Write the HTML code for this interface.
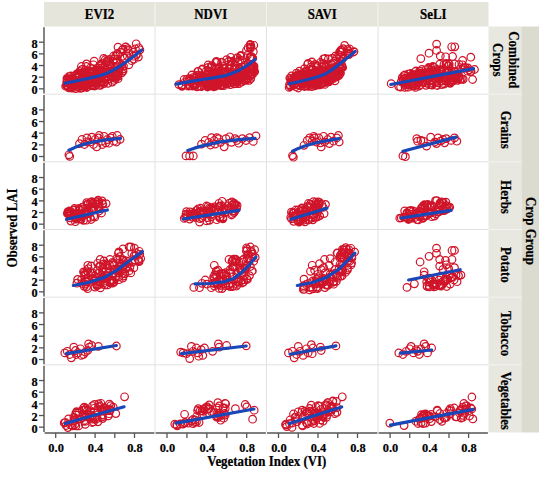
<!DOCTYPE html><html><head><meta charset="utf-8"><style>
html,body{margin:0;padding:0;background:#fff;width:550px;height:479px;overflow:hidden}
svg{display:block}
text{font-family:"Liberation Serif",serif;font-weight:bold;fill:#000;stroke:#000;stroke-width:0.2px}
</style></head><body>
<svg width="550" height="479" viewBox="0 0 550 479">

<rect x="44" y="2" width="444.5" height="24.5" fill="#e6e5dc"/>
<rect x="488.5" y="26.5" width="33" height="406" fill="#e8e7e0"/>
<rect x="521.5" y="26.5" width="17.5" height="406" fill="#dcdbcf"/>
<line x1="155" y1="2" x2="155" y2="26.5" stroke="#f4f4ef" stroke-width="1"/>
<line x1="266.5" y1="2" x2="266.5" y2="26.5" stroke="#f4f4ef" stroke-width="1"/>
<line x1="378" y1="2" x2="378" y2="26.5" stroke="#f4f4ef" stroke-width="1"/>
<line x1="488.5" y1="94.17" x2="521.5" y2="94.17" stroke="#f4f4ef" stroke-width="1"/>
<line x1="488.5" y1="161.83" x2="521.5" y2="161.83" stroke="#f4f4ef" stroke-width="1"/>
<line x1="488.5" y1="229.50" x2="521.5" y2="229.50" stroke="#f4f4ef" stroke-width="1"/>
<line x1="488.5" y1="297.17" x2="521.5" y2="297.17" stroke="#f4f4ef" stroke-width="1"/>
<line x1="488.5" y1="364.83" x2="521.5" y2="364.83" stroke="#f4f4ef" stroke-width="1"/>
<line x1="155" y1="26.5" x2="155" y2="432.5" stroke="#e2e2e2" stroke-width="1"/>
<line x1="266.5" y1="26.5" x2="266.5" y2="432.5" stroke="#e2e2e2" stroke-width="1"/>
<line x1="378" y1="26.5" x2="378" y2="432.5" stroke="#e2e2e2" stroke-width="1"/>
<line x1="44" y1="94.17" x2="488.5" y2="94.17" stroke="#e2e2e2" stroke-width="1"/>
<line x1="44" y1="161.83" x2="488.5" y2="161.83" stroke="#e2e2e2" stroke-width="1"/>
<line x1="44" y1="229.50" x2="488.5" y2="229.50" stroke="#e2e2e2" stroke-width="1"/>
<line x1="44" y1="297.17" x2="488.5" y2="297.17" stroke="#e2e2e2" stroke-width="1"/>
<line x1="44" y1="364.83" x2="488.5" y2="364.83" stroke="#e2e2e2" stroke-width="1"/>
<text transform="translate(99.50,18.90) scale(1,1.06)" font-size="12.9" text-anchor="middle">EVI2</text>
<text transform="translate(210.75,18.90) scale(1,1.06)" font-size="12.9" text-anchor="middle">NDVI</text>
<text transform="translate(322.25,18.90) scale(1,1.06)" font-size="12.9" text-anchor="middle">SAVI</text>
<text transform="translate(433.25,18.90) scale(1,1.06)" font-size="12.9" text-anchor="middle">SeLI</text>
<text transform="translate(508.80,59.83) rotate(90) scale(1,1.06)" font-size="12.9" text-anchor="middle">Combined</text>
<text transform="translate(493.30,59.83) rotate(90) scale(1,1.06)" font-size="12.9" text-anchor="middle">Crops</text>
<text transform="translate(500.80,129.75) rotate(90) scale(1,1.06)" font-size="12.9" text-anchor="middle">Grains</text>
<text transform="translate(500.80,197.07) rotate(90) scale(1,1.06)" font-size="12.9" text-anchor="middle">Herbs</text>
<text transform="translate(500.80,264.78) rotate(90) scale(1,1.06)" font-size="12.9" text-anchor="middle">Potato</text>
<text transform="translate(500.80,333.60) rotate(90) scale(1,1.06)" font-size="12.9" text-anchor="middle">Tobacco</text>
<text transform="translate(500.80,400.77) rotate(90) scale(1,1.06)" font-size="12.9" text-anchor="middle">Vegetables</text>
<text transform="translate(525.50,231.00) rotate(90) scale(1,1.06)" font-size="12.9" text-anchor="middle">Crop Group</text>
<text transform="translate(16.80,228.00) rotate(-90) scale(1,1.06)" font-size="12.9" text-anchor="middle">Observed LAI</text>
<text transform="translate(266.80,465.90) scale(1,1.06)" font-size="12.9" text-anchor="middle">Vegetation Index (VI)</text>
<line x1="44" y1="27.30" x2="44" y2="93.57" stroke="#666" stroke-width="1.6"/>
<line x1="39" y1="88.85" x2="44" y2="88.85" stroke="#555" stroke-width="1.3"/>
<text transform="translate(37.60,94.35) scale(1,1.08)" font-size="12.3" text-anchor="end">0</text>
<line x1="39" y1="77.19" x2="44" y2="77.19" stroke="#555" stroke-width="1.3"/>
<text transform="translate(37.60,82.69) scale(1,1.08)" font-size="12.3" text-anchor="end">2</text>
<line x1="39" y1="65.53" x2="44" y2="65.53" stroke="#555" stroke-width="1.3"/>
<text transform="translate(37.60,71.03) scale(1,1.08)" font-size="12.3" text-anchor="end">4</text>
<line x1="39" y1="53.87" x2="44" y2="53.87" stroke="#555" stroke-width="1.3"/>
<text transform="translate(37.60,59.37) scale(1,1.08)" font-size="12.3" text-anchor="end">6</text>
<line x1="39" y1="42.21" x2="44" y2="42.21" stroke="#555" stroke-width="1.3"/>
<text transform="translate(37.60,47.71) scale(1,1.08)" font-size="12.3" text-anchor="end">8</text>
<line x1="44" y1="94.97" x2="44" y2="161.23" stroke="#666" stroke-width="1.6"/>
<line x1="39" y1="156.52" x2="44" y2="156.52" stroke="#555" stroke-width="1.3"/>
<text transform="translate(37.60,162.02) scale(1,1.08)" font-size="12.3" text-anchor="end">0</text>
<line x1="39" y1="144.86" x2="44" y2="144.86" stroke="#555" stroke-width="1.3"/>
<text transform="translate(37.60,150.36) scale(1,1.08)" font-size="12.3" text-anchor="end">2</text>
<line x1="39" y1="133.20" x2="44" y2="133.20" stroke="#555" stroke-width="1.3"/>
<text transform="translate(37.60,138.70) scale(1,1.08)" font-size="12.3" text-anchor="end">4</text>
<line x1="39" y1="121.54" x2="44" y2="121.54" stroke="#555" stroke-width="1.3"/>
<text transform="translate(37.60,127.04) scale(1,1.08)" font-size="12.3" text-anchor="end">6</text>
<line x1="39" y1="109.88" x2="44" y2="109.88" stroke="#555" stroke-width="1.3"/>
<text transform="translate(37.60,115.38) scale(1,1.08)" font-size="12.3" text-anchor="end">8</text>
<line x1="44" y1="162.63" x2="44" y2="228.90" stroke="#666" stroke-width="1.6"/>
<line x1="39" y1="224.18" x2="44" y2="224.18" stroke="#555" stroke-width="1.3"/>
<text transform="translate(37.60,229.68) scale(1,1.08)" font-size="12.3" text-anchor="end">0</text>
<line x1="39" y1="212.52" x2="44" y2="212.52" stroke="#555" stroke-width="1.3"/>
<text transform="translate(37.60,218.02) scale(1,1.08)" font-size="12.3" text-anchor="end">2</text>
<line x1="39" y1="200.86" x2="44" y2="200.86" stroke="#555" stroke-width="1.3"/>
<text transform="translate(37.60,206.36) scale(1,1.08)" font-size="12.3" text-anchor="end">4</text>
<line x1="39" y1="189.20" x2="44" y2="189.20" stroke="#555" stroke-width="1.3"/>
<text transform="translate(37.60,194.70) scale(1,1.08)" font-size="12.3" text-anchor="end">6</text>
<line x1="39" y1="177.54" x2="44" y2="177.54" stroke="#555" stroke-width="1.3"/>
<text transform="translate(37.60,183.04) scale(1,1.08)" font-size="12.3" text-anchor="end">8</text>
<line x1="44" y1="230.30" x2="44" y2="296.57" stroke="#666" stroke-width="1.6"/>
<line x1="39" y1="291.85" x2="44" y2="291.85" stroke="#555" stroke-width="1.3"/>
<text transform="translate(37.60,297.35) scale(1,1.08)" font-size="12.3" text-anchor="end">0</text>
<line x1="39" y1="280.19" x2="44" y2="280.19" stroke="#555" stroke-width="1.3"/>
<text transform="translate(37.60,285.69) scale(1,1.08)" font-size="12.3" text-anchor="end">2</text>
<line x1="39" y1="268.53" x2="44" y2="268.53" stroke="#555" stroke-width="1.3"/>
<text transform="translate(37.60,274.03) scale(1,1.08)" font-size="12.3" text-anchor="end">4</text>
<line x1="39" y1="256.87" x2="44" y2="256.87" stroke="#555" stroke-width="1.3"/>
<text transform="translate(37.60,262.37) scale(1,1.08)" font-size="12.3" text-anchor="end">6</text>
<line x1="39" y1="245.21" x2="44" y2="245.21" stroke="#555" stroke-width="1.3"/>
<text transform="translate(37.60,250.71) scale(1,1.08)" font-size="12.3" text-anchor="end">8</text>
<line x1="44" y1="297.97" x2="44" y2="364.23" stroke="#666" stroke-width="1.6"/>
<line x1="39" y1="359.52" x2="44" y2="359.52" stroke="#555" stroke-width="1.3"/>
<text transform="translate(37.60,365.02) scale(1,1.08)" font-size="12.3" text-anchor="end">0</text>
<line x1="39" y1="347.86" x2="44" y2="347.86" stroke="#555" stroke-width="1.3"/>
<text transform="translate(37.60,353.36) scale(1,1.08)" font-size="12.3" text-anchor="end">2</text>
<line x1="39" y1="336.20" x2="44" y2="336.20" stroke="#555" stroke-width="1.3"/>
<text transform="translate(37.60,341.70) scale(1,1.08)" font-size="12.3" text-anchor="end">4</text>
<line x1="39" y1="324.54" x2="44" y2="324.54" stroke="#555" stroke-width="1.3"/>
<text transform="translate(37.60,330.04) scale(1,1.08)" font-size="12.3" text-anchor="end">6</text>
<line x1="39" y1="312.88" x2="44" y2="312.88" stroke="#555" stroke-width="1.3"/>
<text transform="translate(37.60,318.38) scale(1,1.08)" font-size="12.3" text-anchor="end">8</text>
<line x1="44" y1="365.63" x2="44" y2="431.90" stroke="#666" stroke-width="1.6"/>
<line x1="39" y1="427.18" x2="44" y2="427.18" stroke="#555" stroke-width="1.3"/>
<text transform="translate(37.60,432.68) scale(1,1.08)" font-size="12.3" text-anchor="end">0</text>
<line x1="39" y1="415.52" x2="44" y2="415.52" stroke="#555" stroke-width="1.3"/>
<text transform="translate(37.60,421.02) scale(1,1.08)" font-size="12.3" text-anchor="end">2</text>
<line x1="39" y1="403.86" x2="44" y2="403.86" stroke="#555" stroke-width="1.3"/>
<text transform="translate(37.60,409.36) scale(1,1.08)" font-size="12.3" text-anchor="end">4</text>
<line x1="39" y1="392.20" x2="44" y2="392.20" stroke="#555" stroke-width="1.3"/>
<text transform="translate(37.60,397.70) scale(1,1.08)" font-size="12.3" text-anchor="end">6</text>
<line x1="39" y1="380.54" x2="44" y2="380.54" stroke="#555" stroke-width="1.3"/>
<text transform="translate(37.60,386.04) scale(1,1.08)" font-size="12.3" text-anchor="end">8</text>
<line x1="44.60" y1="433" x2="154.40" y2="433" stroke="#555" stroke-width="1.6"/>
<line x1="55.70" y1="433" x2="55.70" y2="438" stroke="#555" stroke-width="1.3"/>
<text transform="translate(56.10,451.70) scale(1,1.06)" font-size="12.4" text-anchor="middle">0.0</text>
<line x1="75.40" y1="433" x2="75.40" y2="438" stroke="#555" stroke-width="1.3"/>
<line x1="95.10" y1="433" x2="95.10" y2="438" stroke="#555" stroke-width="1.3"/>
<text transform="translate(95.50,451.70) scale(1,1.06)" font-size="12.4" text-anchor="middle">0.4</text>
<line x1="114.80" y1="433" x2="114.80" y2="438" stroke="#555" stroke-width="1.3"/>
<line x1="134.50" y1="433" x2="134.50" y2="438" stroke="#555" stroke-width="1.3"/>
<text transform="translate(134.90,451.70) scale(1,1.06)" font-size="12.4" text-anchor="middle">0.8</text>
<line x1="155.60" y1="433" x2="265.90" y2="433" stroke="#555" stroke-width="1.6"/>
<line x1="167.00" y1="433" x2="167.00" y2="438" stroke="#555" stroke-width="1.3"/>
<text transform="translate(167.40,451.70) scale(1,1.06)" font-size="12.4" text-anchor="middle">0.0</text>
<line x1="186.93" y1="433" x2="186.93" y2="438" stroke="#555" stroke-width="1.3"/>
<line x1="206.85" y1="433" x2="206.85" y2="438" stroke="#555" stroke-width="1.3"/>
<text transform="translate(207.25,451.70) scale(1,1.06)" font-size="12.4" text-anchor="middle">0.4</text>
<line x1="226.78" y1="433" x2="226.78" y2="438" stroke="#555" stroke-width="1.3"/>
<line x1="246.70" y1="433" x2="246.70" y2="438" stroke="#555" stroke-width="1.3"/>
<text transform="translate(247.10,451.70) scale(1,1.06)" font-size="12.4" text-anchor="middle">0.8</text>
<line x1="267.10" y1="433" x2="377.40" y2="433" stroke="#555" stroke-width="1.6"/>
<line x1="278.50" y1="433" x2="278.50" y2="438" stroke="#555" stroke-width="1.3"/>
<text transform="translate(278.90,451.70) scale(1,1.06)" font-size="12.4" text-anchor="middle">0.0</text>
<line x1="298.25" y1="433" x2="298.25" y2="438" stroke="#555" stroke-width="1.3"/>
<line x1="318.00" y1="433" x2="318.00" y2="438" stroke="#555" stroke-width="1.3"/>
<text transform="translate(318.40,451.70) scale(1,1.06)" font-size="12.4" text-anchor="middle">0.4</text>
<line x1="337.75" y1="433" x2="337.75" y2="438" stroke="#555" stroke-width="1.3"/>
<line x1="357.50" y1="433" x2="357.50" y2="438" stroke="#555" stroke-width="1.3"/>
<text transform="translate(357.90,451.70) scale(1,1.06)" font-size="12.4" text-anchor="middle">0.8</text>
<line x1="378.60" y1="433" x2="487.90" y2="433" stroke="#555" stroke-width="1.6"/>
<line x1="390.10" y1="433" x2="390.10" y2="438" stroke="#555" stroke-width="1.3"/>
<text transform="translate(390.50,451.70) scale(1,1.06)" font-size="12.4" text-anchor="middle">0.0</text>
<line x1="409.73" y1="433" x2="409.73" y2="438" stroke="#555" stroke-width="1.3"/>
<line x1="429.35" y1="433" x2="429.35" y2="438" stroke="#555" stroke-width="1.3"/>
<text transform="translate(429.75,451.70) scale(1,1.06)" font-size="12.4" text-anchor="middle">0.4</text>
<line x1="448.98" y1="433" x2="448.98" y2="438" stroke="#555" stroke-width="1.3"/>
<line x1="468.60" y1="433" x2="468.60" y2="438" stroke="#555" stroke-width="1.3"/>
<text transform="translate(469.00,451.70) scale(1,1.06)" font-size="12.4" text-anchor="middle">0.8</text>
<path d="M101.5 59.6a3.8 3.8 0 1 0 7.6 0a3.8 3.8 0 1 0 -7.6 0M123.9 48.6a3.8 3.8 0 1 0 7.6 0a3.8 3.8 0 1 0 -7.6 0M104.6 61.0a3.8 3.8 0 1 0 7.6 0a3.8 3.8 0 1 0 -7.6 0M63.7 82.0a3.8 3.8 0 1 0 7.6 0a3.8 3.8 0 1 0 -7.6 0M83.9 80.1a3.8 3.8 0 1 0 7.6 0a3.8 3.8 0 1 0 -7.6 0M105.0 72.1a3.8 3.8 0 1 0 7.6 0a3.8 3.8 0 1 0 -7.6 0M112.6 62.5a3.8 3.8 0 1 0 7.6 0a3.8 3.8 0 1 0 -7.6 0M105.3 63.6a3.8 3.8 0 1 0 7.6 0a3.8 3.8 0 1 0 -7.6 0M78.9 69.1a3.8 3.8 0 1 0 7.6 0a3.8 3.8 0 1 0 -7.6 0M118.5 49.9a3.8 3.8 0 1 0 7.6 0a3.8 3.8 0 1 0 -7.6 0M119.1 69.1a3.8 3.8 0 1 0 7.6 0a3.8 3.8 0 1 0 -7.6 0M84.3 74.6a3.8 3.8 0 1 0 7.6 0a3.8 3.8 0 1 0 -7.6 0M104.9 63.8a3.8 3.8 0 1 0 7.6 0a3.8 3.8 0 1 0 -7.6 0M114.2 72.4a3.8 3.8 0 1 0 7.6 0a3.8 3.8 0 1 0 -7.6 0M123.5 56.0a3.8 3.8 0 1 0 7.6 0a3.8 3.8 0 1 0 -7.6 0M119.4 48.9a3.8 3.8 0 1 0 7.6 0a3.8 3.8 0 1 0 -7.6 0M90.3 82.6a3.8 3.8 0 1 0 7.6 0a3.8 3.8 0 1 0 -7.6 0M94.8 68.0a3.8 3.8 0 1 0 7.6 0a3.8 3.8 0 1 0 -7.6 0M87.8 83.2a3.8 3.8 0 1 0 7.6 0a3.8 3.8 0 1 0 -7.6 0M97.5 69.8a3.8 3.8 0 1 0 7.6 0a3.8 3.8 0 1 0 -7.6 0M88.6 68.8a3.8 3.8 0 1 0 7.6 0a3.8 3.8 0 1 0 -7.6 0M113.4 66.4a3.8 3.8 0 1 0 7.6 0a3.8 3.8 0 1 0 -7.6 0M90.4 61.2a3.8 3.8 0 1 0 7.6 0a3.8 3.8 0 1 0 -7.6 0M69.6 81.6a3.8 3.8 0 1 0 7.6 0a3.8 3.8 0 1 0 -7.6 0M96.1 65.0a3.8 3.8 0 1 0 7.6 0a3.8 3.8 0 1 0 -7.6 0M80.5 80.7a3.8 3.8 0 1 0 7.6 0a3.8 3.8 0 1 0 -7.6 0M61.9 86.2a3.8 3.8 0 1 0 7.6 0a3.8 3.8 0 1 0 -7.6 0M113.8 54.9a3.8 3.8 0 1 0 7.6 0a3.8 3.8 0 1 0 -7.6 0M73.0 78.1a3.8 3.8 0 1 0 7.6 0a3.8 3.8 0 1 0 -7.6 0M120.2 58.0a3.8 3.8 0 1 0 7.6 0a3.8 3.8 0 1 0 -7.6 0M77.6 66.5a3.8 3.8 0 1 0 7.6 0a3.8 3.8 0 1 0 -7.6 0M75.9 71.4a3.8 3.8 0 1 0 7.6 0a3.8 3.8 0 1 0 -7.6 0M125.0 64.8a3.8 3.8 0 1 0 7.6 0a3.8 3.8 0 1 0 -7.6 0M121.8 46.9a3.8 3.8 0 1 0 7.6 0a3.8 3.8 0 1 0 -7.6 0M118.0 64.7a3.8 3.8 0 1 0 7.6 0a3.8 3.8 0 1 0 -7.6 0M121.0 58.1a3.8 3.8 0 1 0 7.6 0a3.8 3.8 0 1 0 -7.6 0M91.1 86.0a3.8 3.8 0 1 0 7.6 0a3.8 3.8 0 1 0 -7.6 0M71.7 84.1a3.8 3.8 0 1 0 7.6 0a3.8 3.8 0 1 0 -7.6 0M71.4 80.6a3.8 3.8 0 1 0 7.6 0a3.8 3.8 0 1 0 -7.6 0M110.8 58.9a3.8 3.8 0 1 0 7.6 0a3.8 3.8 0 1 0 -7.6 0M93.6 82.6a3.8 3.8 0 1 0 7.6 0a3.8 3.8 0 1 0 -7.6 0M130.4 59.1a3.8 3.8 0 1 0 7.6 0a3.8 3.8 0 1 0 -7.6 0M92.6 84.7a3.8 3.8 0 1 0 7.6 0a3.8 3.8 0 1 0 -7.6 0M101.1 66.8a3.8 3.8 0 1 0 7.6 0a3.8 3.8 0 1 0 -7.6 0M116.1 68.3a3.8 3.8 0 1 0 7.6 0a3.8 3.8 0 1 0 -7.6 0M100.1 68.3a3.8 3.8 0 1 0 7.6 0a3.8 3.8 0 1 0 -7.6 0M119.7 66.1a3.8 3.8 0 1 0 7.6 0a3.8 3.8 0 1 0 -7.6 0M94.3 70.9a3.8 3.8 0 1 0 7.6 0a3.8 3.8 0 1 0 -7.6 0M99.6 74.5a3.8 3.8 0 1 0 7.6 0a3.8 3.8 0 1 0 -7.6 0M101.3 64.7a3.8 3.8 0 1 0 7.6 0a3.8 3.8 0 1 0 -7.6 0M132.8 54.8a3.8 3.8 0 1 0 7.6 0a3.8 3.8 0 1 0 -7.6 0M111.8 78.6a3.8 3.8 0 1 0 7.6 0a3.8 3.8 0 1 0 -7.6 0M72.0 75.6a3.8 3.8 0 1 0 7.6 0a3.8 3.8 0 1 0 -7.6 0M71.1 83.1a3.8 3.8 0 1 0 7.6 0a3.8 3.8 0 1 0 -7.6 0M77.0 86.3a3.8 3.8 0 1 0 7.6 0a3.8 3.8 0 1 0 -7.6 0M124.4 50.4a3.8 3.8 0 1 0 7.6 0a3.8 3.8 0 1 0 -7.6 0M99.9 58.4a3.8 3.8 0 1 0 7.6 0a3.8 3.8 0 1 0 -7.6 0M84.7 75.8a3.8 3.8 0 1 0 7.6 0a3.8 3.8 0 1 0 -7.6 0M102.9 63.0a3.8 3.8 0 1 0 7.6 0a3.8 3.8 0 1 0 -7.6 0M85.7 71.4a3.8 3.8 0 1 0 7.6 0a3.8 3.8 0 1 0 -7.6 0M65.0 87.8a3.8 3.8 0 1 0 7.6 0a3.8 3.8 0 1 0 -7.6 0M135.1 47.8a3.8 3.8 0 1 0 7.6 0a3.8 3.8 0 1 0 -7.6 0M63.1 78.4a3.8 3.8 0 1 0 7.6 0a3.8 3.8 0 1 0 -7.6 0M114.2 47.1a3.8 3.8 0 1 0 7.6 0a3.8 3.8 0 1 0 -7.6 0M113.2 62.4a3.8 3.8 0 1 0 7.6 0a3.8 3.8 0 1 0 -7.6 0M122.0 46.8a3.8 3.8 0 1 0 7.6 0a3.8 3.8 0 1 0 -7.6 0M65.2 82.2a3.8 3.8 0 1 0 7.6 0a3.8 3.8 0 1 0 -7.6 0M86.3 68.2a3.8 3.8 0 1 0 7.6 0a3.8 3.8 0 1 0 -7.6 0M118.7 56.2a3.8 3.8 0 1 0 7.6 0a3.8 3.8 0 1 0 -7.6 0M68.3 80.2a3.8 3.8 0 1 0 7.6 0a3.8 3.8 0 1 0 -7.6 0M98.3 80.9a3.8 3.8 0 1 0 7.6 0a3.8 3.8 0 1 0 -7.6 0M99.2 74.3a3.8 3.8 0 1 0 7.6 0a3.8 3.8 0 1 0 -7.6 0M86.5 80.8a3.8 3.8 0 1 0 7.6 0a3.8 3.8 0 1 0 -7.6 0M109.2 61.4a3.8 3.8 0 1 0 7.6 0a3.8 3.8 0 1 0 -7.6 0M65.5 76.7a3.8 3.8 0 1 0 7.6 0a3.8 3.8 0 1 0 -7.6 0M111.9 55.8a3.8 3.8 0 1 0 7.6 0a3.8 3.8 0 1 0 -7.6 0M82.7 63.9a3.8 3.8 0 1 0 7.6 0a3.8 3.8 0 1 0 -7.6 0M134.6 57.1a3.8 3.8 0 1 0 7.6 0a3.8 3.8 0 1 0 -7.6 0M96.7 65.9a3.8 3.8 0 1 0 7.6 0a3.8 3.8 0 1 0 -7.6 0M78.0 69.6a3.8 3.8 0 1 0 7.6 0a3.8 3.8 0 1 0 -7.6 0M118.0 72.9a3.8 3.8 0 1 0 7.6 0a3.8 3.8 0 1 0 -7.6 0M128.0 60.7a3.8 3.8 0 1 0 7.6 0a3.8 3.8 0 1 0 -7.6 0M136.1 49.8a3.8 3.8 0 1 0 7.6 0a3.8 3.8 0 1 0 -7.6 0M108.5 76.4a3.8 3.8 0 1 0 7.6 0a3.8 3.8 0 1 0 -7.6 0M99.0 81.0a3.8 3.8 0 1 0 7.6 0a3.8 3.8 0 1 0 -7.6 0M113.6 53.5a3.8 3.8 0 1 0 7.6 0a3.8 3.8 0 1 0 -7.6 0M68.2 81.0a3.8 3.8 0 1 0 7.6 0a3.8 3.8 0 1 0 -7.6 0M108.6 71.5a3.8 3.8 0 1 0 7.6 0a3.8 3.8 0 1 0 -7.6 0M98.9 67.3a3.8 3.8 0 1 0 7.6 0a3.8 3.8 0 1 0 -7.6 0M65.2 76.5a3.8 3.8 0 1 0 7.6 0a3.8 3.8 0 1 0 -7.6 0M116.4 52.3a3.8 3.8 0 1 0 7.6 0a3.8 3.8 0 1 0 -7.6 0M89.6 64.8a3.8 3.8 0 1 0 7.6 0a3.8 3.8 0 1 0 -7.6 0M119.3 71.1a3.8 3.8 0 1 0 7.6 0a3.8 3.8 0 1 0 -7.6 0M79.7 76.8a3.8 3.8 0 1 0 7.6 0a3.8 3.8 0 1 0 -7.6 0M112.0 74.5a3.8 3.8 0 1 0 7.6 0a3.8 3.8 0 1 0 -7.6 0M82.5 66.5a3.8 3.8 0 1 0 7.6 0a3.8 3.8 0 1 0 -7.6 0M129.1 52.1a3.8 3.8 0 1 0 7.6 0a3.8 3.8 0 1 0 -7.6 0M132.4 43.8a3.8 3.8 0 1 0 7.6 0a3.8 3.8 0 1 0 -7.6 0M76.3 86.0a3.8 3.8 0 1 0 7.6 0a3.8 3.8 0 1 0 -7.6 0M70.3 80.3a3.8 3.8 0 1 0 7.6 0a3.8 3.8 0 1 0 -7.6 0M77.9 83.8a3.8 3.8 0 1 0 7.6 0a3.8 3.8 0 1 0 -7.6 0M98.0 63.5a3.8 3.8 0 1 0 7.6 0a3.8 3.8 0 1 0 -7.6 0M84.5 81.2a3.8 3.8 0 1 0 7.6 0a3.8 3.8 0 1 0 -7.6 0M69.3 85.1a3.8 3.8 0 1 0 7.6 0a3.8 3.8 0 1 0 -7.6 0M129.7 56.2a3.8 3.8 0 1 0 7.6 0a3.8 3.8 0 1 0 -7.6 0M105.6 59.4a3.8 3.8 0 1 0 7.6 0a3.8 3.8 0 1 0 -7.6 0M67.9 81.0a3.8 3.8 0 1 0 7.6 0a3.8 3.8 0 1 0 -7.6 0M132.3 54.4a3.8 3.8 0 1 0 7.6 0a3.8 3.8 0 1 0 -7.6 0M116.6 63.5a3.8 3.8 0 1 0 7.6 0a3.8 3.8 0 1 0 -7.6 0M109.8 56.0a3.8 3.8 0 1 0 7.6 0a3.8 3.8 0 1 0 -7.6 0M131.6 48.8a3.8 3.8 0 1 0 7.6 0a3.8 3.8 0 1 0 -7.6 0M80.2 72.8a3.8 3.8 0 1 0 7.6 0a3.8 3.8 0 1 0 -7.6 0M103.1 60.9a3.8 3.8 0 1 0 7.6 0a3.8 3.8 0 1 0 -7.6 0M77.1 84.2a3.8 3.8 0 1 0 7.6 0a3.8 3.8 0 1 0 -7.6 0M104.1 83.3a3.8 3.8 0 1 0 7.6 0a3.8 3.8 0 1 0 -7.6 0M84.2 77.0a3.8 3.8 0 1 0 7.6 0a3.8 3.8 0 1 0 -7.6 0M82.2 75.5a3.8 3.8 0 1 0 7.6 0a3.8 3.8 0 1 0 -7.6 0M76.6 88.3a3.8 3.8 0 1 0 7.6 0a3.8 3.8 0 1 0 -7.6 0M89.3 81.4a3.8 3.8 0 1 0 7.6 0a3.8 3.8 0 1 0 -7.6 0M73.2 74.1a3.8 3.8 0 1 0 7.6 0a3.8 3.8 0 1 0 -7.6 0M83.5 77.7a3.8 3.8 0 1 0 7.6 0a3.8 3.8 0 1 0 -7.6 0M87.6 80.6a3.8 3.8 0 1 0 7.6 0a3.8 3.8 0 1 0 -7.6 0M83.0 87.5a3.8 3.8 0 1 0 7.6 0a3.8 3.8 0 1 0 -7.6 0M69.8 79.2a3.8 3.8 0 1 0 7.6 0a3.8 3.8 0 1 0 -7.6 0M97.3 84.2a3.8 3.8 0 1 0 7.6 0a3.8 3.8 0 1 0 -7.6 0M104.8 73.4a3.8 3.8 0 1 0 7.6 0a3.8 3.8 0 1 0 -7.6 0M97.2 74.8a3.8 3.8 0 1 0 7.6 0a3.8 3.8 0 1 0 -7.6 0M75.2 81.6a3.8 3.8 0 1 0 7.6 0a3.8 3.8 0 1 0 -7.6 0M90.4 80.5a3.8 3.8 0 1 0 7.6 0a3.8 3.8 0 1 0 -7.6 0M73.6 80.8a3.8 3.8 0 1 0 7.6 0a3.8 3.8 0 1 0 -7.6 0M78.0 78.0a3.8 3.8 0 1 0 7.6 0a3.8 3.8 0 1 0 -7.6 0M87.7 73.4a3.8 3.8 0 1 0 7.6 0a3.8 3.8 0 1 0 -7.6 0M89.0 82.3a3.8 3.8 0 1 0 7.6 0a3.8 3.8 0 1 0 -7.6 0M75.5 82.2a3.8 3.8 0 1 0 7.6 0a3.8 3.8 0 1 0 -7.6 0M80.0 77.2a3.8 3.8 0 1 0 7.6 0a3.8 3.8 0 1 0 -7.6 0M72.2 84.8a3.8 3.8 0 1 0 7.6 0a3.8 3.8 0 1 0 -7.6 0M89.3 72.8a3.8 3.8 0 1 0 7.6 0a3.8 3.8 0 1 0 -7.6 0M78.6 85.3a3.8 3.8 0 1 0 7.6 0a3.8 3.8 0 1 0 -7.6 0M73.5 84.1a3.8 3.8 0 1 0 7.6 0a3.8 3.8 0 1 0 -7.6 0M114.3 78.7a3.8 3.8 0 1 0 7.6 0a3.8 3.8 0 1 0 -7.6 0M73.6 77.1a3.8 3.8 0 1 0 7.6 0a3.8 3.8 0 1 0 -7.6 0M114.1 71.6a3.8 3.8 0 1 0 7.6 0a3.8 3.8 0 1 0 -7.6 0M73.0 88.4a3.8 3.8 0 1 0 7.6 0a3.8 3.8 0 1 0 -7.6 0M83.1 86.9a3.8 3.8 0 1 0 7.6 0a3.8 3.8 0 1 0 -7.6 0M113.2 75.3a3.8 3.8 0 1 0 7.6 0a3.8 3.8 0 1 0 -7.6 0M62.9 82.1a3.8 3.8 0 1 0 7.6 0a3.8 3.8 0 1 0 -7.6 0M82.0 75.4a3.8 3.8 0 1 0 7.6 0a3.8 3.8 0 1 0 -7.6 0M68.0 88.2a3.8 3.8 0 1 0 7.6 0a3.8 3.8 0 1 0 -7.6 0M81.1 85.3a3.8 3.8 0 1 0 7.6 0a3.8 3.8 0 1 0 -7.6 0M87.6 76.2a3.8 3.8 0 1 0 7.6 0a3.8 3.8 0 1 0 -7.6 0M71.9 76.0a3.8 3.8 0 1 0 7.6 0a3.8 3.8 0 1 0 -7.6 0M64.6 87.3a3.8 3.8 0 1 0 7.6 0a3.8 3.8 0 1 0 -7.6 0M80.1 74.2a3.8 3.8 0 1 0 7.6 0a3.8 3.8 0 1 0 -7.6 0M95.6 74.0a3.8 3.8 0 1 0 7.6 0a3.8 3.8 0 1 0 -7.6 0M78.8 74.2a3.8 3.8 0 1 0 7.6 0a3.8 3.8 0 1 0 -7.6 0M114.4 76.5a3.8 3.8 0 1 0 7.6 0a3.8 3.8 0 1 0 -7.6 0M85.2 78.7a3.8 3.8 0 1 0 7.6 0a3.8 3.8 0 1 0 -7.6 0M71.4 84.9a3.8 3.8 0 1 0 7.6 0a3.8 3.8 0 1 0 -7.6 0M95.1 75.3a3.8 3.8 0 1 0 7.6 0a3.8 3.8 0 1 0 -7.6 0M81.4 84.5a3.8 3.8 0 1 0 7.6 0a3.8 3.8 0 1 0 -7.6 0M72.2 83.9a3.8 3.8 0 1 0 7.6 0a3.8 3.8 0 1 0 -7.6 0M92.0 75.2a3.8 3.8 0 1 0 7.6 0a3.8 3.8 0 1 0 -7.6 0M66.5 78.8a3.8 3.8 0 1 0 7.6 0a3.8 3.8 0 1 0 -7.6 0M86.1 73.4a3.8 3.8 0 1 0 7.6 0a3.8 3.8 0 1 0 -7.6 0M95.8 82.3a3.8 3.8 0 1 0 7.6 0a3.8 3.8 0 1 0 -7.6 0M108.5 82.1a3.8 3.8 0 1 0 7.6 0a3.8 3.8 0 1 0 -7.6 0M108.1 74.6a3.8 3.8 0 1 0 7.6 0a3.8 3.8 0 1 0 -7.6 0M82.0 83.6a3.8 3.8 0 1 0 7.6 0a3.8 3.8 0 1 0 -7.6 0M75.0 73.6a3.8 3.8 0 1 0 7.6 0a3.8 3.8 0 1 0 -7.6 0M110.5 80.4a3.8 3.8 0 1 0 7.6 0a3.8 3.8 0 1 0 -7.6 0M89.5 73.3a3.8 3.8 0 1 0 7.6 0a3.8 3.8 0 1 0 -7.6 0M66.9 78.3a3.8 3.8 0 1 0 7.6 0a3.8 3.8 0 1 0 -7.6 0M113.1 76.2a3.8 3.8 0 1 0 7.6 0a3.8 3.8 0 1 0 -7.6 0M86.2 73.9a3.8 3.8 0 1 0 7.6 0a3.8 3.8 0 1 0 -7.6 0M94.4 81.2a3.8 3.8 0 1 0 7.6 0a3.8 3.8 0 1 0 -7.6 0M81.7 71.5a3.8 3.8 0 1 0 7.6 0a3.8 3.8 0 1 0 -7.6 0M75.4 80.8a3.8 3.8 0 1 0 7.6 0a3.8 3.8 0 1 0 -7.6 0M79.4 82.4a3.8 3.8 0 1 0 7.6 0a3.8 3.8 0 1 0 -7.6 0M78.6 72.8a3.8 3.8 0 1 0 7.6 0a3.8 3.8 0 1 0 -7.6 0M91.8 69.9a3.8 3.8 0 1 0 7.6 0a3.8 3.8 0 1 0 -7.6 0M83.2 79.8a3.8 3.8 0 1 0 7.6 0a3.8 3.8 0 1 0 -7.6 0M100.0 77.0a3.8 3.8 0 1 0 7.6 0a3.8 3.8 0 1 0 -7.6 0M78.3 88.0a3.8 3.8 0 1 0 7.6 0a3.8 3.8 0 1 0 -7.6 0M92.8 75.9a3.8 3.8 0 1 0 7.6 0a3.8 3.8 0 1 0 -7.6 0M81.5 72.6a3.8 3.8 0 1 0 7.6 0a3.8 3.8 0 1 0 -7.6 0M111.5 77.2a3.8 3.8 0 1 0 7.6 0a3.8 3.8 0 1 0 -7.6 0M83.8 86.6a3.8 3.8 0 1 0 7.6 0a3.8 3.8 0 1 0 -7.6 0M92.0 81.6a3.8 3.8 0 1 0 7.6 0a3.8 3.8 0 1 0 -7.6 0M66.1 81.3a3.8 3.8 0 1 0 7.6 0a3.8 3.8 0 1 0 -7.6 0M89.3 71.6a3.8 3.8 0 1 0 7.6 0a3.8 3.8 0 1 0 -7.6 0M67.2 78.6a3.8 3.8 0 1 0 7.6 0a3.8 3.8 0 1 0 -7.6 0M115.2 72.6a3.8 3.8 0 1 0 7.6 0a3.8 3.8 0 1 0 -7.6 0M112.9 76.5a3.8 3.8 0 1 0 7.6 0a3.8 3.8 0 1 0 -7.6 0M95.8 85.4a3.8 3.8 0 1 0 7.6 0a3.8 3.8 0 1 0 -7.6 0M105.0 73.1a3.8 3.8 0 1 0 7.6 0a3.8 3.8 0 1 0 -7.6 0M83.5 79.2a3.8 3.8 0 1 0 7.6 0a3.8 3.8 0 1 0 -7.6 0M63.4 80.1a3.8 3.8 0 1 0 7.6 0a3.8 3.8 0 1 0 -7.6 0M63.3 85.7a3.8 3.8 0 1 0 7.6 0a3.8 3.8 0 1 0 -7.6 0M94.6 79.8a3.8 3.8 0 1 0 7.6 0a3.8 3.8 0 1 0 -7.6 0M78.2 77.2a3.8 3.8 0 1 0 7.6 0a3.8 3.8 0 1 0 -7.6 0M84.9 82.0a3.8 3.8 0 1 0 7.6 0a3.8 3.8 0 1 0 -7.6 0M95.7 78.6a3.8 3.8 0 1 0 7.6 0a3.8 3.8 0 1 0 -7.6 0M86.7 72.3a3.8 3.8 0 1 0 7.6 0a3.8 3.8 0 1 0 -7.6 0M85.2 70.5a3.8 3.8 0 1 0 7.6 0a3.8 3.8 0 1 0 -7.6 0M96.7 70.3a3.8 3.8 0 1 0 7.6 0a3.8 3.8 0 1 0 -7.6 0M104.6 79.0a3.8 3.8 0 1 0 7.6 0a3.8 3.8 0 1 0 -7.6 0M89.3 76.3a3.8 3.8 0 1 0 7.6 0a3.8 3.8 0 1 0 -7.6 0M68.7 86.0a3.8 3.8 0 1 0 7.6 0a3.8 3.8 0 1 0 -7.6 0M72.0 88.6a3.8 3.8 0 1 0 7.6 0a3.8 3.8 0 1 0 -7.6 0M70.4 84.7a3.8 3.8 0 1 0 7.6 0a3.8 3.8 0 1 0 -7.6 0M103.4 71.9a3.8 3.8 0 1 0 7.6 0a3.8 3.8 0 1 0 -7.6 0M76.5 85.2a3.8 3.8 0 1 0 7.6 0a3.8 3.8 0 1 0 -7.6 0M72.8 74.0a3.8 3.8 0 1 0 7.6 0a3.8 3.8 0 1 0 -7.6 0M111.2 72.1a3.8 3.8 0 1 0 7.6 0a3.8 3.8 0 1 0 -7.6 0M67.6 79.4a3.8 3.8 0 1 0 7.6 0a3.8 3.8 0 1 0 -7.6 0M81.2 86.4a3.8 3.8 0 1 0 7.6 0a3.8 3.8 0 1 0 -7.6 0M96.3 76.6a3.8 3.8 0 1 0 7.6 0a3.8 3.8 0 1 0 -7.6 0M93.4 75.9a3.8 3.8 0 1 0 7.6 0a3.8 3.8 0 1 0 -7.6 0M85.8 72.2a3.8 3.8 0 1 0 7.6 0a3.8 3.8 0 1 0 -7.6 0M63.8 85.3a3.8 3.8 0 1 0 7.6 0a3.8 3.8 0 1 0 -7.6 0M93.9 82.1a3.8 3.8 0 1 0 7.6 0a3.8 3.8 0 1 0 -7.6 0M69.5 81.1a3.8 3.8 0 1 0 7.6 0a3.8 3.8 0 1 0 -7.6 0M67.1 75.9a3.8 3.8 0 1 0 7.6 0a3.8 3.8 0 1 0 -7.6 0M93.7 80.6a3.8 3.8 0 1 0 7.6 0a3.8 3.8 0 1 0 -7.6 0M96.0 78.3a3.8 3.8 0 1 0 7.6 0a3.8 3.8 0 1 0 -7.6 0M113.5 73.6a3.8 3.8 0 1 0 7.6 0a3.8 3.8 0 1 0 -7.6 0M66.5 81.6a3.8 3.8 0 1 0 7.6 0a3.8 3.8 0 1 0 -7.6 0M104.8 76.8a3.8 3.8 0 1 0 7.6 0a3.8 3.8 0 1 0 -7.6 0M92.6 75.7a3.8 3.8 0 1 0 7.6 0a3.8 3.8 0 1 0 -7.6 0M102.1 73.7a3.8 3.8 0 1 0 7.6 0a3.8 3.8 0 1 0 -7.6 0M63.6 79.4a3.8 3.8 0 1 0 7.6 0a3.8 3.8 0 1 0 -7.6 0M104.7 68.9a3.8 3.8 0 1 0 7.6 0a3.8 3.8 0 1 0 -7.6 0M113.7 71.5a3.8 3.8 0 1 0 7.6 0a3.8 3.8 0 1 0 -7.6 0M95.1 78.9a3.8 3.8 0 1 0 7.6 0a3.8 3.8 0 1 0 -7.6 0M106.6 72.2a3.8 3.8 0 1 0 7.6 0a3.8 3.8 0 1 0 -7.6 0M87.1 83.7a3.8 3.8 0 1 0 7.6 0a3.8 3.8 0 1 0 -7.6 0M79.9 83.9a3.8 3.8 0 1 0 7.6 0a3.8 3.8 0 1 0 -7.6 0M76.0 79.9a3.8 3.8 0 1 0 7.6 0a3.8 3.8 0 1 0 -7.6 0M105.2 79.3a3.8 3.8 0 1 0 7.6 0a3.8 3.8 0 1 0 -7.6 0M73.3 86.5a3.8 3.8 0 1 0 7.6 0a3.8 3.8 0 1 0 -7.6 0M75.7 73.4a3.8 3.8 0 1 0 7.6 0a3.8 3.8 0 1 0 -7.6 0M79.4 86.5a3.8 3.8 0 1 0 7.6 0a3.8 3.8 0 1 0 -7.6 0M74.5 87.1a3.8 3.8 0 1 0 7.6 0a3.8 3.8 0 1 0 -7.6 0M99.8 82.1a3.8 3.8 0 1 0 7.6 0a3.8 3.8 0 1 0 -7.6 0M87.4 85.7a3.8 3.8 0 1 0 7.6 0a3.8 3.8 0 1 0 -7.6 0M109.1 77.5a3.8 3.8 0 1 0 7.6 0a3.8 3.8 0 1 0 -7.6 0M93.0 74.9a3.8 3.8 0 1 0 7.6 0a3.8 3.8 0 1 0 -7.6 0M95.9 70.2a3.8 3.8 0 1 0 7.6 0a3.8 3.8 0 1 0 -7.6 0M67.1 87.5a3.8 3.8 0 1 0 7.6 0a3.8 3.8 0 1 0 -7.6 0M63.5 82.7a3.8 3.8 0 1 0 7.6 0a3.8 3.8 0 1 0 -7.6 0M100.1 83.6a3.8 3.8 0 1 0 7.6 0a3.8 3.8 0 1 0 -7.6 0M94.1 76.0a3.8 3.8 0 1 0 7.6 0a3.8 3.8 0 1 0 -7.6 0M64.8 86.3a3.8 3.8 0 1 0 7.6 0a3.8 3.8 0 1 0 -7.6 0M63.1 85.9a3.8 3.8 0 1 0 7.6 0a3.8 3.8 0 1 0 -7.6 0M96.6 85.4a3.8 3.8 0 1 0 7.6 0a3.8 3.8 0 1 0 -7.6 0M66.6 84.0a3.8 3.8 0 1 0 7.6 0a3.8 3.8 0 1 0 -7.6 0M79.0 77.2a3.8 3.8 0 1 0 7.6 0a3.8 3.8 0 1 0 -7.6 0M75.5 74.4a3.8 3.8 0 1 0 7.6 0a3.8 3.8 0 1 0 -7.6 0M81.7 75.1a3.8 3.8 0 1 0 7.6 0a3.8 3.8 0 1 0 -7.6 0M89.3 85.9a3.8 3.8 0 1 0 7.6 0a3.8 3.8 0 1 0 -7.6 0M85.5 84.3a3.8 3.8 0 1 0 7.6 0a3.8 3.8 0 1 0 -7.6 0M100.5 79.6a3.8 3.8 0 1 0 7.6 0a3.8 3.8 0 1 0 -7.6 0M109.3 70.5a3.8 3.8 0 1 0 7.6 0a3.8 3.8 0 1 0 -7.6 0M72.4 84.1a3.8 3.8 0 1 0 7.6 0a3.8 3.8 0 1 0 -7.6 0M88.6 84.8a3.8 3.8 0 1 0 7.6 0a3.8 3.8 0 1 0 -7.6 0M65.1 154.8a3.8 3.8 0 1 0 7.6 0a3.8 3.8 0 1 0 -7.6 0M65.9 156.4a3.8 3.8 0 1 0 7.6 0a3.8 3.8 0 1 0 -7.6 0M75.7 143.6a3.8 3.8 0 1 0 7.6 0a3.8 3.8 0 1 0 -7.6 0M78.2 139.5a3.8 3.8 0 1 0 7.6 0a3.8 3.8 0 1 0 -7.6 0M83.1 137.9a3.8 3.8 0 1 0 7.6 0a3.8 3.8 0 1 0 -7.6 0M88.0 137.1a3.8 3.8 0 1 0 7.6 0a3.8 3.8 0 1 0 -7.6 0M86.4 142.0a3.8 3.8 0 1 0 7.6 0a3.8 3.8 0 1 0 -7.6 0M92.9 146.9a3.8 3.8 0 1 0 7.6 0a3.8 3.8 0 1 0 -7.6 0M94.6 137.9a3.8 3.8 0 1 0 7.6 0a3.8 3.8 0 1 0 -7.6 0M97.8 141.2a3.8 3.8 0 1 0 7.6 0a3.8 3.8 0 1 0 -7.6 0M100.3 136.3a3.8 3.8 0 1 0 7.6 0a3.8 3.8 0 1 0 -7.6 0M103.6 139.5a3.8 3.8 0 1 0 7.6 0a3.8 3.8 0 1 0 -7.6 0M106.8 137.9a3.8 3.8 0 1 0 7.6 0a3.8 3.8 0 1 0 -7.6 0M110.1 141.2a3.8 3.8 0 1 0 7.6 0a3.8 3.8 0 1 0 -7.6 0M113.4 135.5a3.8 3.8 0 1 0 7.6 0a3.8 3.8 0 1 0 -7.6 0M116.3 139.5a3.8 3.8 0 1 0 7.6 0a3.8 3.8 0 1 0 -7.6 0M91.3 139.5a3.8 3.8 0 1 0 7.6 0a3.8 3.8 0 1 0 -7.6 0M98.7 144.5a3.8 3.8 0 1 0 7.6 0a3.8 3.8 0 1 0 -7.6 0M105.2 143.2a3.8 3.8 0 1 0 7.6 0a3.8 3.8 0 1 0 -7.6 0M83.1 142.0a3.8 3.8 0 1 0 7.6 0a3.8 3.8 0 1 0 -7.6 0M89.7 144.5a3.8 3.8 0 1 0 7.6 0a3.8 3.8 0 1 0 -7.6 0M95.4 135.5a3.8 3.8 0 1 0 7.6 0a3.8 3.8 0 1 0 -7.6 0M108.5 136.3a3.8 3.8 0 1 0 7.6 0a3.8 3.8 0 1 0 -7.6 0M101.9 142.8a3.8 3.8 0 1 0 7.6 0a3.8 3.8 0 1 0 -7.6 0M112.6 142.0a3.8 3.8 0 1 0 7.6 0a3.8 3.8 0 1 0 -7.6 0M80.7 144.5a3.8 3.8 0 1 0 7.6 0a3.8 3.8 0 1 0 -7.6 0M81.1 208.2a3.8 3.8 0 1 0 7.6 0a3.8 3.8 0 1 0 -7.6 0M82.8 220.2a3.8 3.8 0 1 0 7.6 0a3.8 3.8 0 1 0 -7.6 0M84.9 213.7a3.8 3.8 0 1 0 7.6 0a3.8 3.8 0 1 0 -7.6 0M77.7 215.7a3.8 3.8 0 1 0 7.6 0a3.8 3.8 0 1 0 -7.6 0M92.0 203.3a3.8 3.8 0 1 0 7.6 0a3.8 3.8 0 1 0 -7.6 0M66.6 211.2a3.8 3.8 0 1 0 7.6 0a3.8 3.8 0 1 0 -7.6 0M86.4 217.3a3.8 3.8 0 1 0 7.6 0a3.8 3.8 0 1 0 -7.6 0M92.8 202.0a3.8 3.8 0 1 0 7.6 0a3.8 3.8 0 1 0 -7.6 0M89.9 216.2a3.8 3.8 0 1 0 7.6 0a3.8 3.8 0 1 0 -7.6 0M95.4 204.2a3.8 3.8 0 1 0 7.6 0a3.8 3.8 0 1 0 -7.6 0M98.3 200.9a3.8 3.8 0 1 0 7.6 0a3.8 3.8 0 1 0 -7.6 0M79.6 220.4a3.8 3.8 0 1 0 7.6 0a3.8 3.8 0 1 0 -7.6 0M86.7 202.4a3.8 3.8 0 1 0 7.6 0a3.8 3.8 0 1 0 -7.6 0M99.0 204.3a3.8 3.8 0 1 0 7.6 0a3.8 3.8 0 1 0 -7.6 0M65.5 212.0a3.8 3.8 0 1 0 7.6 0a3.8 3.8 0 1 0 -7.6 0M65.6 211.0a3.8 3.8 0 1 0 7.6 0a3.8 3.8 0 1 0 -7.6 0M79.4 208.8a3.8 3.8 0 1 0 7.6 0a3.8 3.8 0 1 0 -7.6 0M65.9 212.9a3.8 3.8 0 1 0 7.6 0a3.8 3.8 0 1 0 -7.6 0M64.3 212.3a3.8 3.8 0 1 0 7.6 0a3.8 3.8 0 1 0 -7.6 0M67.1 215.8a3.8 3.8 0 1 0 7.6 0a3.8 3.8 0 1 0 -7.6 0M71.8 213.6a3.8 3.8 0 1 0 7.6 0a3.8 3.8 0 1 0 -7.6 0M77.1 215.1a3.8 3.8 0 1 0 7.6 0a3.8 3.8 0 1 0 -7.6 0M94.0 201.6a3.8 3.8 0 1 0 7.6 0a3.8 3.8 0 1 0 -7.6 0M97.7 213.0a3.8 3.8 0 1 0 7.6 0a3.8 3.8 0 1 0 -7.6 0M95.0 207.2a3.8 3.8 0 1 0 7.6 0a3.8 3.8 0 1 0 -7.6 0M70.9 209.8a3.8 3.8 0 1 0 7.6 0a3.8 3.8 0 1 0 -7.6 0M65.7 214.0a3.8 3.8 0 1 0 7.6 0a3.8 3.8 0 1 0 -7.6 0M94.4 200.2a3.8 3.8 0 1 0 7.6 0a3.8 3.8 0 1 0 -7.6 0M95.4 211.0a3.8 3.8 0 1 0 7.6 0a3.8 3.8 0 1 0 -7.6 0M72.3 216.5a3.8 3.8 0 1 0 7.6 0a3.8 3.8 0 1 0 -7.6 0M71.6 221.7a3.8 3.8 0 1 0 7.6 0a3.8 3.8 0 1 0 -7.6 0M77.4 219.3a3.8 3.8 0 1 0 7.6 0a3.8 3.8 0 1 0 -7.6 0M89.6 203.6a3.8 3.8 0 1 0 7.6 0a3.8 3.8 0 1 0 -7.6 0M102.3 203.6a3.8 3.8 0 1 0 7.6 0a3.8 3.8 0 1 0 -7.6 0M70.7 208.5a3.8 3.8 0 1 0 7.6 0a3.8 3.8 0 1 0 -7.6 0M67.9 212.5a3.8 3.8 0 1 0 7.6 0a3.8 3.8 0 1 0 -7.6 0M65.6 212.4a3.8 3.8 0 1 0 7.6 0a3.8 3.8 0 1 0 -7.6 0M91.1 217.1a3.8 3.8 0 1 0 7.6 0a3.8 3.8 0 1 0 -7.6 0M98.6 203.5a3.8 3.8 0 1 0 7.6 0a3.8 3.8 0 1 0 -7.6 0M64.1 211.7a3.8 3.8 0 1 0 7.6 0a3.8 3.8 0 1 0 -7.6 0M88.0 201.6a3.8 3.8 0 1 0 7.6 0a3.8 3.8 0 1 0 -7.6 0M69.3 210.1a3.8 3.8 0 1 0 7.6 0a3.8 3.8 0 1 0 -7.6 0M83.6 211.9a3.8 3.8 0 1 0 7.6 0a3.8 3.8 0 1 0 -7.6 0M64.8 214.3a3.8 3.8 0 1 0 7.6 0a3.8 3.8 0 1 0 -7.6 0M74.4 216.2a3.8 3.8 0 1 0 7.6 0a3.8 3.8 0 1 0 -7.6 0M66.3 215.6a3.8 3.8 0 1 0 7.6 0a3.8 3.8 0 1 0 -7.6 0M82.3 214.2a3.8 3.8 0 1 0 7.6 0a3.8 3.8 0 1 0 -7.6 0M86.9 208.2a3.8 3.8 0 1 0 7.6 0a3.8 3.8 0 1 0 -7.6 0M71.6 218.5a3.8 3.8 0 1 0 7.6 0a3.8 3.8 0 1 0 -7.6 0M63.5 213.3a3.8 3.8 0 1 0 7.6 0a3.8 3.8 0 1 0 -7.6 0M90.0 208.9a3.8 3.8 0 1 0 7.6 0a3.8 3.8 0 1 0 -7.6 0M69.9 213.5a3.8 3.8 0 1 0 7.6 0a3.8 3.8 0 1 0 -7.6 0M81.4 211.9a3.8 3.8 0 1 0 7.6 0a3.8 3.8 0 1 0 -7.6 0M94.0 207.3a3.8 3.8 0 1 0 7.6 0a3.8 3.8 0 1 0 -7.6 0M71.6 217.5a3.8 3.8 0 1 0 7.6 0a3.8 3.8 0 1 0 -7.6 0M67.0 221.1a3.8 3.8 0 1 0 7.6 0a3.8 3.8 0 1 0 -7.6 0M77.4 216.6a3.8 3.8 0 1 0 7.6 0a3.8 3.8 0 1 0 -7.6 0M83.6 208.1a3.8 3.8 0 1 0 7.6 0a3.8 3.8 0 1 0 -7.6 0M83.4 204.2a3.8 3.8 0 1 0 7.6 0a3.8 3.8 0 1 0 -7.6 0M66.3 217.9a3.8 3.8 0 1 0 7.6 0a3.8 3.8 0 1 0 -7.6 0M72.4 219.1a3.8 3.8 0 1 0 7.6 0a3.8 3.8 0 1 0 -7.6 0M72.3 213.5a3.8 3.8 0 1 0 7.6 0a3.8 3.8 0 1 0 -7.6 0M76.4 218.8a3.8 3.8 0 1 0 7.6 0a3.8 3.8 0 1 0 -7.6 0M81.1 213.6a3.8 3.8 0 1 0 7.6 0a3.8 3.8 0 1 0 -7.6 0M78.6 207.1a3.8 3.8 0 1 0 7.6 0a3.8 3.8 0 1 0 -7.6 0M84.5 204.0a3.8 3.8 0 1 0 7.6 0a3.8 3.8 0 1 0 -7.6 0M89.2 202.8a3.8 3.8 0 1 0 7.6 0a3.8 3.8 0 1 0 -7.6 0M76.0 209.9a3.8 3.8 0 1 0 7.6 0a3.8 3.8 0 1 0 -7.6 0M92.3 204.5a3.8 3.8 0 1 0 7.6 0a3.8 3.8 0 1 0 -7.6 0M84.8 210.4a3.8 3.8 0 1 0 7.6 0a3.8 3.8 0 1 0 -7.6 0M75.4 218.7a3.8 3.8 0 1 0 7.6 0a3.8 3.8 0 1 0 -7.6 0M66.1 216.0a3.8 3.8 0 1 0 7.6 0a3.8 3.8 0 1 0 -7.6 0M88.8 208.7a3.8 3.8 0 1 0 7.6 0a3.8 3.8 0 1 0 -7.6 0M82.9 202.7a3.8 3.8 0 1 0 7.6 0a3.8 3.8 0 1 0 -7.6 0M75.3 208.5a3.8 3.8 0 1 0 7.6 0a3.8 3.8 0 1 0 -7.6 0M87.3 219.5a3.8 3.8 0 1 0 7.6 0a3.8 3.8 0 1 0 -7.6 0M80.7 215.2a3.8 3.8 0 1 0 7.6 0a3.8 3.8 0 1 0 -7.6 0M75.7 216.7a3.8 3.8 0 1 0 7.6 0a3.8 3.8 0 1 0 -7.6 0M109.0 264.7a3.8 3.8 0 1 0 7.6 0a3.8 3.8 0 1 0 -7.6 0M84.1 281.2a3.8 3.8 0 1 0 7.6 0a3.8 3.8 0 1 0 -7.6 0M114.6 253.1a3.8 3.8 0 1 0 7.6 0a3.8 3.8 0 1 0 -7.6 0M73.1 283.2a3.8 3.8 0 1 0 7.6 0a3.8 3.8 0 1 0 -7.6 0M116.0 265.9a3.8 3.8 0 1 0 7.6 0a3.8 3.8 0 1 0 -7.6 0M115.1 251.9a3.8 3.8 0 1 0 7.6 0a3.8 3.8 0 1 0 -7.6 0M134.2 259.2a3.8 3.8 0 1 0 7.6 0a3.8 3.8 0 1 0 -7.6 0M131.2 259.7a3.8 3.8 0 1 0 7.6 0a3.8 3.8 0 1 0 -7.6 0M109.9 282.6a3.8 3.8 0 1 0 7.6 0a3.8 3.8 0 1 0 -7.6 0M106.4 283.0a3.8 3.8 0 1 0 7.6 0a3.8 3.8 0 1 0 -7.6 0M108.7 262.3a3.8 3.8 0 1 0 7.6 0a3.8 3.8 0 1 0 -7.6 0M77.7 279.6a3.8 3.8 0 1 0 7.6 0a3.8 3.8 0 1 0 -7.6 0M81.4 281.0a3.8 3.8 0 1 0 7.6 0a3.8 3.8 0 1 0 -7.6 0M99.6 264.0a3.8 3.8 0 1 0 7.6 0a3.8 3.8 0 1 0 -7.6 0M88.8 272.8a3.8 3.8 0 1 0 7.6 0a3.8 3.8 0 1 0 -7.6 0M81.3 274.1a3.8 3.8 0 1 0 7.6 0a3.8 3.8 0 1 0 -7.6 0M123.0 266.9a3.8 3.8 0 1 0 7.6 0a3.8 3.8 0 1 0 -7.6 0M118.6 260.5a3.8 3.8 0 1 0 7.6 0a3.8 3.8 0 1 0 -7.6 0M109.8 263.0a3.8 3.8 0 1 0 7.6 0a3.8 3.8 0 1 0 -7.6 0M115.9 256.6a3.8 3.8 0 1 0 7.6 0a3.8 3.8 0 1 0 -7.6 0M103.4 266.1a3.8 3.8 0 1 0 7.6 0a3.8 3.8 0 1 0 -7.6 0M98.7 271.4a3.8 3.8 0 1 0 7.6 0a3.8 3.8 0 1 0 -7.6 0M101.3 265.0a3.8 3.8 0 1 0 7.6 0a3.8 3.8 0 1 0 -7.6 0M100.5 277.5a3.8 3.8 0 1 0 7.6 0a3.8 3.8 0 1 0 -7.6 0M117.6 264.4a3.8 3.8 0 1 0 7.6 0a3.8 3.8 0 1 0 -7.6 0M132.0 252.8a3.8 3.8 0 1 0 7.6 0a3.8 3.8 0 1 0 -7.6 0M112.2 275.8a3.8 3.8 0 1 0 7.6 0a3.8 3.8 0 1 0 -7.6 0M110.1 281.9a3.8 3.8 0 1 0 7.6 0a3.8 3.8 0 1 0 -7.6 0M99.7 283.2a3.8 3.8 0 1 0 7.6 0a3.8 3.8 0 1 0 -7.6 0M130.6 248.2a3.8 3.8 0 1 0 7.6 0a3.8 3.8 0 1 0 -7.6 0M136.9 258.5a3.8 3.8 0 1 0 7.6 0a3.8 3.8 0 1 0 -7.6 0M79.7 271.8a3.8 3.8 0 1 0 7.6 0a3.8 3.8 0 1 0 -7.6 0M101.6 278.2a3.8 3.8 0 1 0 7.6 0a3.8 3.8 0 1 0 -7.6 0M105.6 264.4a3.8 3.8 0 1 0 7.6 0a3.8 3.8 0 1 0 -7.6 0M94.9 273.2a3.8 3.8 0 1 0 7.6 0a3.8 3.8 0 1 0 -7.6 0M84.3 272.5a3.8 3.8 0 1 0 7.6 0a3.8 3.8 0 1 0 -7.6 0M87.4 265.9a3.8 3.8 0 1 0 7.6 0a3.8 3.8 0 1 0 -7.6 0M112.9 258.4a3.8 3.8 0 1 0 7.6 0a3.8 3.8 0 1 0 -7.6 0M104.6 268.1a3.8 3.8 0 1 0 7.6 0a3.8 3.8 0 1 0 -7.6 0M100.1 260.9a3.8 3.8 0 1 0 7.6 0a3.8 3.8 0 1 0 -7.6 0M102.9 265.4a3.8 3.8 0 1 0 7.6 0a3.8 3.8 0 1 0 -7.6 0M102.7 275.9a3.8 3.8 0 1 0 7.6 0a3.8 3.8 0 1 0 -7.6 0M124.6 263.6a3.8 3.8 0 1 0 7.6 0a3.8 3.8 0 1 0 -7.6 0M119.1 249.0a3.8 3.8 0 1 0 7.6 0a3.8 3.8 0 1 0 -7.6 0M127.0 246.9a3.8 3.8 0 1 0 7.6 0a3.8 3.8 0 1 0 -7.6 0M92.0 278.1a3.8 3.8 0 1 0 7.6 0a3.8 3.8 0 1 0 -7.6 0M85.0 278.3a3.8 3.8 0 1 0 7.6 0a3.8 3.8 0 1 0 -7.6 0M83.1 270.8a3.8 3.8 0 1 0 7.6 0a3.8 3.8 0 1 0 -7.6 0M105.7 281.1a3.8 3.8 0 1 0 7.6 0a3.8 3.8 0 1 0 -7.6 0M135.1 260.3a3.8 3.8 0 1 0 7.6 0a3.8 3.8 0 1 0 -7.6 0M108.5 283.2a3.8 3.8 0 1 0 7.6 0a3.8 3.8 0 1 0 -7.6 0M80.8 272.3a3.8 3.8 0 1 0 7.6 0a3.8 3.8 0 1 0 -7.6 0M93.8 263.3a3.8 3.8 0 1 0 7.6 0a3.8 3.8 0 1 0 -7.6 0M111.6 277.3a3.8 3.8 0 1 0 7.6 0a3.8 3.8 0 1 0 -7.6 0M82.0 281.7a3.8 3.8 0 1 0 7.6 0a3.8 3.8 0 1 0 -7.6 0M93.4 270.3a3.8 3.8 0 1 0 7.6 0a3.8 3.8 0 1 0 -7.6 0M80.4 286.3a3.8 3.8 0 1 0 7.6 0a3.8 3.8 0 1 0 -7.6 0M113.2 270.7a3.8 3.8 0 1 0 7.6 0a3.8 3.8 0 1 0 -7.6 0M124.1 261.7a3.8 3.8 0 1 0 7.6 0a3.8 3.8 0 1 0 -7.6 0M91.2 287.1a3.8 3.8 0 1 0 7.6 0a3.8 3.8 0 1 0 -7.6 0M82.1 273.6a3.8 3.8 0 1 0 7.6 0a3.8 3.8 0 1 0 -7.6 0M82.7 287.0a3.8 3.8 0 1 0 7.6 0a3.8 3.8 0 1 0 -7.6 0M110.8 264.7a3.8 3.8 0 1 0 7.6 0a3.8 3.8 0 1 0 -7.6 0M97.7 278.6a3.8 3.8 0 1 0 7.6 0a3.8 3.8 0 1 0 -7.6 0M81.8 284.1a3.8 3.8 0 1 0 7.6 0a3.8 3.8 0 1 0 -7.6 0M98.7 268.3a3.8 3.8 0 1 0 7.6 0a3.8 3.8 0 1 0 -7.6 0M135.4 251.3a3.8 3.8 0 1 0 7.6 0a3.8 3.8 0 1 0 -7.6 0M119.2 259.6a3.8 3.8 0 1 0 7.6 0a3.8 3.8 0 1 0 -7.6 0M93.6 285.3a3.8 3.8 0 1 0 7.6 0a3.8 3.8 0 1 0 -7.6 0M111.5 269.1a3.8 3.8 0 1 0 7.6 0a3.8 3.8 0 1 0 -7.6 0M80.8 275.4a3.8 3.8 0 1 0 7.6 0a3.8 3.8 0 1 0 -7.6 0M102.4 271.0a3.8 3.8 0 1 0 7.6 0a3.8 3.8 0 1 0 -7.6 0M136.0 254.3a3.8 3.8 0 1 0 7.6 0a3.8 3.8 0 1 0 -7.6 0M125.3 246.9a3.8 3.8 0 1 0 7.6 0a3.8 3.8 0 1 0 -7.6 0M93.1 285.8a3.8 3.8 0 1 0 7.6 0a3.8 3.8 0 1 0 -7.6 0M94.5 273.1a3.8 3.8 0 1 0 7.6 0a3.8 3.8 0 1 0 -7.6 0M89.7 281.5a3.8 3.8 0 1 0 7.6 0a3.8 3.8 0 1 0 -7.6 0M86.8 272.7a3.8 3.8 0 1 0 7.6 0a3.8 3.8 0 1 0 -7.6 0M98.6 269.9a3.8 3.8 0 1 0 7.6 0a3.8 3.8 0 1 0 -7.6 0M73.8 279.4a3.8 3.8 0 1 0 7.6 0a3.8 3.8 0 1 0 -7.6 0M115.1 273.1a3.8 3.8 0 1 0 7.6 0a3.8 3.8 0 1 0 -7.6 0M95.7 266.0a3.8 3.8 0 1 0 7.6 0a3.8 3.8 0 1 0 -7.6 0M103.3 276.7a3.8 3.8 0 1 0 7.6 0a3.8 3.8 0 1 0 -7.6 0M125.2 271.0a3.8 3.8 0 1 0 7.6 0a3.8 3.8 0 1 0 -7.6 0M121.4 264.6a3.8 3.8 0 1 0 7.6 0a3.8 3.8 0 1 0 -7.6 0M118.6 273.5a3.8 3.8 0 1 0 7.6 0a3.8 3.8 0 1 0 -7.6 0M114.1 269.3a3.8 3.8 0 1 0 7.6 0a3.8 3.8 0 1 0 -7.6 0M90.9 276.0a3.8 3.8 0 1 0 7.6 0a3.8 3.8 0 1 0 -7.6 0M128.5 262.3a3.8 3.8 0 1 0 7.6 0a3.8 3.8 0 1 0 -7.6 0M128.0 253.7a3.8 3.8 0 1 0 7.6 0a3.8 3.8 0 1 0 -7.6 0M100.8 284.9a3.8 3.8 0 1 0 7.6 0a3.8 3.8 0 1 0 -7.6 0M122.7 260.8a3.8 3.8 0 1 0 7.6 0a3.8 3.8 0 1 0 -7.6 0M96.6 266.4a3.8 3.8 0 1 0 7.6 0a3.8 3.8 0 1 0 -7.6 0M84.5 268.6a3.8 3.8 0 1 0 7.6 0a3.8 3.8 0 1 0 -7.6 0M113.8 259.8a3.8 3.8 0 1 0 7.6 0a3.8 3.8 0 1 0 -7.6 0M91.5 280.1a3.8 3.8 0 1 0 7.6 0a3.8 3.8 0 1 0 -7.6 0M97.6 278.3a3.8 3.8 0 1 0 7.6 0a3.8 3.8 0 1 0 -7.6 0M135.4 261.6a3.8 3.8 0 1 0 7.6 0a3.8 3.8 0 1 0 -7.6 0M96.4 284.3a3.8 3.8 0 1 0 7.6 0a3.8 3.8 0 1 0 -7.6 0M96.6 287.8a3.8 3.8 0 1 0 7.6 0a3.8 3.8 0 1 0 -7.6 0M106.9 280.1a3.8 3.8 0 1 0 7.6 0a3.8 3.8 0 1 0 -7.6 0M115.2 269.4a3.8 3.8 0 1 0 7.6 0a3.8 3.8 0 1 0 -7.6 0M116.4 271.1a3.8 3.8 0 1 0 7.6 0a3.8 3.8 0 1 0 -7.6 0M119.1 269.6a3.8 3.8 0 1 0 7.6 0a3.8 3.8 0 1 0 -7.6 0M78.1 283.4a3.8 3.8 0 1 0 7.6 0a3.8 3.8 0 1 0 -7.6 0M130.3 255.5a3.8 3.8 0 1 0 7.6 0a3.8 3.8 0 1 0 -7.6 0M126.9 272.9a3.8 3.8 0 1 0 7.6 0a3.8 3.8 0 1 0 -7.6 0M131.8 255.9a3.8 3.8 0 1 0 7.6 0a3.8 3.8 0 1 0 -7.6 0M126.1 267.2a3.8 3.8 0 1 0 7.6 0a3.8 3.8 0 1 0 -7.6 0M119.0 278.2a3.8 3.8 0 1 0 7.6 0a3.8 3.8 0 1 0 -7.6 0M115.2 269.2a3.8 3.8 0 1 0 7.6 0a3.8 3.8 0 1 0 -7.6 0M90.9 280.1a3.8 3.8 0 1 0 7.6 0a3.8 3.8 0 1 0 -7.6 0M107.5 275.8a3.8 3.8 0 1 0 7.6 0a3.8 3.8 0 1 0 -7.6 0M108.9 283.2a3.8 3.8 0 1 0 7.6 0a3.8 3.8 0 1 0 -7.6 0M91.3 280.8a3.8 3.8 0 1 0 7.6 0a3.8 3.8 0 1 0 -7.6 0M116.8 269.4a3.8 3.8 0 1 0 7.6 0a3.8 3.8 0 1 0 -7.6 0M99.0 277.6a3.8 3.8 0 1 0 7.6 0a3.8 3.8 0 1 0 -7.6 0M115.0 277.0a3.8 3.8 0 1 0 7.6 0a3.8 3.8 0 1 0 -7.6 0M102.6 280.7a3.8 3.8 0 1 0 7.6 0a3.8 3.8 0 1 0 -7.6 0M108.0 281.2a3.8 3.8 0 1 0 7.6 0a3.8 3.8 0 1 0 -7.6 0M119.7 265.9a3.8 3.8 0 1 0 7.6 0a3.8 3.8 0 1 0 -7.6 0M110.0 272.8a3.8 3.8 0 1 0 7.6 0a3.8 3.8 0 1 0 -7.6 0M83.8 288.7a3.8 3.8 0 1 0 7.6 0a3.8 3.8 0 1 0 -7.6 0M96.9 281.6a3.8 3.8 0 1 0 7.6 0a3.8 3.8 0 1 0 -7.6 0M103.9 284.8a3.8 3.8 0 1 0 7.6 0a3.8 3.8 0 1 0 -7.6 0M97.9 278.5a3.8 3.8 0 1 0 7.6 0a3.8 3.8 0 1 0 -7.6 0M103.2 278.8a3.8 3.8 0 1 0 7.6 0a3.8 3.8 0 1 0 -7.6 0M115.3 279.7a3.8 3.8 0 1 0 7.6 0a3.8 3.8 0 1 0 -7.6 0M106.0 281.8a3.8 3.8 0 1 0 7.6 0a3.8 3.8 0 1 0 -7.6 0M119.5 276.1a3.8 3.8 0 1 0 7.6 0a3.8 3.8 0 1 0 -7.6 0M92.6 284.2a3.8 3.8 0 1 0 7.6 0a3.8 3.8 0 1 0 -7.6 0M82.2 282.1a3.8 3.8 0 1 0 7.6 0a3.8 3.8 0 1 0 -7.6 0M89.2 278.3a3.8 3.8 0 1 0 7.6 0a3.8 3.8 0 1 0 -7.6 0M106.9 282.6a3.8 3.8 0 1 0 7.6 0a3.8 3.8 0 1 0 -7.6 0M121.9 269.2a3.8 3.8 0 1 0 7.6 0a3.8 3.8 0 1 0 -7.6 0M97.8 275.2a3.8 3.8 0 1 0 7.6 0a3.8 3.8 0 1 0 -7.6 0M130.1 267.8a3.8 3.8 0 1 0 7.6 0a3.8 3.8 0 1 0 -7.6 0M121.1 273.8a3.8 3.8 0 1 0 7.6 0a3.8 3.8 0 1 0 -7.6 0M110.8 269.7a3.8 3.8 0 1 0 7.6 0a3.8 3.8 0 1 0 -7.6 0M94.9 285.0a3.8 3.8 0 1 0 7.6 0a3.8 3.8 0 1 0 -7.6 0M84.0 265.3a3.8 3.8 0 1 0 7.6 0a3.8 3.8 0 1 0 -7.6 0M96.3 259.5a3.8 3.8 0 1 0 7.6 0a3.8 3.8 0 1 0 -7.6 0M106.1 259.5a3.8 3.8 0 1 0 7.6 0a3.8 3.8 0 1 0 -7.6 0M61.0 352.9a3.8 3.8 0 1 0 7.6 0a3.8 3.8 0 1 0 -7.6 0M63.5 351.3a3.8 3.8 0 1 0 7.6 0a3.8 3.8 0 1 0 -7.6 0M67.6 357.8a3.8 3.8 0 1 0 7.6 0a3.8 3.8 0 1 0 -7.6 0M70.0 347.2a3.8 3.8 0 1 0 7.6 0a3.8 3.8 0 1 0 -7.6 0M71.7 350.5a3.8 3.8 0 1 0 7.6 0a3.8 3.8 0 1 0 -7.6 0M74.1 352.9a3.8 3.8 0 1 0 7.6 0a3.8 3.8 0 1 0 -7.6 0M76.6 348.8a3.8 3.8 0 1 0 7.6 0a3.8 3.8 0 1 0 -7.6 0M77.4 355.4a3.8 3.8 0 1 0 7.6 0a3.8 3.8 0 1 0 -7.6 0M81.5 352.1a3.8 3.8 0 1 0 7.6 0a3.8 3.8 0 1 0 -7.6 0M84.8 343.9a3.8 3.8 0 1 0 7.6 0a3.8 3.8 0 1 0 -7.6 0M85.6 347.2a3.8 3.8 0 1 0 7.6 0a3.8 3.8 0 1 0 -7.6 0M88.0 345.5a3.8 3.8 0 1 0 7.6 0a3.8 3.8 0 1 0 -7.6 0M94.6 346.4a3.8 3.8 0 1 0 7.6 0a3.8 3.8 0 1 0 -7.6 0M112.6 346.0a3.8 3.8 0 1 0 7.6 0a3.8 3.8 0 1 0 -7.6 0M65.9 354.5a3.8 3.8 0 1 0 7.6 0a3.8 3.8 0 1 0 -7.6 0M72.5 354.5a3.8 3.8 0 1 0 7.6 0a3.8 3.8 0 1 0 -7.6 0M79.8 354.5a3.8 3.8 0 1 0 7.6 0a3.8 3.8 0 1 0 -7.6 0M83.9 350.5a3.8 3.8 0 1 0 7.6 0a3.8 3.8 0 1 0 -7.6 0M86.3 418.1a3.8 3.8 0 1 0 7.6 0a3.8 3.8 0 1 0 -7.6 0M80.5 407.1a3.8 3.8 0 1 0 7.6 0a3.8 3.8 0 1 0 -7.6 0M98.8 416.5a3.8 3.8 0 1 0 7.6 0a3.8 3.8 0 1 0 -7.6 0M97.1 403.3a3.8 3.8 0 1 0 7.6 0a3.8 3.8 0 1 0 -7.6 0M68.2 425.3a3.8 3.8 0 1 0 7.6 0a3.8 3.8 0 1 0 -7.6 0M98.6 408.9a3.8 3.8 0 1 0 7.6 0a3.8 3.8 0 1 0 -7.6 0M62.3 425.5a3.8 3.8 0 1 0 7.6 0a3.8 3.8 0 1 0 -7.6 0M64.1 427.6a3.8 3.8 0 1 0 7.6 0a3.8 3.8 0 1 0 -7.6 0M94.8 403.9a3.8 3.8 0 1 0 7.6 0a3.8 3.8 0 1 0 -7.6 0M106.1 410.7a3.8 3.8 0 1 0 7.6 0a3.8 3.8 0 1 0 -7.6 0M93.3 412.9a3.8 3.8 0 1 0 7.6 0a3.8 3.8 0 1 0 -7.6 0M97.3 409.4a3.8 3.8 0 1 0 7.6 0a3.8 3.8 0 1 0 -7.6 0M98.8 418.6a3.8 3.8 0 1 0 7.6 0a3.8 3.8 0 1 0 -7.6 0M88.4 422.5a3.8 3.8 0 1 0 7.6 0a3.8 3.8 0 1 0 -7.6 0M60.4 422.9a3.8 3.8 0 1 0 7.6 0a3.8 3.8 0 1 0 -7.6 0M88.9 405.6a3.8 3.8 0 1 0 7.6 0a3.8 3.8 0 1 0 -7.6 0M81.3 421.4a3.8 3.8 0 1 0 7.6 0a3.8 3.8 0 1 0 -7.6 0M90.7 404.3a3.8 3.8 0 1 0 7.6 0a3.8 3.8 0 1 0 -7.6 0M78.7 417.5a3.8 3.8 0 1 0 7.6 0a3.8 3.8 0 1 0 -7.6 0M75.1 412.9a3.8 3.8 0 1 0 7.6 0a3.8 3.8 0 1 0 -7.6 0M68.5 425.8a3.8 3.8 0 1 0 7.6 0a3.8 3.8 0 1 0 -7.6 0M69.8 420.7a3.8 3.8 0 1 0 7.6 0a3.8 3.8 0 1 0 -7.6 0M103.5 409.0a3.8 3.8 0 1 0 7.6 0a3.8 3.8 0 1 0 -7.6 0M95.9 405.8a3.8 3.8 0 1 0 7.6 0a3.8 3.8 0 1 0 -7.6 0M86.5 417.2a3.8 3.8 0 1 0 7.6 0a3.8 3.8 0 1 0 -7.6 0M109.4 407.2a3.8 3.8 0 1 0 7.6 0a3.8 3.8 0 1 0 -7.6 0M88.7 419.2a3.8 3.8 0 1 0 7.6 0a3.8 3.8 0 1 0 -7.6 0M73.6 418.9a3.8 3.8 0 1 0 7.6 0a3.8 3.8 0 1 0 -7.6 0M66.4 424.7a3.8 3.8 0 1 0 7.6 0a3.8 3.8 0 1 0 -7.6 0M72.8 411.7a3.8 3.8 0 1 0 7.6 0a3.8 3.8 0 1 0 -7.6 0M91.2 417.2a3.8 3.8 0 1 0 7.6 0a3.8 3.8 0 1 0 -7.6 0M83.0 416.1a3.8 3.8 0 1 0 7.6 0a3.8 3.8 0 1 0 -7.6 0M104.5 415.9a3.8 3.8 0 1 0 7.6 0a3.8 3.8 0 1 0 -7.6 0M80.2 420.4a3.8 3.8 0 1 0 7.6 0a3.8 3.8 0 1 0 -7.6 0M89.8 421.9a3.8 3.8 0 1 0 7.6 0a3.8 3.8 0 1 0 -7.6 0M98.7 414.8a3.8 3.8 0 1 0 7.6 0a3.8 3.8 0 1 0 -7.6 0M99.4 410.5a3.8 3.8 0 1 0 7.6 0a3.8 3.8 0 1 0 -7.6 0M82.4 408.5a3.8 3.8 0 1 0 7.6 0a3.8 3.8 0 1 0 -7.6 0M76.9 419.2a3.8 3.8 0 1 0 7.6 0a3.8 3.8 0 1 0 -7.6 0M87.1 412.0a3.8 3.8 0 1 0 7.6 0a3.8 3.8 0 1 0 -7.6 0M97.5 409.0a3.8 3.8 0 1 0 7.6 0a3.8 3.8 0 1 0 -7.6 0M112.0 413.6a3.8 3.8 0 1 0 7.6 0a3.8 3.8 0 1 0 -7.6 0M73.3 412.4a3.8 3.8 0 1 0 7.6 0a3.8 3.8 0 1 0 -7.6 0M107.0 405.7a3.8 3.8 0 1 0 7.6 0a3.8 3.8 0 1 0 -7.6 0M102.9 410.6a3.8 3.8 0 1 0 7.6 0a3.8 3.8 0 1 0 -7.6 0M90.9 418.8a3.8 3.8 0 1 0 7.6 0a3.8 3.8 0 1 0 -7.6 0M101.2 408.4a3.8 3.8 0 1 0 7.6 0a3.8 3.8 0 1 0 -7.6 0M79.7 408.0a3.8 3.8 0 1 0 7.6 0a3.8 3.8 0 1 0 -7.6 0M71.9 414.9a3.8 3.8 0 1 0 7.6 0a3.8 3.8 0 1 0 -7.6 0M61.5 422.3a3.8 3.8 0 1 0 7.6 0a3.8 3.8 0 1 0 -7.6 0M81.4 424.3a3.8 3.8 0 1 0 7.6 0a3.8 3.8 0 1 0 -7.6 0M94.1 421.8a3.8 3.8 0 1 0 7.6 0a3.8 3.8 0 1 0 -7.6 0M94.6 406.7a3.8 3.8 0 1 0 7.6 0a3.8 3.8 0 1 0 -7.6 0M80.8 410.2a3.8 3.8 0 1 0 7.6 0a3.8 3.8 0 1 0 -7.6 0M105.6 404.1a3.8 3.8 0 1 0 7.6 0a3.8 3.8 0 1 0 -7.6 0M106.4 409.5a3.8 3.8 0 1 0 7.6 0a3.8 3.8 0 1 0 -7.6 0M71.0 424.5a3.8 3.8 0 1 0 7.6 0a3.8 3.8 0 1 0 -7.6 0M100.3 407.7a3.8 3.8 0 1 0 7.6 0a3.8 3.8 0 1 0 -7.6 0M64.7 418.9a3.8 3.8 0 1 0 7.6 0a3.8 3.8 0 1 0 -7.6 0M84.8 414.4a3.8 3.8 0 1 0 7.6 0a3.8 3.8 0 1 0 -7.6 0M105.2 413.7a3.8 3.8 0 1 0 7.6 0a3.8 3.8 0 1 0 -7.6 0M85.9 417.4a3.8 3.8 0 1 0 7.6 0a3.8 3.8 0 1 0 -7.6 0M82.8 414.1a3.8 3.8 0 1 0 7.6 0a3.8 3.8 0 1 0 -7.6 0M74.9 425.8a3.8 3.8 0 1 0 7.6 0a3.8 3.8 0 1 0 -7.6 0M83.5 410.9a3.8 3.8 0 1 0 7.6 0a3.8 3.8 0 1 0 -7.6 0M98.5 416.9a3.8 3.8 0 1 0 7.6 0a3.8 3.8 0 1 0 -7.6 0M72.0 425.9a3.8 3.8 0 1 0 7.6 0a3.8 3.8 0 1 0 -7.6 0M70.8 421.0a3.8 3.8 0 1 0 7.6 0a3.8 3.8 0 1 0 -7.6 0M90.3 408.3a3.8 3.8 0 1 0 7.6 0a3.8 3.8 0 1 0 -7.6 0M79.8 407.8a3.8 3.8 0 1 0 7.6 0a3.8 3.8 0 1 0 -7.6 0M93.6 418.5a3.8 3.8 0 1 0 7.6 0a3.8 3.8 0 1 0 -7.6 0M72.0 413.1a3.8 3.8 0 1 0 7.6 0a3.8 3.8 0 1 0 -7.6 0M78.5 410.2a3.8 3.8 0 1 0 7.6 0a3.8 3.8 0 1 0 -7.6 0M70.1 417.2a3.8 3.8 0 1 0 7.6 0a3.8 3.8 0 1 0 -7.6 0M81.1 416.8a3.8 3.8 0 1 0 7.6 0a3.8 3.8 0 1 0 -7.6 0M120.8 396.8a3.8 3.8 0 1 0 7.6 0a3.8 3.8 0 1 0 -7.6 0M214.1 79.0a3.8 3.8 0 1 0 7.6 0a3.8 3.8 0 1 0 -7.6 0M195.3 77.2a3.8 3.8 0 1 0 7.6 0a3.8 3.8 0 1 0 -7.6 0M242.7 50.3a3.8 3.8 0 1 0 7.6 0a3.8 3.8 0 1 0 -7.6 0M217.1 85.5a3.8 3.8 0 1 0 7.6 0a3.8 3.8 0 1 0 -7.6 0M215.6 82.3a3.8 3.8 0 1 0 7.6 0a3.8 3.8 0 1 0 -7.6 0M247.9 64.4a3.8 3.8 0 1 0 7.6 0a3.8 3.8 0 1 0 -7.6 0M183.4 79.2a3.8 3.8 0 1 0 7.6 0a3.8 3.8 0 1 0 -7.6 0M246.3 44.5a3.8 3.8 0 1 0 7.6 0a3.8 3.8 0 1 0 -7.6 0M200.6 85.7a3.8 3.8 0 1 0 7.6 0a3.8 3.8 0 1 0 -7.6 0M234.5 81.7a3.8 3.8 0 1 0 7.6 0a3.8 3.8 0 1 0 -7.6 0M216.9 85.6a3.8 3.8 0 1 0 7.6 0a3.8 3.8 0 1 0 -7.6 0M220.8 68.0a3.8 3.8 0 1 0 7.6 0a3.8 3.8 0 1 0 -7.6 0M246.0 57.6a3.8 3.8 0 1 0 7.6 0a3.8 3.8 0 1 0 -7.6 0M245.4 69.0a3.8 3.8 0 1 0 7.6 0a3.8 3.8 0 1 0 -7.6 0M194.0 71.4a3.8 3.8 0 1 0 7.6 0a3.8 3.8 0 1 0 -7.6 0M227.4 61.3a3.8 3.8 0 1 0 7.6 0a3.8 3.8 0 1 0 -7.6 0M249.5 69.5a3.8 3.8 0 1 0 7.6 0a3.8 3.8 0 1 0 -7.6 0M189.1 80.5a3.8 3.8 0 1 0 7.6 0a3.8 3.8 0 1 0 -7.6 0M246.8 47.7a3.8 3.8 0 1 0 7.6 0a3.8 3.8 0 1 0 -7.6 0M239.8 72.5a3.8 3.8 0 1 0 7.6 0a3.8 3.8 0 1 0 -7.6 0M230.5 65.0a3.8 3.8 0 1 0 7.6 0a3.8 3.8 0 1 0 -7.6 0M211.3 67.9a3.8 3.8 0 1 0 7.6 0a3.8 3.8 0 1 0 -7.6 0M207.9 86.0a3.8 3.8 0 1 0 7.6 0a3.8 3.8 0 1 0 -7.6 0M217.8 62.2a3.8 3.8 0 1 0 7.6 0a3.8 3.8 0 1 0 -7.6 0M198.5 69.0a3.8 3.8 0 1 0 7.6 0a3.8 3.8 0 1 0 -7.6 0M216.9 70.5a3.8 3.8 0 1 0 7.6 0a3.8 3.8 0 1 0 -7.6 0M219.8 66.4a3.8 3.8 0 1 0 7.6 0a3.8 3.8 0 1 0 -7.6 0M228.8 77.2a3.8 3.8 0 1 0 7.6 0a3.8 3.8 0 1 0 -7.6 0M208.0 65.7a3.8 3.8 0 1 0 7.6 0a3.8 3.8 0 1 0 -7.6 0M193.2 86.9a3.8 3.8 0 1 0 7.6 0a3.8 3.8 0 1 0 -7.6 0M209.7 76.6a3.8 3.8 0 1 0 7.6 0a3.8 3.8 0 1 0 -7.6 0M210.1 83.3a3.8 3.8 0 1 0 7.6 0a3.8 3.8 0 1 0 -7.6 0M245.4 80.3a3.8 3.8 0 1 0 7.6 0a3.8 3.8 0 1 0 -7.6 0M215.3 76.9a3.8 3.8 0 1 0 7.6 0a3.8 3.8 0 1 0 -7.6 0M224.4 80.9a3.8 3.8 0 1 0 7.6 0a3.8 3.8 0 1 0 -7.6 0M232.6 58.5a3.8 3.8 0 1 0 7.6 0a3.8 3.8 0 1 0 -7.6 0M227.0 57.3a3.8 3.8 0 1 0 7.6 0a3.8 3.8 0 1 0 -7.6 0M207.2 66.8a3.8 3.8 0 1 0 7.6 0a3.8 3.8 0 1 0 -7.6 0M214.2 76.9a3.8 3.8 0 1 0 7.6 0a3.8 3.8 0 1 0 -7.6 0M236.9 82.2a3.8 3.8 0 1 0 7.6 0a3.8 3.8 0 1 0 -7.6 0M204.8 70.7a3.8 3.8 0 1 0 7.6 0a3.8 3.8 0 1 0 -7.6 0M229.5 77.7a3.8 3.8 0 1 0 7.6 0a3.8 3.8 0 1 0 -7.6 0M197.9 76.9a3.8 3.8 0 1 0 7.6 0a3.8 3.8 0 1 0 -7.6 0M236.6 56.3a3.8 3.8 0 1 0 7.6 0a3.8 3.8 0 1 0 -7.6 0M211.8 62.5a3.8 3.8 0 1 0 7.6 0a3.8 3.8 0 1 0 -7.6 0M247.2 46.9a3.8 3.8 0 1 0 7.6 0a3.8 3.8 0 1 0 -7.6 0M233.7 57.7a3.8 3.8 0 1 0 7.6 0a3.8 3.8 0 1 0 -7.6 0M180.3 79.5a3.8 3.8 0 1 0 7.6 0a3.8 3.8 0 1 0 -7.6 0M224.8 77.6a3.8 3.8 0 1 0 7.6 0a3.8 3.8 0 1 0 -7.6 0M242.1 80.4a3.8 3.8 0 1 0 7.6 0a3.8 3.8 0 1 0 -7.6 0M204.6 83.5a3.8 3.8 0 1 0 7.6 0a3.8 3.8 0 1 0 -7.6 0M226.5 65.2a3.8 3.8 0 1 0 7.6 0a3.8 3.8 0 1 0 -7.6 0M187.9 75.3a3.8 3.8 0 1 0 7.6 0a3.8 3.8 0 1 0 -7.6 0M247.9 64.9a3.8 3.8 0 1 0 7.6 0a3.8 3.8 0 1 0 -7.6 0M243.0 77.3a3.8 3.8 0 1 0 7.6 0a3.8 3.8 0 1 0 -7.6 0M204.4 64.9a3.8 3.8 0 1 0 7.6 0a3.8 3.8 0 1 0 -7.6 0M241.3 65.2a3.8 3.8 0 1 0 7.6 0a3.8 3.8 0 1 0 -7.6 0M204.8 86.5a3.8 3.8 0 1 0 7.6 0a3.8 3.8 0 1 0 -7.6 0M249.5 51.7a3.8 3.8 0 1 0 7.6 0a3.8 3.8 0 1 0 -7.6 0M215.3 67.1a3.8 3.8 0 1 0 7.6 0a3.8 3.8 0 1 0 -7.6 0M221.7 83.1a3.8 3.8 0 1 0 7.6 0a3.8 3.8 0 1 0 -7.6 0M198.5 76.9a3.8 3.8 0 1 0 7.6 0a3.8 3.8 0 1 0 -7.6 0M202.8 70.4a3.8 3.8 0 1 0 7.6 0a3.8 3.8 0 1 0 -7.6 0M243.5 55.4a3.8 3.8 0 1 0 7.6 0a3.8 3.8 0 1 0 -7.6 0M209.2 82.0a3.8 3.8 0 1 0 7.6 0a3.8 3.8 0 1 0 -7.6 0M233.8 81.8a3.8 3.8 0 1 0 7.6 0a3.8 3.8 0 1 0 -7.6 0M247.1 75.4a3.8 3.8 0 1 0 7.6 0a3.8 3.8 0 1 0 -7.6 0M225.8 77.0a3.8 3.8 0 1 0 7.6 0a3.8 3.8 0 1 0 -7.6 0M184.4 84.3a3.8 3.8 0 1 0 7.6 0a3.8 3.8 0 1 0 -7.6 0M237.8 60.4a3.8 3.8 0 1 0 7.6 0a3.8 3.8 0 1 0 -7.6 0M213.5 61.8a3.8 3.8 0 1 0 7.6 0a3.8 3.8 0 1 0 -7.6 0M212.5 61.4a3.8 3.8 0 1 0 7.6 0a3.8 3.8 0 1 0 -7.6 0M231.4 81.6a3.8 3.8 0 1 0 7.6 0a3.8 3.8 0 1 0 -7.6 0M225.1 64.3a3.8 3.8 0 1 0 7.6 0a3.8 3.8 0 1 0 -7.6 0M237.6 70.7a3.8 3.8 0 1 0 7.6 0a3.8 3.8 0 1 0 -7.6 0M229.5 80.0a3.8 3.8 0 1 0 7.6 0a3.8 3.8 0 1 0 -7.6 0M198.1 69.6a3.8 3.8 0 1 0 7.6 0a3.8 3.8 0 1 0 -7.6 0M235.5 69.3a3.8 3.8 0 1 0 7.6 0a3.8 3.8 0 1 0 -7.6 0M220.4 79.8a3.8 3.8 0 1 0 7.6 0a3.8 3.8 0 1 0 -7.6 0M246.6 48.5a3.8 3.8 0 1 0 7.6 0a3.8 3.8 0 1 0 -7.6 0M230.0 83.8a3.8 3.8 0 1 0 7.6 0a3.8 3.8 0 1 0 -7.6 0M225.1 61.1a3.8 3.8 0 1 0 7.6 0a3.8 3.8 0 1 0 -7.6 0M188.3 74.9a3.8 3.8 0 1 0 7.6 0a3.8 3.8 0 1 0 -7.6 0M249.0 58.0a3.8 3.8 0 1 0 7.6 0a3.8 3.8 0 1 0 -7.6 0M193.1 75.6a3.8 3.8 0 1 0 7.6 0a3.8 3.8 0 1 0 -7.6 0M192.9 75.3a3.8 3.8 0 1 0 7.6 0a3.8 3.8 0 1 0 -7.6 0M208.4 65.9a3.8 3.8 0 1 0 7.6 0a3.8 3.8 0 1 0 -7.6 0M237.0 55.4a3.8 3.8 0 1 0 7.6 0a3.8 3.8 0 1 0 -7.6 0M186.1 80.7a3.8 3.8 0 1 0 7.6 0a3.8 3.8 0 1 0 -7.6 0M246.6 45.1a3.8 3.8 0 1 0 7.6 0a3.8 3.8 0 1 0 -7.6 0M224.8 61.7a3.8 3.8 0 1 0 7.6 0a3.8 3.8 0 1 0 -7.6 0M215.7 69.1a3.8 3.8 0 1 0 7.6 0a3.8 3.8 0 1 0 -7.6 0M232.0 83.7a3.8 3.8 0 1 0 7.6 0a3.8 3.8 0 1 0 -7.6 0M247.1 57.7a3.8 3.8 0 1 0 7.6 0a3.8 3.8 0 1 0 -7.6 0M209.0 79.9a3.8 3.8 0 1 0 7.6 0a3.8 3.8 0 1 0 -7.6 0M222.5 74.6a3.8 3.8 0 1 0 7.6 0a3.8 3.8 0 1 0 -7.6 0M217.8 62.4a3.8 3.8 0 1 0 7.6 0a3.8 3.8 0 1 0 -7.6 0M223.1 74.6a3.8 3.8 0 1 0 7.6 0a3.8 3.8 0 1 0 -7.6 0M250.0 45.3a3.8 3.8 0 1 0 7.6 0a3.8 3.8 0 1 0 -7.6 0M189.0 86.0a3.8 3.8 0 1 0 7.6 0a3.8 3.8 0 1 0 -7.6 0M221.1 78.8a3.8 3.8 0 1 0 7.6 0a3.8 3.8 0 1 0 -7.6 0M235.5 79.1a3.8 3.8 0 1 0 7.6 0a3.8 3.8 0 1 0 -7.6 0M210.1 69.5a3.8 3.8 0 1 0 7.6 0a3.8 3.8 0 1 0 -7.6 0M197.9 77.8a3.8 3.8 0 1 0 7.6 0a3.8 3.8 0 1 0 -7.6 0M234.2 61.5a3.8 3.8 0 1 0 7.6 0a3.8 3.8 0 1 0 -7.6 0M221.6 71.4a3.8 3.8 0 1 0 7.6 0a3.8 3.8 0 1 0 -7.6 0M232.7 79.7a3.8 3.8 0 1 0 7.6 0a3.8 3.8 0 1 0 -7.6 0M248.3 58.9a3.8 3.8 0 1 0 7.6 0a3.8 3.8 0 1 0 -7.6 0M237.8 76.6a3.8 3.8 0 1 0 7.6 0a3.8 3.8 0 1 0 -7.6 0M220.8 82.2a3.8 3.8 0 1 0 7.6 0a3.8 3.8 0 1 0 -7.6 0M212.9 68.6a3.8 3.8 0 1 0 7.6 0a3.8 3.8 0 1 0 -7.6 0M223.0 59.7a3.8 3.8 0 1 0 7.6 0a3.8 3.8 0 1 0 -7.6 0M231.2 67.9a3.8 3.8 0 1 0 7.6 0a3.8 3.8 0 1 0 -7.6 0M208.0 84.0a3.8 3.8 0 1 0 7.6 0a3.8 3.8 0 1 0 -7.6 0M213.4 83.7a3.8 3.8 0 1 0 7.6 0a3.8 3.8 0 1 0 -7.6 0M194.6 71.5a3.8 3.8 0 1 0 7.6 0a3.8 3.8 0 1 0 -7.6 0M215.0 67.4a3.8 3.8 0 1 0 7.6 0a3.8 3.8 0 1 0 -7.6 0M241.8 72.1a3.8 3.8 0 1 0 7.6 0a3.8 3.8 0 1 0 -7.6 0M244.3 47.7a3.8 3.8 0 1 0 7.6 0a3.8 3.8 0 1 0 -7.6 0M236.2 59.9a3.8 3.8 0 1 0 7.6 0a3.8 3.8 0 1 0 -7.6 0M208.5 75.0a3.8 3.8 0 1 0 7.6 0a3.8 3.8 0 1 0 -7.6 0M211.7 74.1a3.8 3.8 0 1 0 7.6 0a3.8 3.8 0 1 0 -7.6 0M246.9 45.0a3.8 3.8 0 1 0 7.6 0a3.8 3.8 0 1 0 -7.6 0M198.2 79.4a3.8 3.8 0 1 0 7.6 0a3.8 3.8 0 1 0 -7.6 0M227.1 78.2a3.8 3.8 0 1 0 7.6 0a3.8 3.8 0 1 0 -7.6 0M203.2 76.3a3.8 3.8 0 1 0 7.6 0a3.8 3.8 0 1 0 -7.6 0M193.6 81.5a3.8 3.8 0 1 0 7.6 0a3.8 3.8 0 1 0 -7.6 0M215.1 84.3a3.8 3.8 0 1 0 7.6 0a3.8 3.8 0 1 0 -7.6 0M213.5 82.8a3.8 3.8 0 1 0 7.6 0a3.8 3.8 0 1 0 -7.6 0M216.4 84.9a3.8 3.8 0 1 0 7.6 0a3.8 3.8 0 1 0 -7.6 0M213.4 85.0a3.8 3.8 0 1 0 7.6 0a3.8 3.8 0 1 0 -7.6 0M247.8 56.7a3.8 3.8 0 1 0 7.6 0a3.8 3.8 0 1 0 -7.6 0M204.4 67.4a3.8 3.8 0 1 0 7.6 0a3.8 3.8 0 1 0 -7.6 0M204.6 71.1a3.8 3.8 0 1 0 7.6 0a3.8 3.8 0 1 0 -7.6 0M227.1 81.3a3.8 3.8 0 1 0 7.6 0a3.8 3.8 0 1 0 -7.6 0M191.7 85.6a3.8 3.8 0 1 0 7.6 0a3.8 3.8 0 1 0 -7.6 0M192.2 84.8a3.8 3.8 0 1 0 7.6 0a3.8 3.8 0 1 0 -7.6 0M249.1 69.0a3.8 3.8 0 1 0 7.6 0a3.8 3.8 0 1 0 -7.6 0M246.3 75.8a3.8 3.8 0 1 0 7.6 0a3.8 3.8 0 1 0 -7.6 0M228.8 62.6a3.8 3.8 0 1 0 7.6 0a3.8 3.8 0 1 0 -7.6 0M236.8 78.6a3.8 3.8 0 1 0 7.6 0a3.8 3.8 0 1 0 -7.6 0M235.6 79.5a3.8 3.8 0 1 0 7.6 0a3.8 3.8 0 1 0 -7.6 0M207.3 74.4a3.8 3.8 0 1 0 7.6 0a3.8 3.8 0 1 0 -7.6 0M232.7 72.3a3.8 3.8 0 1 0 7.6 0a3.8 3.8 0 1 0 -7.6 0M247.8 65.4a3.8 3.8 0 1 0 7.6 0a3.8 3.8 0 1 0 -7.6 0M233.6 81.0a3.8 3.8 0 1 0 7.6 0a3.8 3.8 0 1 0 -7.6 0M230.2 69.8a3.8 3.8 0 1 0 7.6 0a3.8 3.8 0 1 0 -7.6 0M218.0 80.9a3.8 3.8 0 1 0 7.6 0a3.8 3.8 0 1 0 -7.6 0M250.9 71.6a3.8 3.8 0 1 0 7.6 0a3.8 3.8 0 1 0 -7.6 0M234.2 77.8a3.8 3.8 0 1 0 7.6 0a3.8 3.8 0 1 0 -7.6 0M224.4 79.0a3.8 3.8 0 1 0 7.6 0a3.8 3.8 0 1 0 -7.6 0M235.2 83.7a3.8 3.8 0 1 0 7.6 0a3.8 3.8 0 1 0 -7.6 0M249.3 67.7a3.8 3.8 0 1 0 7.6 0a3.8 3.8 0 1 0 -7.6 0M215.9 74.7a3.8 3.8 0 1 0 7.6 0a3.8 3.8 0 1 0 -7.6 0M213.1 82.4a3.8 3.8 0 1 0 7.6 0a3.8 3.8 0 1 0 -7.6 0M224.4 72.1a3.8 3.8 0 1 0 7.6 0a3.8 3.8 0 1 0 -7.6 0M232.6 73.6a3.8 3.8 0 1 0 7.6 0a3.8 3.8 0 1 0 -7.6 0M195.8 75.4a3.8 3.8 0 1 0 7.6 0a3.8 3.8 0 1 0 -7.6 0M242.7 69.0a3.8 3.8 0 1 0 7.6 0a3.8 3.8 0 1 0 -7.6 0M244.7 73.1a3.8 3.8 0 1 0 7.6 0a3.8 3.8 0 1 0 -7.6 0M246.5 69.2a3.8 3.8 0 1 0 7.6 0a3.8 3.8 0 1 0 -7.6 0M240.6 78.1a3.8 3.8 0 1 0 7.6 0a3.8 3.8 0 1 0 -7.6 0M250.5 71.1a3.8 3.8 0 1 0 7.6 0a3.8 3.8 0 1 0 -7.6 0M245.2 66.7a3.8 3.8 0 1 0 7.6 0a3.8 3.8 0 1 0 -7.6 0M247.6 69.8a3.8 3.8 0 1 0 7.6 0a3.8 3.8 0 1 0 -7.6 0M220.1 85.7a3.8 3.8 0 1 0 7.6 0a3.8 3.8 0 1 0 -7.6 0M189.7 77.3a3.8 3.8 0 1 0 7.6 0a3.8 3.8 0 1 0 -7.6 0M250.0 71.2a3.8 3.8 0 1 0 7.6 0a3.8 3.8 0 1 0 -7.6 0M210.6 85.5a3.8 3.8 0 1 0 7.6 0a3.8 3.8 0 1 0 -7.6 0M192.8 78.0a3.8 3.8 0 1 0 7.6 0a3.8 3.8 0 1 0 -7.6 0M206.2 85.1a3.8 3.8 0 1 0 7.6 0a3.8 3.8 0 1 0 -7.6 0M189.5 84.1a3.8 3.8 0 1 0 7.6 0a3.8 3.8 0 1 0 -7.6 0M237.9 72.0a3.8 3.8 0 1 0 7.6 0a3.8 3.8 0 1 0 -7.6 0M241.1 66.6a3.8 3.8 0 1 0 7.6 0a3.8 3.8 0 1 0 -7.6 0M203.8 81.4a3.8 3.8 0 1 0 7.6 0a3.8 3.8 0 1 0 -7.6 0M212.1 72.4a3.8 3.8 0 1 0 7.6 0a3.8 3.8 0 1 0 -7.6 0M238.4 70.8a3.8 3.8 0 1 0 7.6 0a3.8 3.8 0 1 0 -7.6 0M233.8 71.9a3.8 3.8 0 1 0 7.6 0a3.8 3.8 0 1 0 -7.6 0M191.1 86.0a3.8 3.8 0 1 0 7.6 0a3.8 3.8 0 1 0 -7.6 0M235.8 68.1a3.8 3.8 0 1 0 7.6 0a3.8 3.8 0 1 0 -7.6 0M196.0 80.4a3.8 3.8 0 1 0 7.6 0a3.8 3.8 0 1 0 -7.6 0M250.2 66.2a3.8 3.8 0 1 0 7.6 0a3.8 3.8 0 1 0 -7.6 0M243.1 77.7a3.8 3.8 0 1 0 7.6 0a3.8 3.8 0 1 0 -7.6 0M210.4 73.7a3.8 3.8 0 1 0 7.6 0a3.8 3.8 0 1 0 -7.6 0M185.9 85.7a3.8 3.8 0 1 0 7.6 0a3.8 3.8 0 1 0 -7.6 0M235.7 71.8a3.8 3.8 0 1 0 7.6 0a3.8 3.8 0 1 0 -7.6 0M218.8 71.4a3.8 3.8 0 1 0 7.6 0a3.8 3.8 0 1 0 -7.6 0M247.0 78.6a3.8 3.8 0 1 0 7.6 0a3.8 3.8 0 1 0 -7.6 0M248.6 67.9a3.8 3.8 0 1 0 7.6 0a3.8 3.8 0 1 0 -7.6 0M195.8 86.2a3.8 3.8 0 1 0 7.6 0a3.8 3.8 0 1 0 -7.6 0M215.3 71.8a3.8 3.8 0 1 0 7.6 0a3.8 3.8 0 1 0 -7.6 0M219.6 82.0a3.8 3.8 0 1 0 7.6 0a3.8 3.8 0 1 0 -7.6 0M205.6 85.4a3.8 3.8 0 1 0 7.6 0a3.8 3.8 0 1 0 -7.6 0M248.5 68.0a3.8 3.8 0 1 0 7.6 0a3.8 3.8 0 1 0 -7.6 0M243.0 71.4a3.8 3.8 0 1 0 7.6 0a3.8 3.8 0 1 0 -7.6 0M214.8 76.6a3.8 3.8 0 1 0 7.6 0a3.8 3.8 0 1 0 -7.6 0M246.1 73.9a3.8 3.8 0 1 0 7.6 0a3.8 3.8 0 1 0 -7.6 0M237.3 70.7a3.8 3.8 0 1 0 7.6 0a3.8 3.8 0 1 0 -7.6 0M190.6 84.0a3.8 3.8 0 1 0 7.6 0a3.8 3.8 0 1 0 -7.6 0M206.5 80.1a3.8 3.8 0 1 0 7.6 0a3.8 3.8 0 1 0 -7.6 0M217.4 79.1a3.8 3.8 0 1 0 7.6 0a3.8 3.8 0 1 0 -7.6 0M226.2 74.9a3.8 3.8 0 1 0 7.6 0a3.8 3.8 0 1 0 -7.6 0M206.3 83.2a3.8 3.8 0 1 0 7.6 0a3.8 3.8 0 1 0 -7.6 0M232.1 68.5a3.8 3.8 0 1 0 7.6 0a3.8 3.8 0 1 0 -7.6 0M178.2 86.4a3.8 3.8 0 1 0 7.6 0a3.8 3.8 0 1 0 -7.6 0M235.4 68.5a3.8 3.8 0 1 0 7.6 0a3.8 3.8 0 1 0 -7.6 0M186.5 85.8a3.8 3.8 0 1 0 7.6 0a3.8 3.8 0 1 0 -7.6 0M237.9 71.9a3.8 3.8 0 1 0 7.6 0a3.8 3.8 0 1 0 -7.6 0M238.3 75.6a3.8 3.8 0 1 0 7.6 0a3.8 3.8 0 1 0 -7.6 0M186.1 79.8a3.8 3.8 0 1 0 7.6 0a3.8 3.8 0 1 0 -7.6 0M229.9 79.8a3.8 3.8 0 1 0 7.6 0a3.8 3.8 0 1 0 -7.6 0M204.4 73.6a3.8 3.8 0 1 0 7.6 0a3.8 3.8 0 1 0 -7.6 0M196.1 81.0a3.8 3.8 0 1 0 7.6 0a3.8 3.8 0 1 0 -7.6 0M243.9 74.1a3.8 3.8 0 1 0 7.6 0a3.8 3.8 0 1 0 -7.6 0M226.8 71.6a3.8 3.8 0 1 0 7.6 0a3.8 3.8 0 1 0 -7.6 0M209.6 76.2a3.8 3.8 0 1 0 7.6 0a3.8 3.8 0 1 0 -7.6 0M229.2 79.6a3.8 3.8 0 1 0 7.6 0a3.8 3.8 0 1 0 -7.6 0M220.2 77.6a3.8 3.8 0 1 0 7.6 0a3.8 3.8 0 1 0 -7.6 0M191.7 83.7a3.8 3.8 0 1 0 7.6 0a3.8 3.8 0 1 0 -7.6 0M210.0 86.8a3.8 3.8 0 1 0 7.6 0a3.8 3.8 0 1 0 -7.6 0M225.7 78.7a3.8 3.8 0 1 0 7.6 0a3.8 3.8 0 1 0 -7.6 0M234.5 76.0a3.8 3.8 0 1 0 7.6 0a3.8 3.8 0 1 0 -7.6 0M203.7 87.0a3.8 3.8 0 1 0 7.6 0a3.8 3.8 0 1 0 -7.6 0M213.2 73.2a3.8 3.8 0 1 0 7.6 0a3.8 3.8 0 1 0 -7.6 0M202.8 82.5a3.8 3.8 0 1 0 7.6 0a3.8 3.8 0 1 0 -7.6 0M233.8 73.2a3.8 3.8 0 1 0 7.6 0a3.8 3.8 0 1 0 -7.6 0M204.5 76.4a3.8 3.8 0 1 0 7.6 0a3.8 3.8 0 1 0 -7.6 0M197.5 86.7a3.8 3.8 0 1 0 7.6 0a3.8 3.8 0 1 0 -7.6 0M248.0 74.3a3.8 3.8 0 1 0 7.6 0a3.8 3.8 0 1 0 -7.6 0M202.6 83.9a3.8 3.8 0 1 0 7.6 0a3.8 3.8 0 1 0 -7.6 0M195.4 78.6a3.8 3.8 0 1 0 7.6 0a3.8 3.8 0 1 0 -7.6 0M230.1 83.4a3.8 3.8 0 1 0 7.6 0a3.8 3.8 0 1 0 -7.6 0M184.5 86.1a3.8 3.8 0 1 0 7.6 0a3.8 3.8 0 1 0 -7.6 0M194.6 77.8a3.8 3.8 0 1 0 7.6 0a3.8 3.8 0 1 0 -7.6 0M207.8 74.2a3.8 3.8 0 1 0 7.6 0a3.8 3.8 0 1 0 -7.6 0M203.7 74.7a3.8 3.8 0 1 0 7.6 0a3.8 3.8 0 1 0 -7.6 0M201.5 81.1a3.8 3.8 0 1 0 7.6 0a3.8 3.8 0 1 0 -7.6 0M201.8 83.2a3.8 3.8 0 1 0 7.6 0a3.8 3.8 0 1 0 -7.6 0M224.3 83.1a3.8 3.8 0 1 0 7.6 0a3.8 3.8 0 1 0 -7.6 0M226.9 81.6a3.8 3.8 0 1 0 7.6 0a3.8 3.8 0 1 0 -7.6 0M226.6 84.7a3.8 3.8 0 1 0 7.6 0a3.8 3.8 0 1 0 -7.6 0M222.4 74.7a3.8 3.8 0 1 0 7.6 0a3.8 3.8 0 1 0 -7.6 0M238.8 70.5a3.8 3.8 0 1 0 7.6 0a3.8 3.8 0 1 0 -7.6 0M203.1 77.4a3.8 3.8 0 1 0 7.6 0a3.8 3.8 0 1 0 -7.6 0M192.6 77.2a3.8 3.8 0 1 0 7.6 0a3.8 3.8 0 1 0 -7.6 0M205.4 81.1a3.8 3.8 0 1 0 7.6 0a3.8 3.8 0 1 0 -7.6 0M218.1 85.5a3.8 3.8 0 1 0 7.6 0a3.8 3.8 0 1 0 -7.6 0M195.0 80.6a3.8 3.8 0 1 0 7.6 0a3.8 3.8 0 1 0 -7.6 0M249.1 73.8a3.8 3.8 0 1 0 7.6 0a3.8 3.8 0 1 0 -7.6 0M220.6 79.7a3.8 3.8 0 1 0 7.6 0a3.8 3.8 0 1 0 -7.6 0M231.4 68.5a3.8 3.8 0 1 0 7.6 0a3.8 3.8 0 1 0 -7.6 0M228.9 78.1a3.8 3.8 0 1 0 7.6 0a3.8 3.8 0 1 0 -7.6 0M209.0 86.3a3.8 3.8 0 1 0 7.6 0a3.8 3.8 0 1 0 -7.6 0M242.9 78.3a3.8 3.8 0 1 0 7.6 0a3.8 3.8 0 1 0 -7.6 0M207.2 73.7a3.8 3.8 0 1 0 7.6 0a3.8 3.8 0 1 0 -7.6 0M220.7 72.1a3.8 3.8 0 1 0 7.6 0a3.8 3.8 0 1 0 -7.6 0M211.8 75.6a3.8 3.8 0 1 0 7.6 0a3.8 3.8 0 1 0 -7.6 0M199.9 83.6a3.8 3.8 0 1 0 7.6 0a3.8 3.8 0 1 0 -7.6 0M239.4 74.9a3.8 3.8 0 1 0 7.6 0a3.8 3.8 0 1 0 -7.6 0M208.2 85.1a3.8 3.8 0 1 0 7.6 0a3.8 3.8 0 1 0 -7.6 0M250.2 68.4a3.8 3.8 0 1 0 7.6 0a3.8 3.8 0 1 0 -7.6 0M200.9 78.2a3.8 3.8 0 1 0 7.6 0a3.8 3.8 0 1 0 -7.6 0M211.6 74.9a3.8 3.8 0 1 0 7.6 0a3.8 3.8 0 1 0 -7.6 0M217.5 80.4a3.8 3.8 0 1 0 7.6 0a3.8 3.8 0 1 0 -7.6 0M236.1 72.4a3.8 3.8 0 1 0 7.6 0a3.8 3.8 0 1 0 -7.6 0M222.4 72.0a3.8 3.8 0 1 0 7.6 0a3.8 3.8 0 1 0 -7.6 0M209.9 80.5a3.8 3.8 0 1 0 7.6 0a3.8 3.8 0 1 0 -7.6 0M228.5 76.2a3.8 3.8 0 1 0 7.6 0a3.8 3.8 0 1 0 -7.6 0M244.0 78.8a3.8 3.8 0 1 0 7.6 0a3.8 3.8 0 1 0 -7.6 0M228.4 81.6a3.8 3.8 0 1 0 7.6 0a3.8 3.8 0 1 0 -7.6 0M209.2 79.9a3.8 3.8 0 1 0 7.6 0a3.8 3.8 0 1 0 -7.6 0M226.5 73.4a3.8 3.8 0 1 0 7.6 0a3.8 3.8 0 1 0 -7.6 0M175.1 84.6a3.8 3.8 0 1 0 7.6 0a3.8 3.8 0 1 0 -7.6 0M208.0 75.4a3.8 3.8 0 1 0 7.6 0a3.8 3.8 0 1 0 -7.6 0M236.9 79.3a3.8 3.8 0 1 0 7.6 0a3.8 3.8 0 1 0 -7.6 0M211.5 86.3a3.8 3.8 0 1 0 7.6 0a3.8 3.8 0 1 0 -7.6 0M240.2 76.5a3.8 3.8 0 1 0 7.6 0a3.8 3.8 0 1 0 -7.6 0M223.6 83.3a3.8 3.8 0 1 0 7.6 0a3.8 3.8 0 1 0 -7.6 0M203.8 77.2a3.8 3.8 0 1 0 7.6 0a3.8 3.8 0 1 0 -7.6 0M221.1 80.3a3.8 3.8 0 1 0 7.6 0a3.8 3.8 0 1 0 -7.6 0M236.5 71.8a3.8 3.8 0 1 0 7.6 0a3.8 3.8 0 1 0 -7.6 0M181.4 81.8a3.8 3.8 0 1 0 7.6 0a3.8 3.8 0 1 0 -7.6 0M245.7 68.8a3.8 3.8 0 1 0 7.6 0a3.8 3.8 0 1 0 -7.6 0M246.6 71.5a3.8 3.8 0 1 0 7.6 0a3.8 3.8 0 1 0 -7.6 0M244.1 75.0a3.8 3.8 0 1 0 7.6 0a3.8 3.8 0 1 0 -7.6 0M199.1 75.6a3.8 3.8 0 1 0 7.6 0a3.8 3.8 0 1 0 -7.6 0M185.8 78.7a3.8 3.8 0 1 0 7.6 0a3.8 3.8 0 1 0 -7.6 0M247.0 67.5a3.8 3.8 0 1 0 7.6 0a3.8 3.8 0 1 0 -7.6 0M190.4 83.1a3.8 3.8 0 1 0 7.6 0a3.8 3.8 0 1 0 -7.6 0M228.1 80.0a3.8 3.8 0 1 0 7.6 0a3.8 3.8 0 1 0 -7.6 0M191.5 77.8a3.8 3.8 0 1 0 7.6 0a3.8 3.8 0 1 0 -7.6 0M247.4 65.5a3.8 3.8 0 1 0 7.6 0a3.8 3.8 0 1 0 -7.6 0M178.2 84.8a3.8 3.8 0 1 0 7.6 0a3.8 3.8 0 1 0 -7.6 0M248.9 65.9a3.8 3.8 0 1 0 7.6 0a3.8 3.8 0 1 0 -7.6 0M223.8 78.8a3.8 3.8 0 1 0 7.6 0a3.8 3.8 0 1 0 -7.6 0M222.3 75.7a3.8 3.8 0 1 0 7.6 0a3.8 3.8 0 1 0 -7.6 0M178.5 85.5a3.8 3.8 0 1 0 7.6 0a3.8 3.8 0 1 0 -7.6 0M178.0 86.1a3.8 3.8 0 1 0 7.6 0a3.8 3.8 0 1 0 -7.6 0M223.7 79.5a3.8 3.8 0 1 0 7.6 0a3.8 3.8 0 1 0 -7.6 0M203.1 75.1a3.8 3.8 0 1 0 7.6 0a3.8 3.8 0 1 0 -7.6 0M228.0 76.4a3.8 3.8 0 1 0 7.6 0a3.8 3.8 0 1 0 -7.6 0M212.0 77.1a3.8 3.8 0 1 0 7.6 0a3.8 3.8 0 1 0 -7.6 0M203.4 86.1a3.8 3.8 0 1 0 7.6 0a3.8 3.8 0 1 0 -7.6 0M199.2 82.5a3.8 3.8 0 1 0 7.6 0a3.8 3.8 0 1 0 -7.6 0M238.1 82.0a3.8 3.8 0 1 0 7.6 0a3.8 3.8 0 1 0 -7.6 0M184.5 81.3a3.8 3.8 0 1 0 7.6 0a3.8 3.8 0 1 0 -7.6 0M244.3 64.2a3.8 3.8 0 1 0 7.6 0a3.8 3.8 0 1 0 -7.6 0M223.5 84.2a3.8 3.8 0 1 0 7.6 0a3.8 3.8 0 1 0 -7.6 0M230.9 81.7a3.8 3.8 0 1 0 7.6 0a3.8 3.8 0 1 0 -7.6 0M215.0 75.5a3.8 3.8 0 1 0 7.6 0a3.8 3.8 0 1 0 -7.6 0M182.2 155.9a3.8 3.8 0 1 0 7.6 0a3.8 3.8 0 1 0 -7.6 0M185.8 155.9a3.8 3.8 0 1 0 7.6 0a3.8 3.8 0 1 0 -7.6 0M189.5 155.9a3.8 3.8 0 1 0 7.6 0a3.8 3.8 0 1 0 -7.6 0M197.7 144.1a3.8 3.8 0 1 0 7.6 0a3.8 3.8 0 1 0 -7.6 0M201.3 140.5a3.8 3.8 0 1 0 7.6 0a3.8 3.8 0 1 0 -7.6 0M204.9 142.3a3.8 3.8 0 1 0 7.6 0a3.8 3.8 0 1 0 -7.6 0M207.7 137.7a3.8 3.8 0 1 0 7.6 0a3.8 3.8 0 1 0 -7.6 0M210.4 140.5a3.8 3.8 0 1 0 7.6 0a3.8 3.8 0 1 0 -7.6 0M213.1 137.7a3.8 3.8 0 1 0 7.6 0a3.8 3.8 0 1 0 -7.6 0M216.7 142.3a3.8 3.8 0 1 0 7.6 0a3.8 3.8 0 1 0 -7.6 0M220.4 146.8a3.8 3.8 0 1 0 7.6 0a3.8 3.8 0 1 0 -7.6 0M222.2 138.6a3.8 3.8 0 1 0 7.6 0a3.8 3.8 0 1 0 -7.6 0M225.8 136.8a3.8 3.8 0 1 0 7.6 0a3.8 3.8 0 1 0 -7.6 0M227.7 142.3a3.8 3.8 0 1 0 7.6 0a3.8 3.8 0 1 0 -7.6 0M231.3 138.6a3.8 3.8 0 1 0 7.6 0a3.8 3.8 0 1 0 -7.6 0M234.9 143.2a3.8 3.8 0 1 0 7.6 0a3.8 3.8 0 1 0 -7.6 0M238.6 138.6a3.8 3.8 0 1 0 7.6 0a3.8 3.8 0 1 0 -7.6 0M242.2 140.5a3.8 3.8 0 1 0 7.6 0a3.8 3.8 0 1 0 -7.6 0M245.8 137.7a3.8 3.8 0 1 0 7.6 0a3.8 3.8 0 1 0 -7.6 0M249.5 141.4a3.8 3.8 0 1 0 7.6 0a3.8 3.8 0 1 0 -7.6 0M252.2 135.9a3.8 3.8 0 1 0 7.6 0a3.8 3.8 0 1 0 -7.6 0M214.9 138.6a3.8 3.8 0 1 0 7.6 0a3.8 3.8 0 1 0 -7.6 0M206.7 145.0a3.8 3.8 0 1 0 7.6 0a3.8 3.8 0 1 0 -7.6 0M211.3 144.1a3.8 3.8 0 1 0 7.6 0a3.8 3.8 0 1 0 -7.6 0M233.1 140.5a3.8 3.8 0 1 0 7.6 0a3.8 3.8 0 1 0 -7.6 0M216.1 217.6a3.8 3.8 0 1 0 7.6 0a3.8 3.8 0 1 0 -7.6 0M207.0 208.7a3.8 3.8 0 1 0 7.6 0a3.8 3.8 0 1 0 -7.6 0M195.8 212.7a3.8 3.8 0 1 0 7.6 0a3.8 3.8 0 1 0 -7.6 0M208.7 208.6a3.8 3.8 0 1 0 7.6 0a3.8 3.8 0 1 0 -7.6 0M223.1 209.1a3.8 3.8 0 1 0 7.6 0a3.8 3.8 0 1 0 -7.6 0M219.0 216.9a3.8 3.8 0 1 0 7.6 0a3.8 3.8 0 1 0 -7.6 0M215.1 206.5a3.8 3.8 0 1 0 7.6 0a3.8 3.8 0 1 0 -7.6 0M231.5 205.0a3.8 3.8 0 1 0 7.6 0a3.8 3.8 0 1 0 -7.6 0M219.2 218.0a3.8 3.8 0 1 0 7.6 0a3.8 3.8 0 1 0 -7.6 0M186.3 214.0a3.8 3.8 0 1 0 7.6 0a3.8 3.8 0 1 0 -7.6 0M203.8 210.6a3.8 3.8 0 1 0 7.6 0a3.8 3.8 0 1 0 -7.6 0M205.2 211.1a3.8 3.8 0 1 0 7.6 0a3.8 3.8 0 1 0 -7.6 0M228.0 205.3a3.8 3.8 0 1 0 7.6 0a3.8 3.8 0 1 0 -7.6 0M217.7 205.7a3.8 3.8 0 1 0 7.6 0a3.8 3.8 0 1 0 -7.6 0M194.3 208.9a3.8 3.8 0 1 0 7.6 0a3.8 3.8 0 1 0 -7.6 0M204.2 206.6a3.8 3.8 0 1 0 7.6 0a3.8 3.8 0 1 0 -7.6 0M216.7 216.8a3.8 3.8 0 1 0 7.6 0a3.8 3.8 0 1 0 -7.6 0M202.8 206.0a3.8 3.8 0 1 0 7.6 0a3.8 3.8 0 1 0 -7.6 0M213.0 219.7a3.8 3.8 0 1 0 7.6 0a3.8 3.8 0 1 0 -7.6 0M182.4 214.5a3.8 3.8 0 1 0 7.6 0a3.8 3.8 0 1 0 -7.6 0M230.1 212.7a3.8 3.8 0 1 0 7.6 0a3.8 3.8 0 1 0 -7.6 0M231.8 204.5a3.8 3.8 0 1 0 7.6 0a3.8 3.8 0 1 0 -7.6 0M182.0 217.4a3.8 3.8 0 1 0 7.6 0a3.8 3.8 0 1 0 -7.6 0M207.6 216.8a3.8 3.8 0 1 0 7.6 0a3.8 3.8 0 1 0 -7.6 0M196.5 211.4a3.8 3.8 0 1 0 7.6 0a3.8 3.8 0 1 0 -7.6 0M216.4 206.2a3.8 3.8 0 1 0 7.6 0a3.8 3.8 0 1 0 -7.6 0M202.4 210.6a3.8 3.8 0 1 0 7.6 0a3.8 3.8 0 1 0 -7.6 0M225.7 203.2a3.8 3.8 0 1 0 7.6 0a3.8 3.8 0 1 0 -7.6 0M230.2 211.4a3.8 3.8 0 1 0 7.6 0a3.8 3.8 0 1 0 -7.6 0M193.0 210.3a3.8 3.8 0 1 0 7.6 0a3.8 3.8 0 1 0 -7.6 0M196.6 208.1a3.8 3.8 0 1 0 7.6 0a3.8 3.8 0 1 0 -7.6 0M183.8 214.9a3.8 3.8 0 1 0 7.6 0a3.8 3.8 0 1 0 -7.6 0M199.0 213.2a3.8 3.8 0 1 0 7.6 0a3.8 3.8 0 1 0 -7.6 0M232.8 208.6a3.8 3.8 0 1 0 7.6 0a3.8 3.8 0 1 0 -7.6 0M187.8 214.8a3.8 3.8 0 1 0 7.6 0a3.8 3.8 0 1 0 -7.6 0M218.0 211.4a3.8 3.8 0 1 0 7.6 0a3.8 3.8 0 1 0 -7.6 0M216.5 213.7a3.8 3.8 0 1 0 7.6 0a3.8 3.8 0 1 0 -7.6 0M219.1 218.8a3.8 3.8 0 1 0 7.6 0a3.8 3.8 0 1 0 -7.6 0M211.3 209.8a3.8 3.8 0 1 0 7.6 0a3.8 3.8 0 1 0 -7.6 0M203.5 212.2a3.8 3.8 0 1 0 7.6 0a3.8 3.8 0 1 0 -7.6 0M198.2 217.6a3.8 3.8 0 1 0 7.6 0a3.8 3.8 0 1 0 -7.6 0M229.9 204.7a3.8 3.8 0 1 0 7.6 0a3.8 3.8 0 1 0 -7.6 0M195.5 213.0a3.8 3.8 0 1 0 7.6 0a3.8 3.8 0 1 0 -7.6 0M207.5 210.8a3.8 3.8 0 1 0 7.6 0a3.8 3.8 0 1 0 -7.6 0M203.7 211.7a3.8 3.8 0 1 0 7.6 0a3.8 3.8 0 1 0 -7.6 0M192.1 217.7a3.8 3.8 0 1 0 7.6 0a3.8 3.8 0 1 0 -7.6 0M186.2 211.9a3.8 3.8 0 1 0 7.6 0a3.8 3.8 0 1 0 -7.6 0M188.9 213.6a3.8 3.8 0 1 0 7.6 0a3.8 3.8 0 1 0 -7.6 0M220.6 209.7a3.8 3.8 0 1 0 7.6 0a3.8 3.8 0 1 0 -7.6 0M230.7 205.9a3.8 3.8 0 1 0 7.6 0a3.8 3.8 0 1 0 -7.6 0M219.7 208.7a3.8 3.8 0 1 0 7.6 0a3.8 3.8 0 1 0 -7.6 0M233.3 205.4a3.8 3.8 0 1 0 7.6 0a3.8 3.8 0 1 0 -7.6 0M180.5 218.4a3.8 3.8 0 1 0 7.6 0a3.8 3.8 0 1 0 -7.6 0M195.8 222.1a3.8 3.8 0 1 0 7.6 0a3.8 3.8 0 1 0 -7.6 0M188.6 214.3a3.8 3.8 0 1 0 7.6 0a3.8 3.8 0 1 0 -7.6 0M192.6 214.0a3.8 3.8 0 1 0 7.6 0a3.8 3.8 0 1 0 -7.6 0M190.2 213.3a3.8 3.8 0 1 0 7.6 0a3.8 3.8 0 1 0 -7.6 0M210.5 206.9a3.8 3.8 0 1 0 7.6 0a3.8 3.8 0 1 0 -7.6 0M191.2 213.3a3.8 3.8 0 1 0 7.6 0a3.8 3.8 0 1 0 -7.6 0M218.3 201.3a3.8 3.8 0 1 0 7.6 0a3.8 3.8 0 1 0 -7.6 0M205.6 220.3a3.8 3.8 0 1 0 7.6 0a3.8 3.8 0 1 0 -7.6 0M207.8 207.6a3.8 3.8 0 1 0 7.6 0a3.8 3.8 0 1 0 -7.6 0M207.5 214.1a3.8 3.8 0 1 0 7.6 0a3.8 3.8 0 1 0 -7.6 0M182.2 214.1a3.8 3.8 0 1 0 7.6 0a3.8 3.8 0 1 0 -7.6 0M214.7 209.9a3.8 3.8 0 1 0 7.6 0a3.8 3.8 0 1 0 -7.6 0M227.8 215.0a3.8 3.8 0 1 0 7.6 0a3.8 3.8 0 1 0 -7.6 0M200.1 212.8a3.8 3.8 0 1 0 7.6 0a3.8 3.8 0 1 0 -7.6 0M185.9 219.1a3.8 3.8 0 1 0 7.6 0a3.8 3.8 0 1 0 -7.6 0M230.3 203.1a3.8 3.8 0 1 0 7.6 0a3.8 3.8 0 1 0 -7.6 0M228.2 201.9a3.8 3.8 0 1 0 7.6 0a3.8 3.8 0 1 0 -7.6 0M200.6 214.1a3.8 3.8 0 1 0 7.6 0a3.8 3.8 0 1 0 -7.6 0M229.7 210.7a3.8 3.8 0 1 0 7.6 0a3.8 3.8 0 1 0 -7.6 0M215.2 203.3a3.8 3.8 0 1 0 7.6 0a3.8 3.8 0 1 0 -7.6 0M202.9 220.9a3.8 3.8 0 1 0 7.6 0a3.8 3.8 0 1 0 -7.6 0M207.4 208.5a3.8 3.8 0 1 0 7.6 0a3.8 3.8 0 1 0 -7.6 0M215.7 217.8a3.8 3.8 0 1 0 7.6 0a3.8 3.8 0 1 0 -7.6 0M189.1 217.2a3.8 3.8 0 1 0 7.6 0a3.8 3.8 0 1 0 -7.6 0M182.7 211.7a3.8 3.8 0 1 0 7.6 0a3.8 3.8 0 1 0 -7.6 0M205.4 208.1a3.8 3.8 0 1 0 7.6 0a3.8 3.8 0 1 0 -7.6 0M203.8 217.6a3.8 3.8 0 1 0 7.6 0a3.8 3.8 0 1 0 -7.6 0M220.6 213.0a3.8 3.8 0 1 0 7.6 0a3.8 3.8 0 1 0 -7.6 0M231.2 211.1a3.8 3.8 0 1 0 7.6 0a3.8 3.8 0 1 0 -7.6 0M228.7 214.2a3.8 3.8 0 1 0 7.6 0a3.8 3.8 0 1 0 -7.6 0M214.6 209.8a3.8 3.8 0 1 0 7.6 0a3.8 3.8 0 1 0 -7.6 0M206.1 211.6a3.8 3.8 0 1 0 7.6 0a3.8 3.8 0 1 0 -7.6 0M225.6 208.0a3.8 3.8 0 1 0 7.6 0a3.8 3.8 0 1 0 -7.6 0M224.3 205.7a3.8 3.8 0 1 0 7.6 0a3.8 3.8 0 1 0 -7.6 0M215.9 206.9a3.8 3.8 0 1 0 7.6 0a3.8 3.8 0 1 0 -7.6 0M192.1 210.8a3.8 3.8 0 1 0 7.6 0a3.8 3.8 0 1 0 -7.6 0M188.1 217.1a3.8 3.8 0 1 0 7.6 0a3.8 3.8 0 1 0 -7.6 0M196.2 218.6a3.8 3.8 0 1 0 7.6 0a3.8 3.8 0 1 0 -7.6 0M186.2 215.2a3.8 3.8 0 1 0 7.6 0a3.8 3.8 0 1 0 -7.6 0M220.5 273.9a3.8 3.8 0 1 0 7.6 0a3.8 3.8 0 1 0 -7.6 0M248.2 271.2a3.8 3.8 0 1 0 7.6 0a3.8 3.8 0 1 0 -7.6 0M249.9 261.2a3.8 3.8 0 1 0 7.6 0a3.8 3.8 0 1 0 -7.6 0M237.2 281.0a3.8 3.8 0 1 0 7.6 0a3.8 3.8 0 1 0 -7.6 0M212.4 271.2a3.8 3.8 0 1 0 7.6 0a3.8 3.8 0 1 0 -7.6 0M240.1 259.0a3.8 3.8 0 1 0 7.6 0a3.8 3.8 0 1 0 -7.6 0M209.8 276.8a3.8 3.8 0 1 0 7.6 0a3.8 3.8 0 1 0 -7.6 0M238.0 272.3a3.8 3.8 0 1 0 7.6 0a3.8 3.8 0 1 0 -7.6 0M215.7 274.0a3.8 3.8 0 1 0 7.6 0a3.8 3.8 0 1 0 -7.6 0M235.0 261.6a3.8 3.8 0 1 0 7.6 0a3.8 3.8 0 1 0 -7.6 0M236.3 269.0a3.8 3.8 0 1 0 7.6 0a3.8 3.8 0 1 0 -7.6 0M213.9 284.4a3.8 3.8 0 1 0 7.6 0a3.8 3.8 0 1 0 -7.6 0M238.2 260.3a3.8 3.8 0 1 0 7.6 0a3.8 3.8 0 1 0 -7.6 0M243.3 249.3a3.8 3.8 0 1 0 7.6 0a3.8 3.8 0 1 0 -7.6 0M242.6 250.9a3.8 3.8 0 1 0 7.6 0a3.8 3.8 0 1 0 -7.6 0M212.6 275.0a3.8 3.8 0 1 0 7.6 0a3.8 3.8 0 1 0 -7.6 0M238.9 269.3a3.8 3.8 0 1 0 7.6 0a3.8 3.8 0 1 0 -7.6 0M233.9 284.4a3.8 3.8 0 1 0 7.6 0a3.8 3.8 0 1 0 -7.6 0M217.3 273.8a3.8 3.8 0 1 0 7.6 0a3.8 3.8 0 1 0 -7.6 0M222.3 275.6a3.8 3.8 0 1 0 7.6 0a3.8 3.8 0 1 0 -7.6 0M221.3 284.1a3.8 3.8 0 1 0 7.6 0a3.8 3.8 0 1 0 -7.6 0M246.6 266.5a3.8 3.8 0 1 0 7.6 0a3.8 3.8 0 1 0 -7.6 0M232.7 286.0a3.8 3.8 0 1 0 7.6 0a3.8 3.8 0 1 0 -7.6 0M247.1 251.2a3.8 3.8 0 1 0 7.6 0a3.8 3.8 0 1 0 -7.6 0M210.6 278.7a3.8 3.8 0 1 0 7.6 0a3.8 3.8 0 1 0 -7.6 0M227.1 272.4a3.8 3.8 0 1 0 7.6 0a3.8 3.8 0 1 0 -7.6 0M211.0 274.7a3.8 3.8 0 1 0 7.6 0a3.8 3.8 0 1 0 -7.6 0M225.8 283.3a3.8 3.8 0 1 0 7.6 0a3.8 3.8 0 1 0 -7.6 0M220.3 280.8a3.8 3.8 0 1 0 7.6 0a3.8 3.8 0 1 0 -7.6 0M212.9 283.8a3.8 3.8 0 1 0 7.6 0a3.8 3.8 0 1 0 -7.6 0M243.8 259.4a3.8 3.8 0 1 0 7.6 0a3.8 3.8 0 1 0 -7.6 0M212.9 281.7a3.8 3.8 0 1 0 7.6 0a3.8 3.8 0 1 0 -7.6 0M215.2 279.8a3.8 3.8 0 1 0 7.6 0a3.8 3.8 0 1 0 -7.6 0M239.6 261.8a3.8 3.8 0 1 0 7.6 0a3.8 3.8 0 1 0 -7.6 0M226.3 269.7a3.8 3.8 0 1 0 7.6 0a3.8 3.8 0 1 0 -7.6 0M221.9 272.7a3.8 3.8 0 1 0 7.6 0a3.8 3.8 0 1 0 -7.6 0M222.2 279.3a3.8 3.8 0 1 0 7.6 0a3.8 3.8 0 1 0 -7.6 0M231.1 261.9a3.8 3.8 0 1 0 7.6 0a3.8 3.8 0 1 0 -7.6 0M238.6 283.0a3.8 3.8 0 1 0 7.6 0a3.8 3.8 0 1 0 -7.6 0M224.8 285.2a3.8 3.8 0 1 0 7.6 0a3.8 3.8 0 1 0 -7.6 0M237.2 270.7a3.8 3.8 0 1 0 7.6 0a3.8 3.8 0 1 0 -7.6 0M240.6 275.8a3.8 3.8 0 1 0 7.6 0a3.8 3.8 0 1 0 -7.6 0M242.8 278.5a3.8 3.8 0 1 0 7.6 0a3.8 3.8 0 1 0 -7.6 0M232.7 262.7a3.8 3.8 0 1 0 7.6 0a3.8 3.8 0 1 0 -7.6 0M231.7 260.0a3.8 3.8 0 1 0 7.6 0a3.8 3.8 0 1 0 -7.6 0M216.9 285.3a3.8 3.8 0 1 0 7.6 0a3.8 3.8 0 1 0 -7.6 0M248.6 271.0a3.8 3.8 0 1 0 7.6 0a3.8 3.8 0 1 0 -7.6 0M248.7 254.2a3.8 3.8 0 1 0 7.6 0a3.8 3.8 0 1 0 -7.6 0M241.0 268.5a3.8 3.8 0 1 0 7.6 0a3.8 3.8 0 1 0 -7.6 0M240.7 268.2a3.8 3.8 0 1 0 7.6 0a3.8 3.8 0 1 0 -7.6 0M239.8 279.9a3.8 3.8 0 1 0 7.6 0a3.8 3.8 0 1 0 -7.6 0M243.6 279.5a3.8 3.8 0 1 0 7.6 0a3.8 3.8 0 1 0 -7.6 0M228.5 267.0a3.8 3.8 0 1 0 7.6 0a3.8 3.8 0 1 0 -7.6 0M219.8 281.3a3.8 3.8 0 1 0 7.6 0a3.8 3.8 0 1 0 -7.6 0M234.7 281.4a3.8 3.8 0 1 0 7.6 0a3.8 3.8 0 1 0 -7.6 0M221.7 285.7a3.8 3.8 0 1 0 7.6 0a3.8 3.8 0 1 0 -7.6 0M235.7 268.3a3.8 3.8 0 1 0 7.6 0a3.8 3.8 0 1 0 -7.6 0M217.4 282.4a3.8 3.8 0 1 0 7.6 0a3.8 3.8 0 1 0 -7.6 0M228.9 286.5a3.8 3.8 0 1 0 7.6 0a3.8 3.8 0 1 0 -7.6 0M239.7 282.1a3.8 3.8 0 1 0 7.6 0a3.8 3.8 0 1 0 -7.6 0M213.1 276.8a3.8 3.8 0 1 0 7.6 0a3.8 3.8 0 1 0 -7.6 0M214.1 270.3a3.8 3.8 0 1 0 7.6 0a3.8 3.8 0 1 0 -7.6 0M228.9 261.2a3.8 3.8 0 1 0 7.6 0a3.8 3.8 0 1 0 -7.6 0M241.8 268.6a3.8 3.8 0 1 0 7.6 0a3.8 3.8 0 1 0 -7.6 0M231.7 259.1a3.8 3.8 0 1 0 7.6 0a3.8 3.8 0 1 0 -7.6 0M243.5 258.1a3.8 3.8 0 1 0 7.6 0a3.8 3.8 0 1 0 -7.6 0M232.9 273.8a3.8 3.8 0 1 0 7.6 0a3.8 3.8 0 1 0 -7.6 0M250.8 249.7a3.8 3.8 0 1 0 7.6 0a3.8 3.8 0 1 0 -7.6 0M243.7 254.5a3.8 3.8 0 1 0 7.6 0a3.8 3.8 0 1 0 -7.6 0M246.5 247.0a3.8 3.8 0 1 0 7.6 0a3.8 3.8 0 1 0 -7.6 0M226.4 286.6a3.8 3.8 0 1 0 7.6 0a3.8 3.8 0 1 0 -7.6 0M229.7 259.1a3.8 3.8 0 1 0 7.6 0a3.8 3.8 0 1 0 -7.6 0M229.8 276.5a3.8 3.8 0 1 0 7.6 0a3.8 3.8 0 1 0 -7.6 0M245.8 259.5a3.8 3.8 0 1 0 7.6 0a3.8 3.8 0 1 0 -7.6 0M217.3 273.3a3.8 3.8 0 1 0 7.6 0a3.8 3.8 0 1 0 -7.6 0M224.2 280.0a3.8 3.8 0 1 0 7.6 0a3.8 3.8 0 1 0 -7.6 0M214.7 284.3a3.8 3.8 0 1 0 7.6 0a3.8 3.8 0 1 0 -7.6 0M231.6 267.1a3.8 3.8 0 1 0 7.6 0a3.8 3.8 0 1 0 -7.6 0M218.3 288.6a3.8 3.8 0 1 0 7.6 0a3.8 3.8 0 1 0 -7.6 0M215.4 288.4a3.8 3.8 0 1 0 7.6 0a3.8 3.8 0 1 0 -7.6 0M244.7 254.2a3.8 3.8 0 1 0 7.6 0a3.8 3.8 0 1 0 -7.6 0M248.2 252.0a3.8 3.8 0 1 0 7.6 0a3.8 3.8 0 1 0 -7.6 0M236.7 268.5a3.8 3.8 0 1 0 7.6 0a3.8 3.8 0 1 0 -7.6 0M242.7 248.0a3.8 3.8 0 1 0 7.6 0a3.8 3.8 0 1 0 -7.6 0M228.9 260.5a3.8 3.8 0 1 0 7.6 0a3.8 3.8 0 1 0 -7.6 0M230.0 266.2a3.8 3.8 0 1 0 7.6 0a3.8 3.8 0 1 0 -7.6 0M209.7 282.9a3.8 3.8 0 1 0 7.6 0a3.8 3.8 0 1 0 -7.6 0M229.6 285.7a3.8 3.8 0 1 0 7.6 0a3.8 3.8 0 1 0 -7.6 0M228.2 276.8a3.8 3.8 0 1 0 7.6 0a3.8 3.8 0 1 0 -7.6 0M245.7 275.6a3.8 3.8 0 1 0 7.6 0a3.8 3.8 0 1 0 -7.6 0M228.2 261.1a3.8 3.8 0 1 0 7.6 0a3.8 3.8 0 1 0 -7.6 0M234.3 282.4a3.8 3.8 0 1 0 7.6 0a3.8 3.8 0 1 0 -7.6 0M248.5 256.7a3.8 3.8 0 1 0 7.6 0a3.8 3.8 0 1 0 -7.6 0M211.7 282.5a3.8 3.8 0 1 0 7.6 0a3.8 3.8 0 1 0 -7.6 0M229.1 266.5a3.8 3.8 0 1 0 7.6 0a3.8 3.8 0 1 0 -7.6 0M210.6 283.6a3.8 3.8 0 1 0 7.6 0a3.8 3.8 0 1 0 -7.6 0M243.0 266.5a3.8 3.8 0 1 0 7.6 0a3.8 3.8 0 1 0 -7.6 0M218.6 273.3a3.8 3.8 0 1 0 7.6 0a3.8 3.8 0 1 0 -7.6 0M251.4 257.4a3.8 3.8 0 1 0 7.6 0a3.8 3.8 0 1 0 -7.6 0M210.6 286.1a3.8 3.8 0 1 0 7.6 0a3.8 3.8 0 1 0 -7.6 0M190.0 287.4a3.8 3.8 0 1 0 7.6 0a3.8 3.8 0 1 0 -7.6 0M198.2 283.3a3.8 3.8 0 1 0 7.6 0a3.8 3.8 0 1 0 -7.6 0M201.5 280.0a3.8 3.8 0 1 0 7.6 0a3.8 3.8 0 1 0 -7.6 0M195.7 287.7a3.8 3.8 0 1 0 7.6 0a3.8 3.8 0 1 0 -7.6 0M207.5 287.7a3.8 3.8 0 1 0 7.6 0a3.8 3.8 0 1 0 -7.6 0M225.2 259.5a3.8 3.8 0 1 0 7.6 0a3.8 3.8 0 1 0 -7.6 0M210.5 265.3a3.8 3.8 0 1 0 7.6 0a3.8 3.8 0 1 0 -7.6 0M214.1 270.2a3.8 3.8 0 1 0 7.6 0a3.8 3.8 0 1 0 -7.6 0M203.1 284.1a3.8 3.8 0 1 0 7.6 0a3.8 3.8 0 1 0 -7.6 0M176.9 352.1a3.8 3.8 0 1 0 7.6 0a3.8 3.8 0 1 0 -7.6 0M179.4 352.9a3.8 3.8 0 1 0 7.6 0a3.8 3.8 0 1 0 -7.6 0M185.9 358.6a3.8 3.8 0 1 0 7.6 0a3.8 3.8 0 1 0 -7.6 0M187.6 346.4a3.8 3.8 0 1 0 7.6 0a3.8 3.8 0 1 0 -7.6 0M189.2 351.3a3.8 3.8 0 1 0 7.6 0a3.8 3.8 0 1 0 -7.6 0M192.5 348.0a3.8 3.8 0 1 0 7.6 0a3.8 3.8 0 1 0 -7.6 0M194.1 352.9a3.8 3.8 0 1 0 7.6 0a3.8 3.8 0 1 0 -7.6 0M197.4 349.6a3.8 3.8 0 1 0 7.6 0a3.8 3.8 0 1 0 -7.6 0M199.0 355.4a3.8 3.8 0 1 0 7.6 0a3.8 3.8 0 1 0 -7.6 0M200.7 348.0a3.8 3.8 0 1 0 7.6 0a3.8 3.8 0 1 0 -7.6 0M208.8 351.3a3.8 3.8 0 1 0 7.6 0a3.8 3.8 0 1 0 -7.6 0M214.6 343.9a3.8 3.8 0 1 0 7.6 0a3.8 3.8 0 1 0 -7.6 0M215.4 347.2a3.8 3.8 0 1 0 7.6 0a3.8 3.8 0 1 0 -7.6 0M222.8 345.5a3.8 3.8 0 1 0 7.6 0a3.8 3.8 0 1 0 -7.6 0M242.4 345.9a3.8 3.8 0 1 0 7.6 0a3.8 3.8 0 1 0 -7.6 0M182.7 353.7a3.8 3.8 0 1 0 7.6 0a3.8 3.8 0 1 0 -7.6 0M194.9 356.2a3.8 3.8 0 1 0 7.6 0a3.8 3.8 0 1 0 -7.6 0M221.3 403.4a3.8 3.8 0 1 0 7.6 0a3.8 3.8 0 1 0 -7.6 0M189.3 423.7a3.8 3.8 0 1 0 7.6 0a3.8 3.8 0 1 0 -7.6 0M221.4 408.3a3.8 3.8 0 1 0 7.6 0a3.8 3.8 0 1 0 -7.6 0M219.9 418.2a3.8 3.8 0 1 0 7.6 0a3.8 3.8 0 1 0 -7.6 0M217.3 415.6a3.8 3.8 0 1 0 7.6 0a3.8 3.8 0 1 0 -7.6 0M181.2 422.6a3.8 3.8 0 1 0 7.6 0a3.8 3.8 0 1 0 -7.6 0M221.5 415.0a3.8 3.8 0 1 0 7.6 0a3.8 3.8 0 1 0 -7.6 0M203.2 406.6a3.8 3.8 0 1 0 7.6 0a3.8 3.8 0 1 0 -7.6 0M187.6 420.8a3.8 3.8 0 1 0 7.6 0a3.8 3.8 0 1 0 -7.6 0M214.4 417.7a3.8 3.8 0 1 0 7.6 0a3.8 3.8 0 1 0 -7.6 0M172.9 424.7a3.8 3.8 0 1 0 7.6 0a3.8 3.8 0 1 0 -7.6 0M198.3 410.7a3.8 3.8 0 1 0 7.6 0a3.8 3.8 0 1 0 -7.6 0M219.1 407.9a3.8 3.8 0 1 0 7.6 0a3.8 3.8 0 1 0 -7.6 0M201.7 407.7a3.8 3.8 0 1 0 7.6 0a3.8 3.8 0 1 0 -7.6 0M199.6 411.4a3.8 3.8 0 1 0 7.6 0a3.8 3.8 0 1 0 -7.6 0M193.8 410.5a3.8 3.8 0 1 0 7.6 0a3.8 3.8 0 1 0 -7.6 0M221.0 413.5a3.8 3.8 0 1 0 7.6 0a3.8 3.8 0 1 0 -7.6 0M176.3 423.9a3.8 3.8 0 1 0 7.6 0a3.8 3.8 0 1 0 -7.6 0M199.8 409.1a3.8 3.8 0 1 0 7.6 0a3.8 3.8 0 1 0 -7.6 0M212.8 417.1a3.8 3.8 0 1 0 7.6 0a3.8 3.8 0 1 0 -7.6 0M192.7 422.0a3.8 3.8 0 1 0 7.6 0a3.8 3.8 0 1 0 -7.6 0M195.3 422.5a3.8 3.8 0 1 0 7.6 0a3.8 3.8 0 1 0 -7.6 0M198.6 415.4a3.8 3.8 0 1 0 7.6 0a3.8 3.8 0 1 0 -7.6 0M210.1 412.4a3.8 3.8 0 1 0 7.6 0a3.8 3.8 0 1 0 -7.6 0M204.9 409.2a3.8 3.8 0 1 0 7.6 0a3.8 3.8 0 1 0 -7.6 0M214.1 416.1a3.8 3.8 0 1 0 7.6 0a3.8 3.8 0 1 0 -7.6 0M204.4 408.8a3.8 3.8 0 1 0 7.6 0a3.8 3.8 0 1 0 -7.6 0M207.4 411.4a3.8 3.8 0 1 0 7.6 0a3.8 3.8 0 1 0 -7.6 0M173.4 425.8a3.8 3.8 0 1 0 7.6 0a3.8 3.8 0 1 0 -7.6 0M184.6 423.1a3.8 3.8 0 1 0 7.6 0a3.8 3.8 0 1 0 -7.6 0M189.2 419.5a3.8 3.8 0 1 0 7.6 0a3.8 3.8 0 1 0 -7.6 0M191.0 422.6a3.8 3.8 0 1 0 7.6 0a3.8 3.8 0 1 0 -7.6 0M191.2 419.9a3.8 3.8 0 1 0 7.6 0a3.8 3.8 0 1 0 -7.6 0M179.5 423.7a3.8 3.8 0 1 0 7.6 0a3.8 3.8 0 1 0 -7.6 0M215.5 405.9a3.8 3.8 0 1 0 7.6 0a3.8 3.8 0 1 0 -7.6 0M200.1 409.4a3.8 3.8 0 1 0 7.6 0a3.8 3.8 0 1 0 -7.6 0M215.1 413.4a3.8 3.8 0 1 0 7.6 0a3.8 3.8 0 1 0 -7.6 0M216.9 420.2a3.8 3.8 0 1 0 7.6 0a3.8 3.8 0 1 0 -7.6 0M205.5 404.9a3.8 3.8 0 1 0 7.6 0a3.8 3.8 0 1 0 -7.6 0M221.9 403.8a3.8 3.8 0 1 0 7.6 0a3.8 3.8 0 1 0 -7.6 0M216.4 415.8a3.8 3.8 0 1 0 7.6 0a3.8 3.8 0 1 0 -7.6 0M192.8 416.5a3.8 3.8 0 1 0 7.6 0a3.8 3.8 0 1 0 -7.6 0M205.3 408.3a3.8 3.8 0 1 0 7.6 0a3.8 3.8 0 1 0 -7.6 0M219.6 407.7a3.8 3.8 0 1 0 7.6 0a3.8 3.8 0 1 0 -7.6 0M194.5 408.6a3.8 3.8 0 1 0 7.6 0a3.8 3.8 0 1 0 -7.6 0M196.2 410.9a3.8 3.8 0 1 0 7.6 0a3.8 3.8 0 1 0 -7.6 0M213.7 407.9a3.8 3.8 0 1 0 7.6 0a3.8 3.8 0 1 0 -7.6 0M220.9 413.5a3.8 3.8 0 1 0 7.6 0a3.8 3.8 0 1 0 -7.6 0M214.1 402.7a3.8 3.8 0 1 0 7.6 0a3.8 3.8 0 1 0 -7.6 0M213.1 413.3a3.8 3.8 0 1 0 7.6 0a3.8 3.8 0 1 0 -7.6 0M241.4 404.5a3.8 3.8 0 1 0 7.6 0a3.8 3.8 0 1 0 -7.6 0M243.0 406.9a3.8 3.8 0 1 0 7.6 0a3.8 3.8 0 1 0 -7.6 0M248.8 419.2a3.8 3.8 0 1 0 7.6 0a3.8 3.8 0 1 0 -7.6 0M250.4 410.2a3.8 3.8 0 1 0 7.6 0a3.8 3.8 0 1 0 -7.6 0M231.6 408.6a3.8 3.8 0 1 0 7.6 0a3.8 3.8 0 1 0 -7.6 0M180.8 414.3a3.8 3.8 0 1 0 7.6 0a3.8 3.8 0 1 0 -7.6 0M171.0 424.1a3.8 3.8 0 1 0 7.6 0a3.8 3.8 0 1 0 -7.6 0M179.2 424.1a3.8 3.8 0 1 0 7.6 0a3.8 3.8 0 1 0 -7.6 0M327.0 75.1a3.8 3.8 0 1 0 7.6 0a3.8 3.8 0 1 0 -7.6 0M338.7 58.7a3.8 3.8 0 1 0 7.6 0a3.8 3.8 0 1 0 -7.6 0M338.1 52.0a3.8 3.8 0 1 0 7.6 0a3.8 3.8 0 1 0 -7.6 0M289.0 81.3a3.8 3.8 0 1 0 7.6 0a3.8 3.8 0 1 0 -7.6 0M333.1 73.2a3.8 3.8 0 1 0 7.6 0a3.8 3.8 0 1 0 -7.6 0M324.6 58.9a3.8 3.8 0 1 0 7.6 0a3.8 3.8 0 1 0 -7.6 0M330.7 67.2a3.8 3.8 0 1 0 7.6 0a3.8 3.8 0 1 0 -7.6 0M335.4 67.5a3.8 3.8 0 1 0 7.6 0a3.8 3.8 0 1 0 -7.6 0M350.2 51.6a3.8 3.8 0 1 0 7.6 0a3.8 3.8 0 1 0 -7.6 0M306.8 69.5a3.8 3.8 0 1 0 7.6 0a3.8 3.8 0 1 0 -7.6 0M304.3 63.4a3.8 3.8 0 1 0 7.6 0a3.8 3.8 0 1 0 -7.6 0M335.8 51.8a3.8 3.8 0 1 0 7.6 0a3.8 3.8 0 1 0 -7.6 0M318.2 66.9a3.8 3.8 0 1 0 7.6 0a3.8 3.8 0 1 0 -7.6 0M334.7 65.7a3.8 3.8 0 1 0 7.6 0a3.8 3.8 0 1 0 -7.6 0M300.7 68.6a3.8 3.8 0 1 0 7.6 0a3.8 3.8 0 1 0 -7.6 0M303.7 64.5a3.8 3.8 0 1 0 7.6 0a3.8 3.8 0 1 0 -7.6 0M298.2 78.3a3.8 3.8 0 1 0 7.6 0a3.8 3.8 0 1 0 -7.6 0M336.9 57.1a3.8 3.8 0 1 0 7.6 0a3.8 3.8 0 1 0 -7.6 0M311.1 64.4a3.8 3.8 0 1 0 7.6 0a3.8 3.8 0 1 0 -7.6 0M333.2 71.5a3.8 3.8 0 1 0 7.6 0a3.8 3.8 0 1 0 -7.6 0M296.5 81.2a3.8 3.8 0 1 0 7.6 0a3.8 3.8 0 1 0 -7.6 0M309.3 83.1a3.8 3.8 0 1 0 7.6 0a3.8 3.8 0 1 0 -7.6 0M349.9 52.0a3.8 3.8 0 1 0 7.6 0a3.8 3.8 0 1 0 -7.6 0M314.6 80.6a3.8 3.8 0 1 0 7.6 0a3.8 3.8 0 1 0 -7.6 0M323.4 82.0a3.8 3.8 0 1 0 7.6 0a3.8 3.8 0 1 0 -7.6 0M314.9 80.9a3.8 3.8 0 1 0 7.6 0a3.8 3.8 0 1 0 -7.6 0M338.2 50.5a3.8 3.8 0 1 0 7.6 0a3.8 3.8 0 1 0 -7.6 0M343.8 49.4a3.8 3.8 0 1 0 7.6 0a3.8 3.8 0 1 0 -7.6 0M289.5 84.9a3.8 3.8 0 1 0 7.6 0a3.8 3.8 0 1 0 -7.6 0M320.1 75.5a3.8 3.8 0 1 0 7.6 0a3.8 3.8 0 1 0 -7.6 0M322.4 67.1a3.8 3.8 0 1 0 7.6 0a3.8 3.8 0 1 0 -7.6 0M345.7 52.9a3.8 3.8 0 1 0 7.6 0a3.8 3.8 0 1 0 -7.6 0M320.2 78.0a3.8 3.8 0 1 0 7.6 0a3.8 3.8 0 1 0 -7.6 0M307.1 67.1a3.8 3.8 0 1 0 7.6 0a3.8 3.8 0 1 0 -7.6 0M323.4 69.8a3.8 3.8 0 1 0 7.6 0a3.8 3.8 0 1 0 -7.6 0M287.0 79.3a3.8 3.8 0 1 0 7.6 0a3.8 3.8 0 1 0 -7.6 0M320.0 63.8a3.8 3.8 0 1 0 7.6 0a3.8 3.8 0 1 0 -7.6 0M292.7 73.2a3.8 3.8 0 1 0 7.6 0a3.8 3.8 0 1 0 -7.6 0M306.8 77.0a3.8 3.8 0 1 0 7.6 0a3.8 3.8 0 1 0 -7.6 0M336.9 52.2a3.8 3.8 0 1 0 7.6 0a3.8 3.8 0 1 0 -7.6 0M339.3 48.7a3.8 3.8 0 1 0 7.6 0a3.8 3.8 0 1 0 -7.6 0M345.7 48.8a3.8 3.8 0 1 0 7.6 0a3.8 3.8 0 1 0 -7.6 0M303.6 79.1a3.8 3.8 0 1 0 7.6 0a3.8 3.8 0 1 0 -7.6 0M312.6 71.5a3.8 3.8 0 1 0 7.6 0a3.8 3.8 0 1 0 -7.6 0M319.4 81.4a3.8 3.8 0 1 0 7.6 0a3.8 3.8 0 1 0 -7.6 0M292.0 78.4a3.8 3.8 0 1 0 7.6 0a3.8 3.8 0 1 0 -7.6 0M319.7 58.9a3.8 3.8 0 1 0 7.6 0a3.8 3.8 0 1 0 -7.6 0M291.1 77.6a3.8 3.8 0 1 0 7.6 0a3.8 3.8 0 1 0 -7.6 0M316.7 76.5a3.8 3.8 0 1 0 7.6 0a3.8 3.8 0 1 0 -7.6 0M295.7 71.1a3.8 3.8 0 1 0 7.6 0a3.8 3.8 0 1 0 -7.6 0M316.2 72.6a3.8 3.8 0 1 0 7.6 0a3.8 3.8 0 1 0 -7.6 0M308.6 70.0a3.8 3.8 0 1 0 7.6 0a3.8 3.8 0 1 0 -7.6 0M309.9 72.4a3.8 3.8 0 1 0 7.6 0a3.8 3.8 0 1 0 -7.6 0M329.5 78.7a3.8 3.8 0 1 0 7.6 0a3.8 3.8 0 1 0 -7.6 0M309.7 77.1a3.8 3.8 0 1 0 7.6 0a3.8 3.8 0 1 0 -7.6 0M290.0 84.3a3.8 3.8 0 1 0 7.6 0a3.8 3.8 0 1 0 -7.6 0M316.7 62.5a3.8 3.8 0 1 0 7.6 0a3.8 3.8 0 1 0 -7.6 0M300.7 75.7a3.8 3.8 0 1 0 7.6 0a3.8 3.8 0 1 0 -7.6 0M338.1 65.4a3.8 3.8 0 1 0 7.6 0a3.8 3.8 0 1 0 -7.6 0M316.8 74.8a3.8 3.8 0 1 0 7.6 0a3.8 3.8 0 1 0 -7.6 0M321.3 58.3a3.8 3.8 0 1 0 7.6 0a3.8 3.8 0 1 0 -7.6 0M300.0 76.3a3.8 3.8 0 1 0 7.6 0a3.8 3.8 0 1 0 -7.6 0M323.5 73.5a3.8 3.8 0 1 0 7.6 0a3.8 3.8 0 1 0 -7.6 0M311.9 78.6a3.8 3.8 0 1 0 7.6 0a3.8 3.8 0 1 0 -7.6 0M287.6 76.0a3.8 3.8 0 1 0 7.6 0a3.8 3.8 0 1 0 -7.6 0M296.3 80.7a3.8 3.8 0 1 0 7.6 0a3.8 3.8 0 1 0 -7.6 0M317.2 83.7a3.8 3.8 0 1 0 7.6 0a3.8 3.8 0 1 0 -7.6 0M313.0 65.7a3.8 3.8 0 1 0 7.6 0a3.8 3.8 0 1 0 -7.6 0M344.7 51.0a3.8 3.8 0 1 0 7.6 0a3.8 3.8 0 1 0 -7.6 0M331.7 55.9a3.8 3.8 0 1 0 7.6 0a3.8 3.8 0 1 0 -7.6 0M311.6 65.6a3.8 3.8 0 1 0 7.6 0a3.8 3.8 0 1 0 -7.6 0M319.2 71.7a3.8 3.8 0 1 0 7.6 0a3.8 3.8 0 1 0 -7.6 0M308.2 62.1a3.8 3.8 0 1 0 7.6 0a3.8 3.8 0 1 0 -7.6 0M345.7 53.7a3.8 3.8 0 1 0 7.6 0a3.8 3.8 0 1 0 -7.6 0M304.3 75.5a3.8 3.8 0 1 0 7.6 0a3.8 3.8 0 1 0 -7.6 0M312.9 66.1a3.8 3.8 0 1 0 7.6 0a3.8 3.8 0 1 0 -7.6 0M340.8 45.4a3.8 3.8 0 1 0 7.6 0a3.8 3.8 0 1 0 -7.6 0M286.0 78.1a3.8 3.8 0 1 0 7.6 0a3.8 3.8 0 1 0 -7.6 0M335.9 65.6a3.8 3.8 0 1 0 7.6 0a3.8 3.8 0 1 0 -7.6 0M323.0 66.0a3.8 3.8 0 1 0 7.6 0a3.8 3.8 0 1 0 -7.6 0M337.6 68.2a3.8 3.8 0 1 0 7.6 0a3.8 3.8 0 1 0 -7.6 0M329.3 62.8a3.8 3.8 0 1 0 7.6 0a3.8 3.8 0 1 0 -7.6 0M328.9 70.9a3.8 3.8 0 1 0 7.6 0a3.8 3.8 0 1 0 -7.6 0M327.9 64.2a3.8 3.8 0 1 0 7.6 0a3.8 3.8 0 1 0 -7.6 0M311.7 70.5a3.8 3.8 0 1 0 7.6 0a3.8 3.8 0 1 0 -7.6 0M332.5 67.7a3.8 3.8 0 1 0 7.6 0a3.8 3.8 0 1 0 -7.6 0M336.9 55.5a3.8 3.8 0 1 0 7.6 0a3.8 3.8 0 1 0 -7.6 0M335.8 70.6a3.8 3.8 0 1 0 7.6 0a3.8 3.8 0 1 0 -7.6 0M345.1 54.7a3.8 3.8 0 1 0 7.6 0a3.8 3.8 0 1 0 -7.6 0M294.4 88.0a3.8 3.8 0 1 0 7.6 0a3.8 3.8 0 1 0 -7.6 0M334.8 54.8a3.8 3.8 0 1 0 7.6 0a3.8 3.8 0 1 0 -7.6 0M318.3 63.7a3.8 3.8 0 1 0 7.6 0a3.8 3.8 0 1 0 -7.6 0M330.7 61.5a3.8 3.8 0 1 0 7.6 0a3.8 3.8 0 1 0 -7.6 0M329.1 75.9a3.8 3.8 0 1 0 7.6 0a3.8 3.8 0 1 0 -7.6 0M302.9 77.6a3.8 3.8 0 1 0 7.6 0a3.8 3.8 0 1 0 -7.6 0M328.5 58.2a3.8 3.8 0 1 0 7.6 0a3.8 3.8 0 1 0 -7.6 0M332.6 58.7a3.8 3.8 0 1 0 7.6 0a3.8 3.8 0 1 0 -7.6 0M337.3 49.9a3.8 3.8 0 1 0 7.6 0a3.8 3.8 0 1 0 -7.6 0M336.8 69.1a3.8 3.8 0 1 0 7.6 0a3.8 3.8 0 1 0 -7.6 0M323.7 78.1a3.8 3.8 0 1 0 7.6 0a3.8 3.8 0 1 0 -7.6 0M325.4 72.8a3.8 3.8 0 1 0 7.6 0a3.8 3.8 0 1 0 -7.6 0M290.7 83.7a3.8 3.8 0 1 0 7.6 0a3.8 3.8 0 1 0 -7.6 0M302.7 85.9a3.8 3.8 0 1 0 7.6 0a3.8 3.8 0 1 0 -7.6 0M337.1 60.9a3.8 3.8 0 1 0 7.6 0a3.8 3.8 0 1 0 -7.6 0M308.1 61.9a3.8 3.8 0 1 0 7.6 0a3.8 3.8 0 1 0 -7.6 0M331.2 80.8a3.8 3.8 0 1 0 7.6 0a3.8 3.8 0 1 0 -7.6 0M299.8 82.1a3.8 3.8 0 1 0 7.6 0a3.8 3.8 0 1 0 -7.6 0M321.8 65.8a3.8 3.8 0 1 0 7.6 0a3.8 3.8 0 1 0 -7.6 0M332.3 77.2a3.8 3.8 0 1 0 7.6 0a3.8 3.8 0 1 0 -7.6 0M307.6 73.9a3.8 3.8 0 1 0 7.6 0a3.8 3.8 0 1 0 -7.6 0M338.9 67.5a3.8 3.8 0 1 0 7.6 0a3.8 3.8 0 1 0 -7.6 0M299.7 83.5a3.8 3.8 0 1 0 7.6 0a3.8 3.8 0 1 0 -7.6 0M304.4 86.4a3.8 3.8 0 1 0 7.6 0a3.8 3.8 0 1 0 -7.6 0M326.4 80.1a3.8 3.8 0 1 0 7.6 0a3.8 3.8 0 1 0 -7.6 0M312.8 78.5a3.8 3.8 0 1 0 7.6 0a3.8 3.8 0 1 0 -7.6 0M292.5 77.8a3.8 3.8 0 1 0 7.6 0a3.8 3.8 0 1 0 -7.6 0M292.4 75.7a3.8 3.8 0 1 0 7.6 0a3.8 3.8 0 1 0 -7.6 0M335.8 71.6a3.8 3.8 0 1 0 7.6 0a3.8 3.8 0 1 0 -7.6 0M300.9 86.0a3.8 3.8 0 1 0 7.6 0a3.8 3.8 0 1 0 -7.6 0M314.4 82.2a3.8 3.8 0 1 0 7.6 0a3.8 3.8 0 1 0 -7.6 0M304.3 80.7a3.8 3.8 0 1 0 7.6 0a3.8 3.8 0 1 0 -7.6 0M312.9 71.1a3.8 3.8 0 1 0 7.6 0a3.8 3.8 0 1 0 -7.6 0M313.5 83.8a3.8 3.8 0 1 0 7.6 0a3.8 3.8 0 1 0 -7.6 0M292.1 79.7a3.8 3.8 0 1 0 7.6 0a3.8 3.8 0 1 0 -7.6 0M317.1 71.4a3.8 3.8 0 1 0 7.6 0a3.8 3.8 0 1 0 -7.6 0M327.3 68.5a3.8 3.8 0 1 0 7.6 0a3.8 3.8 0 1 0 -7.6 0M290.5 77.2a3.8 3.8 0 1 0 7.6 0a3.8 3.8 0 1 0 -7.6 0M313.4 85.2a3.8 3.8 0 1 0 7.6 0a3.8 3.8 0 1 0 -7.6 0M286.5 86.5a3.8 3.8 0 1 0 7.6 0a3.8 3.8 0 1 0 -7.6 0M331.0 76.1a3.8 3.8 0 1 0 7.6 0a3.8 3.8 0 1 0 -7.6 0M306.6 80.5a3.8 3.8 0 1 0 7.6 0a3.8 3.8 0 1 0 -7.6 0M315.4 78.9a3.8 3.8 0 1 0 7.6 0a3.8 3.8 0 1 0 -7.6 0M310.7 72.4a3.8 3.8 0 1 0 7.6 0a3.8 3.8 0 1 0 -7.6 0M303.4 72.0a3.8 3.8 0 1 0 7.6 0a3.8 3.8 0 1 0 -7.6 0M328.0 69.3a3.8 3.8 0 1 0 7.6 0a3.8 3.8 0 1 0 -7.6 0M312.1 76.5a3.8 3.8 0 1 0 7.6 0a3.8 3.8 0 1 0 -7.6 0M322.6 79.4a3.8 3.8 0 1 0 7.6 0a3.8 3.8 0 1 0 -7.6 0M307.2 83.4a3.8 3.8 0 1 0 7.6 0a3.8 3.8 0 1 0 -7.6 0M316.8 78.8a3.8 3.8 0 1 0 7.6 0a3.8 3.8 0 1 0 -7.6 0M295.5 74.2a3.8 3.8 0 1 0 7.6 0a3.8 3.8 0 1 0 -7.6 0M297.2 77.8a3.8 3.8 0 1 0 7.6 0a3.8 3.8 0 1 0 -7.6 0M302.7 71.3a3.8 3.8 0 1 0 7.6 0a3.8 3.8 0 1 0 -7.6 0M315.4 81.7a3.8 3.8 0 1 0 7.6 0a3.8 3.8 0 1 0 -7.6 0M305.9 76.8a3.8 3.8 0 1 0 7.6 0a3.8 3.8 0 1 0 -7.6 0M300.5 82.8a3.8 3.8 0 1 0 7.6 0a3.8 3.8 0 1 0 -7.6 0M288.5 78.9a3.8 3.8 0 1 0 7.6 0a3.8 3.8 0 1 0 -7.6 0M291.2 84.3a3.8 3.8 0 1 0 7.6 0a3.8 3.8 0 1 0 -7.6 0M308.4 83.2a3.8 3.8 0 1 0 7.6 0a3.8 3.8 0 1 0 -7.6 0M285.7 84.5a3.8 3.8 0 1 0 7.6 0a3.8 3.8 0 1 0 -7.6 0M314.0 77.1a3.8 3.8 0 1 0 7.6 0a3.8 3.8 0 1 0 -7.6 0M285.4 87.4a3.8 3.8 0 1 0 7.6 0a3.8 3.8 0 1 0 -7.6 0M290.3 83.6a3.8 3.8 0 1 0 7.6 0a3.8 3.8 0 1 0 -7.6 0M314.8 72.5a3.8 3.8 0 1 0 7.6 0a3.8 3.8 0 1 0 -7.6 0M311.4 77.9a3.8 3.8 0 1 0 7.6 0a3.8 3.8 0 1 0 -7.6 0M309.6 69.5a3.8 3.8 0 1 0 7.6 0a3.8 3.8 0 1 0 -7.6 0M310.6 78.6a3.8 3.8 0 1 0 7.6 0a3.8 3.8 0 1 0 -7.6 0M324.5 75.1a3.8 3.8 0 1 0 7.6 0a3.8 3.8 0 1 0 -7.6 0M329.1 70.4a3.8 3.8 0 1 0 7.6 0a3.8 3.8 0 1 0 -7.6 0M300.3 85.7a3.8 3.8 0 1 0 7.6 0a3.8 3.8 0 1 0 -7.6 0M301.5 71.5a3.8 3.8 0 1 0 7.6 0a3.8 3.8 0 1 0 -7.6 0M300.2 83.8a3.8 3.8 0 1 0 7.6 0a3.8 3.8 0 1 0 -7.6 0M318.2 83.4a3.8 3.8 0 1 0 7.6 0a3.8 3.8 0 1 0 -7.6 0M313.9 84.1a3.8 3.8 0 1 0 7.6 0a3.8 3.8 0 1 0 -7.6 0M332.2 69.4a3.8 3.8 0 1 0 7.6 0a3.8 3.8 0 1 0 -7.6 0M311.3 80.2a3.8 3.8 0 1 0 7.6 0a3.8 3.8 0 1 0 -7.6 0M321.0 84.4a3.8 3.8 0 1 0 7.6 0a3.8 3.8 0 1 0 -7.6 0M310.4 72.6a3.8 3.8 0 1 0 7.6 0a3.8 3.8 0 1 0 -7.6 0M312.3 81.6a3.8 3.8 0 1 0 7.6 0a3.8 3.8 0 1 0 -7.6 0M300.7 86.5a3.8 3.8 0 1 0 7.6 0a3.8 3.8 0 1 0 -7.6 0M328.1 75.6a3.8 3.8 0 1 0 7.6 0a3.8 3.8 0 1 0 -7.6 0M316.2 83.8a3.8 3.8 0 1 0 7.6 0a3.8 3.8 0 1 0 -7.6 0M335.1 75.3a3.8 3.8 0 1 0 7.6 0a3.8 3.8 0 1 0 -7.6 0M313.4 77.7a3.8 3.8 0 1 0 7.6 0a3.8 3.8 0 1 0 -7.6 0M314.9 75.2a3.8 3.8 0 1 0 7.6 0a3.8 3.8 0 1 0 -7.6 0M308.9 76.9a3.8 3.8 0 1 0 7.6 0a3.8 3.8 0 1 0 -7.6 0M306.2 80.6a3.8 3.8 0 1 0 7.6 0a3.8 3.8 0 1 0 -7.6 0M301.2 75.1a3.8 3.8 0 1 0 7.6 0a3.8 3.8 0 1 0 -7.6 0M305.4 83.3a3.8 3.8 0 1 0 7.6 0a3.8 3.8 0 1 0 -7.6 0M308.9 83.2a3.8 3.8 0 1 0 7.6 0a3.8 3.8 0 1 0 -7.6 0M302.4 74.8a3.8 3.8 0 1 0 7.6 0a3.8 3.8 0 1 0 -7.6 0M296.2 82.4a3.8 3.8 0 1 0 7.6 0a3.8 3.8 0 1 0 -7.6 0M326.3 81.0a3.8 3.8 0 1 0 7.6 0a3.8 3.8 0 1 0 -7.6 0M312.5 84.1a3.8 3.8 0 1 0 7.6 0a3.8 3.8 0 1 0 -7.6 0M297.3 80.5a3.8 3.8 0 1 0 7.6 0a3.8 3.8 0 1 0 -7.6 0M306.3 85.5a3.8 3.8 0 1 0 7.6 0a3.8 3.8 0 1 0 -7.6 0M302.7 85.0a3.8 3.8 0 1 0 7.6 0a3.8 3.8 0 1 0 -7.6 0M306.6 75.9a3.8 3.8 0 1 0 7.6 0a3.8 3.8 0 1 0 -7.6 0M308.6 82.7a3.8 3.8 0 1 0 7.6 0a3.8 3.8 0 1 0 -7.6 0M320.9 71.1a3.8 3.8 0 1 0 7.6 0a3.8 3.8 0 1 0 -7.6 0M307.9 86.7a3.8 3.8 0 1 0 7.6 0a3.8 3.8 0 1 0 -7.6 0M293.4 78.0a3.8 3.8 0 1 0 7.6 0a3.8 3.8 0 1 0 -7.6 0M324.0 69.6a3.8 3.8 0 1 0 7.6 0a3.8 3.8 0 1 0 -7.6 0M327.4 77.1a3.8 3.8 0 1 0 7.6 0a3.8 3.8 0 1 0 -7.6 0M335.7 71.6a3.8 3.8 0 1 0 7.6 0a3.8 3.8 0 1 0 -7.6 0M334.3 76.2a3.8 3.8 0 1 0 7.6 0a3.8 3.8 0 1 0 -7.6 0M291.4 80.8a3.8 3.8 0 1 0 7.6 0a3.8 3.8 0 1 0 -7.6 0M296.5 74.9a3.8 3.8 0 1 0 7.6 0a3.8 3.8 0 1 0 -7.6 0M317.0 74.0a3.8 3.8 0 1 0 7.6 0a3.8 3.8 0 1 0 -7.6 0M286.8 85.4a3.8 3.8 0 1 0 7.6 0a3.8 3.8 0 1 0 -7.6 0M295.6 85.6a3.8 3.8 0 1 0 7.6 0a3.8 3.8 0 1 0 -7.6 0M303.3 85.6a3.8 3.8 0 1 0 7.6 0a3.8 3.8 0 1 0 -7.6 0M304.9 82.4a3.8 3.8 0 1 0 7.6 0a3.8 3.8 0 1 0 -7.6 0M331.6 73.8a3.8 3.8 0 1 0 7.6 0a3.8 3.8 0 1 0 -7.6 0M289.7 85.1a3.8 3.8 0 1 0 7.6 0a3.8 3.8 0 1 0 -7.6 0M296.7 75.3a3.8 3.8 0 1 0 7.6 0a3.8 3.8 0 1 0 -7.6 0M320.6 71.4a3.8 3.8 0 1 0 7.6 0a3.8 3.8 0 1 0 -7.6 0M316.4 84.9a3.8 3.8 0 1 0 7.6 0a3.8 3.8 0 1 0 -7.6 0M332.8 76.3a3.8 3.8 0 1 0 7.6 0a3.8 3.8 0 1 0 -7.6 0M308.0 85.4a3.8 3.8 0 1 0 7.6 0a3.8 3.8 0 1 0 -7.6 0M301.2 75.7a3.8 3.8 0 1 0 7.6 0a3.8 3.8 0 1 0 -7.6 0M325.2 73.3a3.8 3.8 0 1 0 7.6 0a3.8 3.8 0 1 0 -7.6 0M291.9 86.7a3.8 3.8 0 1 0 7.6 0a3.8 3.8 0 1 0 -7.6 0M305.0 84.0a3.8 3.8 0 1 0 7.6 0a3.8 3.8 0 1 0 -7.6 0M291.3 77.4a3.8 3.8 0 1 0 7.6 0a3.8 3.8 0 1 0 -7.6 0M296.0 74.3a3.8 3.8 0 1 0 7.6 0a3.8 3.8 0 1 0 -7.6 0M291.7 79.5a3.8 3.8 0 1 0 7.6 0a3.8 3.8 0 1 0 -7.6 0M326.9 74.0a3.8 3.8 0 1 0 7.6 0a3.8 3.8 0 1 0 -7.6 0M314.8 76.1a3.8 3.8 0 1 0 7.6 0a3.8 3.8 0 1 0 -7.6 0M336.7 73.1a3.8 3.8 0 1 0 7.6 0a3.8 3.8 0 1 0 -7.6 0M321.8 76.9a3.8 3.8 0 1 0 7.6 0a3.8 3.8 0 1 0 -7.6 0M303.5 83.3a3.8 3.8 0 1 0 7.6 0a3.8 3.8 0 1 0 -7.6 0M307.8 69.7a3.8 3.8 0 1 0 7.6 0a3.8 3.8 0 1 0 -7.6 0M312.8 77.5a3.8 3.8 0 1 0 7.6 0a3.8 3.8 0 1 0 -7.6 0M320.3 71.2a3.8 3.8 0 1 0 7.6 0a3.8 3.8 0 1 0 -7.6 0M302.5 74.6a3.8 3.8 0 1 0 7.6 0a3.8 3.8 0 1 0 -7.6 0M335.0 75.7a3.8 3.8 0 1 0 7.6 0a3.8 3.8 0 1 0 -7.6 0M321.1 82.6a3.8 3.8 0 1 0 7.6 0a3.8 3.8 0 1 0 -7.6 0M306.4 82.0a3.8 3.8 0 1 0 7.6 0a3.8 3.8 0 1 0 -7.6 0M331.3 77.3a3.8 3.8 0 1 0 7.6 0a3.8 3.8 0 1 0 -7.6 0M297.1 76.3a3.8 3.8 0 1 0 7.6 0a3.8 3.8 0 1 0 -7.6 0M317.5 73.4a3.8 3.8 0 1 0 7.6 0a3.8 3.8 0 1 0 -7.6 0M309.5 77.9a3.8 3.8 0 1 0 7.6 0a3.8 3.8 0 1 0 -7.6 0M319.6 79.5a3.8 3.8 0 1 0 7.6 0a3.8 3.8 0 1 0 -7.6 0M330.8 70.1a3.8 3.8 0 1 0 7.6 0a3.8 3.8 0 1 0 -7.6 0M301.5 74.2a3.8 3.8 0 1 0 7.6 0a3.8 3.8 0 1 0 -7.6 0M318.1 75.3a3.8 3.8 0 1 0 7.6 0a3.8 3.8 0 1 0 -7.6 0M324.0 73.9a3.8 3.8 0 1 0 7.6 0a3.8 3.8 0 1 0 -7.6 0M315.6 80.6a3.8 3.8 0 1 0 7.6 0a3.8 3.8 0 1 0 -7.6 0M320.7 80.1a3.8 3.8 0 1 0 7.6 0a3.8 3.8 0 1 0 -7.6 0M318.4 73.8a3.8 3.8 0 1 0 7.6 0a3.8 3.8 0 1 0 -7.6 0M301.0 72.8a3.8 3.8 0 1 0 7.6 0a3.8 3.8 0 1 0 -7.6 0M294.4 84.8a3.8 3.8 0 1 0 7.6 0a3.8 3.8 0 1 0 -7.6 0M300.0 76.7a3.8 3.8 0 1 0 7.6 0a3.8 3.8 0 1 0 -7.6 0M300.2 75.4a3.8 3.8 0 1 0 7.6 0a3.8 3.8 0 1 0 -7.6 0M330.6 72.5a3.8 3.8 0 1 0 7.6 0a3.8 3.8 0 1 0 -7.6 0M318.2 79.6a3.8 3.8 0 1 0 7.6 0a3.8 3.8 0 1 0 -7.6 0M292.2 75.9a3.8 3.8 0 1 0 7.6 0a3.8 3.8 0 1 0 -7.6 0M313.4 78.1a3.8 3.8 0 1 0 7.6 0a3.8 3.8 0 1 0 -7.6 0M304.5 78.7a3.8 3.8 0 1 0 7.6 0a3.8 3.8 0 1 0 -7.6 0M323.3 80.6a3.8 3.8 0 1 0 7.6 0a3.8 3.8 0 1 0 -7.6 0M319.9 68.8a3.8 3.8 0 1 0 7.6 0a3.8 3.8 0 1 0 -7.6 0M311.0 85.8a3.8 3.8 0 1 0 7.6 0a3.8 3.8 0 1 0 -7.6 0M329.2 78.6a3.8 3.8 0 1 0 7.6 0a3.8 3.8 0 1 0 -7.6 0M315.6 71.7a3.8 3.8 0 1 0 7.6 0a3.8 3.8 0 1 0 -7.6 0M307.0 83.0a3.8 3.8 0 1 0 7.6 0a3.8 3.8 0 1 0 -7.6 0M291.9 76.7a3.8 3.8 0 1 0 7.6 0a3.8 3.8 0 1 0 -7.6 0M287.1 82.0a3.8 3.8 0 1 0 7.6 0a3.8 3.8 0 1 0 -7.6 0M303.3 82.3a3.8 3.8 0 1 0 7.6 0a3.8 3.8 0 1 0 -7.6 0M296.4 76.3a3.8 3.8 0 1 0 7.6 0a3.8 3.8 0 1 0 -7.6 0M324.0 76.6a3.8 3.8 0 1 0 7.6 0a3.8 3.8 0 1 0 -7.6 0M325.2 81.8a3.8 3.8 0 1 0 7.6 0a3.8 3.8 0 1 0 -7.6 0M335.8 74.5a3.8 3.8 0 1 0 7.6 0a3.8 3.8 0 1 0 -7.6 0M322.1 79.6a3.8 3.8 0 1 0 7.6 0a3.8 3.8 0 1 0 -7.6 0M304.6 82.7a3.8 3.8 0 1 0 7.6 0a3.8 3.8 0 1 0 -7.6 0M315.3 74.4a3.8 3.8 0 1 0 7.6 0a3.8 3.8 0 1 0 -7.6 0M288.7 155.6a3.8 3.8 0 1 0 7.6 0a3.8 3.8 0 1 0 -7.6 0M289.6 157.2a3.8 3.8 0 1 0 7.6 0a3.8 3.8 0 1 0 -7.6 0M300.2 145.3a3.8 3.8 0 1 0 7.6 0a3.8 3.8 0 1 0 -7.6 0M303.5 140.4a3.8 3.8 0 1 0 7.6 0a3.8 3.8 0 1 0 -7.6 0M305.9 137.9a3.8 3.8 0 1 0 7.6 0a3.8 3.8 0 1 0 -7.6 0M310.0 136.3a3.8 3.8 0 1 0 7.6 0a3.8 3.8 0 1 0 -7.6 0M312.5 142.0a3.8 3.8 0 1 0 7.6 0a3.8 3.8 0 1 0 -7.6 0M314.9 137.9a3.8 3.8 0 1 0 7.6 0a3.8 3.8 0 1 0 -7.6 0M317.4 146.9a3.8 3.8 0 1 0 7.6 0a3.8 3.8 0 1 0 -7.6 0M319.8 136.3a3.8 3.8 0 1 0 7.6 0a3.8 3.8 0 1 0 -7.6 0M320.7 142.0a3.8 3.8 0 1 0 7.6 0a3.8 3.8 0 1 0 -7.6 0M323.9 139.5a3.8 3.8 0 1 0 7.6 0a3.8 3.8 0 1 0 -7.6 0M327.2 137.1a3.8 3.8 0 1 0 7.6 0a3.8 3.8 0 1 0 -7.6 0M329.7 141.2a3.8 3.8 0 1 0 7.6 0a3.8 3.8 0 1 0 -7.6 0M332.9 137.9a3.8 3.8 0 1 0 7.6 0a3.8 3.8 0 1 0 -7.6 0M334.6 135.5a3.8 3.8 0 1 0 7.6 0a3.8 3.8 0 1 0 -7.6 0M335.4 142.0a3.8 3.8 0 1 0 7.6 0a3.8 3.8 0 1 0 -7.6 0M308.4 141.2a3.8 3.8 0 1 0 7.6 0a3.8 3.8 0 1 0 -7.6 0M316.6 142.8a3.8 3.8 0 1 0 7.6 0a3.8 3.8 0 1 0 -7.6 0M325.6 143.6a3.8 3.8 0 1 0 7.6 0a3.8 3.8 0 1 0 -7.6 0M310.8 137.9a3.8 3.8 0 1 0 7.6 0a3.8 3.8 0 1 0 -7.6 0M306.1 207.6a3.8 3.8 0 1 0 7.6 0a3.8 3.8 0 1 0 -7.6 0M296.4 211.4a3.8 3.8 0 1 0 7.6 0a3.8 3.8 0 1 0 -7.6 0M301.1 221.9a3.8 3.8 0 1 0 7.6 0a3.8 3.8 0 1 0 -7.6 0M297.9 213.6a3.8 3.8 0 1 0 7.6 0a3.8 3.8 0 1 0 -7.6 0M312.9 209.9a3.8 3.8 0 1 0 7.6 0a3.8 3.8 0 1 0 -7.6 0M301.8 209.0a3.8 3.8 0 1 0 7.6 0a3.8 3.8 0 1 0 -7.6 0M306.6 204.2a3.8 3.8 0 1 0 7.6 0a3.8 3.8 0 1 0 -7.6 0M296.8 211.4a3.8 3.8 0 1 0 7.6 0a3.8 3.8 0 1 0 -7.6 0M301.0 217.6a3.8 3.8 0 1 0 7.6 0a3.8 3.8 0 1 0 -7.6 0M313.7 217.0a3.8 3.8 0 1 0 7.6 0a3.8 3.8 0 1 0 -7.6 0M309.7 208.8a3.8 3.8 0 1 0 7.6 0a3.8 3.8 0 1 0 -7.6 0M314.6 202.0a3.8 3.8 0 1 0 7.6 0a3.8 3.8 0 1 0 -7.6 0M301.1 214.7a3.8 3.8 0 1 0 7.6 0a3.8 3.8 0 1 0 -7.6 0M297.6 219.7a3.8 3.8 0 1 0 7.6 0a3.8 3.8 0 1 0 -7.6 0M321.7 204.4a3.8 3.8 0 1 0 7.6 0a3.8 3.8 0 1 0 -7.6 0M314.0 206.8a3.8 3.8 0 1 0 7.6 0a3.8 3.8 0 1 0 -7.6 0M309.1 219.8a3.8 3.8 0 1 0 7.6 0a3.8 3.8 0 1 0 -7.6 0M292.1 210.0a3.8 3.8 0 1 0 7.6 0a3.8 3.8 0 1 0 -7.6 0M286.9 217.6a3.8 3.8 0 1 0 7.6 0a3.8 3.8 0 1 0 -7.6 0M293.2 214.2a3.8 3.8 0 1 0 7.6 0a3.8 3.8 0 1 0 -7.6 0M308.8 217.8a3.8 3.8 0 1 0 7.6 0a3.8 3.8 0 1 0 -7.6 0M297.4 215.3a3.8 3.8 0 1 0 7.6 0a3.8 3.8 0 1 0 -7.6 0M296.6 219.9a3.8 3.8 0 1 0 7.6 0a3.8 3.8 0 1 0 -7.6 0M310.8 209.6a3.8 3.8 0 1 0 7.6 0a3.8 3.8 0 1 0 -7.6 0M304.3 220.1a3.8 3.8 0 1 0 7.6 0a3.8 3.8 0 1 0 -7.6 0M298.5 210.5a3.8 3.8 0 1 0 7.6 0a3.8 3.8 0 1 0 -7.6 0M294.4 220.7a3.8 3.8 0 1 0 7.6 0a3.8 3.8 0 1 0 -7.6 0M309.8 214.6a3.8 3.8 0 1 0 7.6 0a3.8 3.8 0 1 0 -7.6 0M287.6 212.2a3.8 3.8 0 1 0 7.6 0a3.8 3.8 0 1 0 -7.6 0M302.9 206.8a3.8 3.8 0 1 0 7.6 0a3.8 3.8 0 1 0 -7.6 0M290.0 215.7a3.8 3.8 0 1 0 7.6 0a3.8 3.8 0 1 0 -7.6 0M312.4 202.2a3.8 3.8 0 1 0 7.6 0a3.8 3.8 0 1 0 -7.6 0M299.4 218.4a3.8 3.8 0 1 0 7.6 0a3.8 3.8 0 1 0 -7.6 0M293.9 214.3a3.8 3.8 0 1 0 7.6 0a3.8 3.8 0 1 0 -7.6 0M298.2 208.7a3.8 3.8 0 1 0 7.6 0a3.8 3.8 0 1 0 -7.6 0M310.2 216.5a3.8 3.8 0 1 0 7.6 0a3.8 3.8 0 1 0 -7.6 0M295.2 222.2a3.8 3.8 0 1 0 7.6 0a3.8 3.8 0 1 0 -7.6 0M314.0 204.8a3.8 3.8 0 1 0 7.6 0a3.8 3.8 0 1 0 -7.6 0M295.9 220.1a3.8 3.8 0 1 0 7.6 0a3.8 3.8 0 1 0 -7.6 0M299.3 214.7a3.8 3.8 0 1 0 7.6 0a3.8 3.8 0 1 0 -7.6 0M315.9 215.9a3.8 3.8 0 1 0 7.6 0a3.8 3.8 0 1 0 -7.6 0M313.4 208.1a3.8 3.8 0 1 0 7.6 0a3.8 3.8 0 1 0 -7.6 0M299.3 220.3a3.8 3.8 0 1 0 7.6 0a3.8 3.8 0 1 0 -7.6 0M311.6 207.6a3.8 3.8 0 1 0 7.6 0a3.8 3.8 0 1 0 -7.6 0M315.6 203.7a3.8 3.8 0 1 0 7.6 0a3.8 3.8 0 1 0 -7.6 0M294.4 221.6a3.8 3.8 0 1 0 7.6 0a3.8 3.8 0 1 0 -7.6 0M312.0 204.5a3.8 3.8 0 1 0 7.6 0a3.8 3.8 0 1 0 -7.6 0M302.3 211.9a3.8 3.8 0 1 0 7.6 0a3.8 3.8 0 1 0 -7.6 0M287.9 218.9a3.8 3.8 0 1 0 7.6 0a3.8 3.8 0 1 0 -7.6 0M312.3 207.0a3.8 3.8 0 1 0 7.6 0a3.8 3.8 0 1 0 -7.6 0M318.1 204.7a3.8 3.8 0 1 0 7.6 0a3.8 3.8 0 1 0 -7.6 0M312.5 205.3a3.8 3.8 0 1 0 7.6 0a3.8 3.8 0 1 0 -7.6 0M303.3 206.7a3.8 3.8 0 1 0 7.6 0a3.8 3.8 0 1 0 -7.6 0M295.8 216.6a3.8 3.8 0 1 0 7.6 0a3.8 3.8 0 1 0 -7.6 0M309.6 208.8a3.8 3.8 0 1 0 7.6 0a3.8 3.8 0 1 0 -7.6 0M315.7 202.3a3.8 3.8 0 1 0 7.6 0a3.8 3.8 0 1 0 -7.6 0M304.6 203.5a3.8 3.8 0 1 0 7.6 0a3.8 3.8 0 1 0 -7.6 0M312.0 217.3a3.8 3.8 0 1 0 7.6 0a3.8 3.8 0 1 0 -7.6 0M308.4 214.9a3.8 3.8 0 1 0 7.6 0a3.8 3.8 0 1 0 -7.6 0M289.5 216.3a3.8 3.8 0 1 0 7.6 0a3.8 3.8 0 1 0 -7.6 0M313.2 214.5a3.8 3.8 0 1 0 7.6 0a3.8 3.8 0 1 0 -7.6 0M309.8 201.7a3.8 3.8 0 1 0 7.6 0a3.8 3.8 0 1 0 -7.6 0M305.6 219.5a3.8 3.8 0 1 0 7.6 0a3.8 3.8 0 1 0 -7.6 0M290.5 216.2a3.8 3.8 0 1 0 7.6 0a3.8 3.8 0 1 0 -7.6 0M298.2 207.9a3.8 3.8 0 1 0 7.6 0a3.8 3.8 0 1 0 -7.6 0M290.1 213.0a3.8 3.8 0 1 0 7.6 0a3.8 3.8 0 1 0 -7.6 0M294.5 209.9a3.8 3.8 0 1 0 7.6 0a3.8 3.8 0 1 0 -7.6 0M289.8 221.3a3.8 3.8 0 1 0 7.6 0a3.8 3.8 0 1 0 -7.6 0M304.4 206.2a3.8 3.8 0 1 0 7.6 0a3.8 3.8 0 1 0 -7.6 0M300.9 212.1a3.8 3.8 0 1 0 7.6 0a3.8 3.8 0 1 0 -7.6 0M293.9 220.6a3.8 3.8 0 1 0 7.6 0a3.8 3.8 0 1 0 -7.6 0M295.0 218.5a3.8 3.8 0 1 0 7.6 0a3.8 3.8 0 1 0 -7.6 0M320.3 213.6a3.8 3.8 0 1 0 7.6 0a3.8 3.8 0 1 0 -7.6 0M295.3 211.5a3.8 3.8 0 1 0 7.6 0a3.8 3.8 0 1 0 -7.6 0M314.0 212.1a3.8 3.8 0 1 0 7.6 0a3.8 3.8 0 1 0 -7.6 0M288.9 213.2a3.8 3.8 0 1 0 7.6 0a3.8 3.8 0 1 0 -7.6 0M319.3 207.3a3.8 3.8 0 1 0 7.6 0a3.8 3.8 0 1 0 -7.6 0M309.9 210.8a3.8 3.8 0 1 0 7.6 0a3.8 3.8 0 1 0 -7.6 0M302.4 284.4a3.8 3.8 0 1 0 7.6 0a3.8 3.8 0 1 0 -7.6 0M331.4 273.2a3.8 3.8 0 1 0 7.6 0a3.8 3.8 0 1 0 -7.6 0M332.5 281.5a3.8 3.8 0 1 0 7.6 0a3.8 3.8 0 1 0 -7.6 0M332.6 277.0a3.8 3.8 0 1 0 7.6 0a3.8 3.8 0 1 0 -7.6 0M311.2 283.9a3.8 3.8 0 1 0 7.6 0a3.8 3.8 0 1 0 -7.6 0M338.2 268.7a3.8 3.8 0 1 0 7.6 0a3.8 3.8 0 1 0 -7.6 0M323.1 285.1a3.8 3.8 0 1 0 7.6 0a3.8 3.8 0 1 0 -7.6 0M347.8 263.0a3.8 3.8 0 1 0 7.6 0a3.8 3.8 0 1 0 -7.6 0M333.8 278.3a3.8 3.8 0 1 0 7.6 0a3.8 3.8 0 1 0 -7.6 0M341.6 272.4a3.8 3.8 0 1 0 7.6 0a3.8 3.8 0 1 0 -7.6 0M336.4 276.3a3.8 3.8 0 1 0 7.6 0a3.8 3.8 0 1 0 -7.6 0M315.4 282.7a3.8 3.8 0 1 0 7.6 0a3.8 3.8 0 1 0 -7.6 0M323.4 280.0a3.8 3.8 0 1 0 7.6 0a3.8 3.8 0 1 0 -7.6 0M316.0 282.4a3.8 3.8 0 1 0 7.6 0a3.8 3.8 0 1 0 -7.6 0M322.2 284.7a3.8 3.8 0 1 0 7.6 0a3.8 3.8 0 1 0 -7.6 0M343.9 268.0a3.8 3.8 0 1 0 7.6 0a3.8 3.8 0 1 0 -7.6 0M315.4 281.3a3.8 3.8 0 1 0 7.6 0a3.8 3.8 0 1 0 -7.6 0M338.2 276.0a3.8 3.8 0 1 0 7.6 0a3.8 3.8 0 1 0 -7.6 0M321.7 281.5a3.8 3.8 0 1 0 7.6 0a3.8 3.8 0 1 0 -7.6 0M326.3 281.4a3.8 3.8 0 1 0 7.6 0a3.8 3.8 0 1 0 -7.6 0M335.5 272.6a3.8 3.8 0 1 0 7.6 0a3.8 3.8 0 1 0 -7.6 0M335.2 268.9a3.8 3.8 0 1 0 7.6 0a3.8 3.8 0 1 0 -7.6 0M336.7 270.6a3.8 3.8 0 1 0 7.6 0a3.8 3.8 0 1 0 -7.6 0M348.0 256.6a3.8 3.8 0 1 0 7.6 0a3.8 3.8 0 1 0 -7.6 0M338.6 266.5a3.8 3.8 0 1 0 7.6 0a3.8 3.8 0 1 0 -7.6 0M311.9 282.4a3.8 3.8 0 1 0 7.6 0a3.8 3.8 0 1 0 -7.6 0M324.2 285.3a3.8 3.8 0 1 0 7.6 0a3.8 3.8 0 1 0 -7.6 0M322.4 285.2a3.8 3.8 0 1 0 7.6 0a3.8 3.8 0 1 0 -7.6 0M330.0 281.6a3.8 3.8 0 1 0 7.6 0a3.8 3.8 0 1 0 -7.6 0M348.1 257.9a3.8 3.8 0 1 0 7.6 0a3.8 3.8 0 1 0 -7.6 0M308.0 282.8a3.8 3.8 0 1 0 7.6 0a3.8 3.8 0 1 0 -7.6 0M344.4 260.4a3.8 3.8 0 1 0 7.6 0a3.8 3.8 0 1 0 -7.6 0M313.4 279.5a3.8 3.8 0 1 0 7.6 0a3.8 3.8 0 1 0 -7.6 0M306.4 287.1a3.8 3.8 0 1 0 7.6 0a3.8 3.8 0 1 0 -7.6 0M312.6 279.5a3.8 3.8 0 1 0 7.6 0a3.8 3.8 0 1 0 -7.6 0M326.3 274.5a3.8 3.8 0 1 0 7.6 0a3.8 3.8 0 1 0 -7.6 0M329.0 274.6a3.8 3.8 0 1 0 7.6 0a3.8 3.8 0 1 0 -7.6 0M324.3 284.9a3.8 3.8 0 1 0 7.6 0a3.8 3.8 0 1 0 -7.6 0M314.3 278.0a3.8 3.8 0 1 0 7.6 0a3.8 3.8 0 1 0 -7.6 0M339.0 270.3a3.8 3.8 0 1 0 7.6 0a3.8 3.8 0 1 0 -7.6 0M326.0 277.2a3.8 3.8 0 1 0 7.6 0a3.8 3.8 0 1 0 -7.6 0M316.2 281.9a3.8 3.8 0 1 0 7.6 0a3.8 3.8 0 1 0 -7.6 0M337.8 265.2a3.8 3.8 0 1 0 7.6 0a3.8 3.8 0 1 0 -7.6 0M312.3 283.9a3.8 3.8 0 1 0 7.6 0a3.8 3.8 0 1 0 -7.6 0M306.3 287.6a3.8 3.8 0 1 0 7.6 0a3.8 3.8 0 1 0 -7.6 0M309.2 288.8a3.8 3.8 0 1 0 7.6 0a3.8 3.8 0 1 0 -7.6 0M318.9 278.1a3.8 3.8 0 1 0 7.6 0a3.8 3.8 0 1 0 -7.6 0M321.1 287.6a3.8 3.8 0 1 0 7.6 0a3.8 3.8 0 1 0 -7.6 0M300.4 289.3a3.8 3.8 0 1 0 7.6 0a3.8 3.8 0 1 0 -7.6 0M345.8 261.2a3.8 3.8 0 1 0 7.6 0a3.8 3.8 0 1 0 -7.6 0M329.1 282.4a3.8 3.8 0 1 0 7.6 0a3.8 3.8 0 1 0 -7.6 0M314.5 287.6a3.8 3.8 0 1 0 7.6 0a3.8 3.8 0 1 0 -7.6 0M299.7 285.6a3.8 3.8 0 1 0 7.6 0a3.8 3.8 0 1 0 -7.6 0M319.6 281.1a3.8 3.8 0 1 0 7.6 0a3.8 3.8 0 1 0 -7.6 0M321.9 279.5a3.8 3.8 0 1 0 7.6 0a3.8 3.8 0 1 0 -7.6 0M312.5 287.3a3.8 3.8 0 1 0 7.6 0a3.8 3.8 0 1 0 -7.6 0M329.9 284.2a3.8 3.8 0 1 0 7.6 0a3.8 3.8 0 1 0 -7.6 0M332.7 276.5a3.8 3.8 0 1 0 7.6 0a3.8 3.8 0 1 0 -7.6 0M313.5 288.7a3.8 3.8 0 1 0 7.6 0a3.8 3.8 0 1 0 -7.6 0M322.1 285.0a3.8 3.8 0 1 0 7.6 0a3.8 3.8 0 1 0 -7.6 0M308.9 281.0a3.8 3.8 0 1 0 7.6 0a3.8 3.8 0 1 0 -7.6 0M299.8 287.2a3.8 3.8 0 1 0 7.6 0a3.8 3.8 0 1 0 -7.6 0M343.7 269.8a3.8 3.8 0 1 0 7.6 0a3.8 3.8 0 1 0 -7.6 0M343.7 261.0a3.8 3.8 0 1 0 7.6 0a3.8 3.8 0 1 0 -7.6 0M305.9 289.9a3.8 3.8 0 1 0 7.6 0a3.8 3.8 0 1 0 -7.6 0M315.8 283.4a3.8 3.8 0 1 0 7.6 0a3.8 3.8 0 1 0 -7.6 0M338.3 271.8a3.8 3.8 0 1 0 7.6 0a3.8 3.8 0 1 0 -7.6 0M304.5 283.5a3.8 3.8 0 1 0 7.6 0a3.8 3.8 0 1 0 -7.6 0M323.6 278.5a3.8 3.8 0 1 0 7.6 0a3.8 3.8 0 1 0 -7.6 0M347.2 264.9a3.8 3.8 0 1 0 7.6 0a3.8 3.8 0 1 0 -7.6 0M320.4 279.7a3.8 3.8 0 1 0 7.6 0a3.8 3.8 0 1 0 -7.6 0M299.5 289.4a3.8 3.8 0 1 0 7.6 0a3.8 3.8 0 1 0 -7.6 0M333.7 253.2a3.8 3.8 0 1 0 7.6 0a3.8 3.8 0 1 0 -7.6 0M343.7 256.9a3.8 3.8 0 1 0 7.6 0a3.8 3.8 0 1 0 -7.6 0M336.0 258.0a3.8 3.8 0 1 0 7.6 0a3.8 3.8 0 1 0 -7.6 0M347.0 248.3a3.8 3.8 0 1 0 7.6 0a3.8 3.8 0 1 0 -7.6 0M345.0 255.8a3.8 3.8 0 1 0 7.6 0a3.8 3.8 0 1 0 -7.6 0M339.9 249.4a3.8 3.8 0 1 0 7.6 0a3.8 3.8 0 1 0 -7.6 0M345.3 254.1a3.8 3.8 0 1 0 7.6 0a3.8 3.8 0 1 0 -7.6 0M336.8 256.9a3.8 3.8 0 1 0 7.6 0a3.8 3.8 0 1 0 -7.6 0M341.9 247.7a3.8 3.8 0 1 0 7.6 0a3.8 3.8 0 1 0 -7.6 0M338.6 249.3a3.8 3.8 0 1 0 7.6 0a3.8 3.8 0 1 0 -7.6 0M340.4 258.5a3.8 3.8 0 1 0 7.6 0a3.8 3.8 0 1 0 -7.6 0M340.3 250.0a3.8 3.8 0 1 0 7.6 0a3.8 3.8 0 1 0 -7.6 0M345.4 256.3a3.8 3.8 0 1 0 7.6 0a3.8 3.8 0 1 0 -7.6 0M338.2 252.7a3.8 3.8 0 1 0 7.6 0a3.8 3.8 0 1 0 -7.6 0M345.4 253.0a3.8 3.8 0 1 0 7.6 0a3.8 3.8 0 1 0 -7.6 0M344.9 249.7a3.8 3.8 0 1 0 7.6 0a3.8 3.8 0 1 0 -7.6 0M333.2 253.0a3.8 3.8 0 1 0 7.6 0a3.8 3.8 0 1 0 -7.6 0M337.2 254.3a3.8 3.8 0 1 0 7.6 0a3.8 3.8 0 1 0 -7.6 0M350.8 252.0a3.8 3.8 0 1 0 7.6 0a3.8 3.8 0 1 0 -7.6 0M336.4 255.4a3.8 3.8 0 1 0 7.6 0a3.8 3.8 0 1 0 -7.6 0M338.0 257.1a3.8 3.8 0 1 0 7.6 0a3.8 3.8 0 1 0 -7.6 0M340.3 252.9a3.8 3.8 0 1 0 7.6 0a3.8 3.8 0 1 0 -7.6 0M342.9 249.4a3.8 3.8 0 1 0 7.6 0a3.8 3.8 0 1 0 -7.6 0M343.7 257.5a3.8 3.8 0 1 0 7.6 0a3.8 3.8 0 1 0 -7.6 0M308.4 265.3a3.8 3.8 0 1 0 7.6 0a3.8 3.8 0 1 0 -7.6 0M310.8 270.2a3.8 3.8 0 1 0 7.6 0a3.8 3.8 0 1 0 -7.6 0M315.8 263.6a3.8 3.8 0 1 0 7.6 0a3.8 3.8 0 1 0 -7.6 0M320.7 259.5a3.8 3.8 0 1 0 7.6 0a3.8 3.8 0 1 0 -7.6 0M326.4 258.7a3.8 3.8 0 1 0 7.6 0a3.8 3.8 0 1 0 -7.6 0M319.8 267.7a3.8 3.8 0 1 0 7.6 0a3.8 3.8 0 1 0 -7.6 0M325.6 265.3a3.8 3.8 0 1 0 7.6 0a3.8 3.8 0 1 0 -7.6 0M331.3 262.0a3.8 3.8 0 1 0 7.6 0a3.8 3.8 0 1 0 -7.6 0M306.7 271.3a3.8 3.8 0 1 0 7.6 0a3.8 3.8 0 1 0 -7.6 0M314.1 274.3a3.8 3.8 0 1 0 7.6 0a3.8 3.8 0 1 0 -7.6 0M300.2 279.2a3.8 3.8 0 1 0 7.6 0a3.8 3.8 0 1 0 -7.6 0M321.5 272.6a3.8 3.8 0 1 0 7.6 0a3.8 3.8 0 1 0 -7.6 0M331.3 269.4a3.8 3.8 0 1 0 7.6 0a3.8 3.8 0 1 0 -7.6 0M336.2 264.5a3.8 3.8 0 1 0 7.6 0a3.8 3.8 0 1 0 -7.6 0M317.4 269.4a3.8 3.8 0 1 0 7.6 0a3.8 3.8 0 1 0 -7.6 0M284.7 352.9a3.8 3.8 0 1 0 7.6 0a3.8 3.8 0 1 0 -7.6 0M288.7 351.3a3.8 3.8 0 1 0 7.6 0a3.8 3.8 0 1 0 -7.6 0M290.4 357.8a3.8 3.8 0 1 0 7.6 0a3.8 3.8 0 1 0 -7.6 0M294.5 346.4a3.8 3.8 0 1 0 7.6 0a3.8 3.8 0 1 0 -7.6 0M296.1 351.3a3.8 3.8 0 1 0 7.6 0a3.8 3.8 0 1 0 -7.6 0M299.4 355.4a3.8 3.8 0 1 0 7.6 0a3.8 3.8 0 1 0 -7.6 0M302.7 348.8a3.8 3.8 0 1 0 7.6 0a3.8 3.8 0 1 0 -7.6 0M307.6 344.7a3.8 3.8 0 1 0 7.6 0a3.8 3.8 0 1 0 -7.6 0M308.4 353.7a3.8 3.8 0 1 0 7.6 0a3.8 3.8 0 1 0 -7.6 0M309.2 348.0a3.8 3.8 0 1 0 7.6 0a3.8 3.8 0 1 0 -7.6 0M316.6 347.2a3.8 3.8 0 1 0 7.6 0a3.8 3.8 0 1 0 -7.6 0M317.4 350.5a3.8 3.8 0 1 0 7.6 0a3.8 3.8 0 1 0 -7.6 0M332.1 345.9a3.8 3.8 0 1 0 7.6 0a3.8 3.8 0 1 0 -7.6 0M292.8 354.5a3.8 3.8 0 1 0 7.6 0a3.8 3.8 0 1 0 -7.6 0M304.3 352.9a3.8 3.8 0 1 0 7.6 0a3.8 3.8 0 1 0 -7.6 0M298.5 425.1a3.8 3.8 0 1 0 7.6 0a3.8 3.8 0 1 0 -7.6 0M310.0 423.5a3.8 3.8 0 1 0 7.6 0a3.8 3.8 0 1 0 -7.6 0M323.8 402.7a3.8 3.8 0 1 0 7.6 0a3.8 3.8 0 1 0 -7.6 0M288.2 427.4a3.8 3.8 0 1 0 7.6 0a3.8 3.8 0 1 0 -7.6 0M298.8 425.9a3.8 3.8 0 1 0 7.6 0a3.8 3.8 0 1 0 -7.6 0M313.4 415.7a3.8 3.8 0 1 0 7.6 0a3.8 3.8 0 1 0 -7.6 0M314.4 405.7a3.8 3.8 0 1 0 7.6 0a3.8 3.8 0 1 0 -7.6 0M327.1 411.9a3.8 3.8 0 1 0 7.6 0a3.8 3.8 0 1 0 -7.6 0M298.4 410.2a3.8 3.8 0 1 0 7.6 0a3.8 3.8 0 1 0 -7.6 0M316.1 414.2a3.8 3.8 0 1 0 7.6 0a3.8 3.8 0 1 0 -7.6 0M322.0 404.7a3.8 3.8 0 1 0 7.6 0a3.8 3.8 0 1 0 -7.6 0M310.1 416.5a3.8 3.8 0 1 0 7.6 0a3.8 3.8 0 1 0 -7.6 0M283.0 426.6a3.8 3.8 0 1 0 7.6 0a3.8 3.8 0 1 0 -7.6 0M333.2 412.3a3.8 3.8 0 1 0 7.6 0a3.8 3.8 0 1 0 -7.6 0M293.3 421.6a3.8 3.8 0 1 0 7.6 0a3.8 3.8 0 1 0 -7.6 0M302.6 422.8a3.8 3.8 0 1 0 7.6 0a3.8 3.8 0 1 0 -7.6 0M281.7 424.6a3.8 3.8 0 1 0 7.6 0a3.8 3.8 0 1 0 -7.6 0M319.3 421.2a3.8 3.8 0 1 0 7.6 0a3.8 3.8 0 1 0 -7.6 0M294.4 411.8a3.8 3.8 0 1 0 7.6 0a3.8 3.8 0 1 0 -7.6 0M328.0 406.4a3.8 3.8 0 1 0 7.6 0a3.8 3.8 0 1 0 -7.6 0M331.0 413.6a3.8 3.8 0 1 0 7.6 0a3.8 3.8 0 1 0 -7.6 0M321.6 413.7a3.8 3.8 0 1 0 7.6 0a3.8 3.8 0 1 0 -7.6 0M310.1 420.8a3.8 3.8 0 1 0 7.6 0a3.8 3.8 0 1 0 -7.6 0M286.3 420.0a3.8 3.8 0 1 0 7.6 0a3.8 3.8 0 1 0 -7.6 0M302.6 412.7a3.8 3.8 0 1 0 7.6 0a3.8 3.8 0 1 0 -7.6 0M329.0 408.4a3.8 3.8 0 1 0 7.6 0a3.8 3.8 0 1 0 -7.6 0M327.0 406.8a3.8 3.8 0 1 0 7.6 0a3.8 3.8 0 1 0 -7.6 0M313.6 412.8a3.8 3.8 0 1 0 7.6 0a3.8 3.8 0 1 0 -7.6 0M324.1 411.9a3.8 3.8 0 1 0 7.6 0a3.8 3.8 0 1 0 -7.6 0M333.2 407.6a3.8 3.8 0 1 0 7.6 0a3.8 3.8 0 1 0 -7.6 0M325.6 411.2a3.8 3.8 0 1 0 7.6 0a3.8 3.8 0 1 0 -7.6 0M315.6 415.5a3.8 3.8 0 1 0 7.6 0a3.8 3.8 0 1 0 -7.6 0M310.9 413.2a3.8 3.8 0 1 0 7.6 0a3.8 3.8 0 1 0 -7.6 0M282.5 424.9a3.8 3.8 0 1 0 7.6 0a3.8 3.8 0 1 0 -7.6 0M303.5 424.0a3.8 3.8 0 1 0 7.6 0a3.8 3.8 0 1 0 -7.6 0M301.0 416.5a3.8 3.8 0 1 0 7.6 0a3.8 3.8 0 1 0 -7.6 0M322.7 417.3a3.8 3.8 0 1 0 7.6 0a3.8 3.8 0 1 0 -7.6 0M318.8 415.7a3.8 3.8 0 1 0 7.6 0a3.8 3.8 0 1 0 -7.6 0M312.1 407.0a3.8 3.8 0 1 0 7.6 0a3.8 3.8 0 1 0 -7.6 0M315.8 423.4a3.8 3.8 0 1 0 7.6 0a3.8 3.8 0 1 0 -7.6 0M319.1 417.2a3.8 3.8 0 1 0 7.6 0a3.8 3.8 0 1 0 -7.6 0M301.0 411.1a3.8 3.8 0 1 0 7.6 0a3.8 3.8 0 1 0 -7.6 0M291.2 417.2a3.8 3.8 0 1 0 7.6 0a3.8 3.8 0 1 0 -7.6 0M285.7 423.7a3.8 3.8 0 1 0 7.6 0a3.8 3.8 0 1 0 -7.6 0M304.1 421.2a3.8 3.8 0 1 0 7.6 0a3.8 3.8 0 1 0 -7.6 0M291.9 417.4a3.8 3.8 0 1 0 7.6 0a3.8 3.8 0 1 0 -7.6 0M288.1 423.2a3.8 3.8 0 1 0 7.6 0a3.8 3.8 0 1 0 -7.6 0M312.6 418.5a3.8 3.8 0 1 0 7.6 0a3.8 3.8 0 1 0 -7.6 0M324.0 402.6a3.8 3.8 0 1 0 7.6 0a3.8 3.8 0 1 0 -7.6 0M307.5 405.1a3.8 3.8 0 1 0 7.6 0a3.8 3.8 0 1 0 -7.6 0M322.8 405.8a3.8 3.8 0 1 0 7.6 0a3.8 3.8 0 1 0 -7.6 0M320.6 412.0a3.8 3.8 0 1 0 7.6 0a3.8 3.8 0 1 0 -7.6 0M305.4 413.8a3.8 3.8 0 1 0 7.6 0a3.8 3.8 0 1 0 -7.6 0M320.9 412.1a3.8 3.8 0 1 0 7.6 0a3.8 3.8 0 1 0 -7.6 0M308.8 419.4a3.8 3.8 0 1 0 7.6 0a3.8 3.8 0 1 0 -7.6 0M329.1 400.8a3.8 3.8 0 1 0 7.6 0a3.8 3.8 0 1 0 -7.6 0M317.1 409.7a3.8 3.8 0 1 0 7.6 0a3.8 3.8 0 1 0 -7.6 0M282.1 424.1a3.8 3.8 0 1 0 7.6 0a3.8 3.8 0 1 0 -7.6 0M305.7 408.5a3.8 3.8 0 1 0 7.6 0a3.8 3.8 0 1 0 -7.6 0M306.2 411.1a3.8 3.8 0 1 0 7.6 0a3.8 3.8 0 1 0 -7.6 0M292.7 419.3a3.8 3.8 0 1 0 7.6 0a3.8 3.8 0 1 0 -7.6 0M318.4 416.8a3.8 3.8 0 1 0 7.6 0a3.8 3.8 0 1 0 -7.6 0M289.7 414.0a3.8 3.8 0 1 0 7.6 0a3.8 3.8 0 1 0 -7.6 0M332.6 401.5a3.8 3.8 0 1 0 7.6 0a3.8 3.8 0 1 0 -7.6 0M328.9 401.5a3.8 3.8 0 1 0 7.6 0a3.8 3.8 0 1 0 -7.6 0M316.9 419.9a3.8 3.8 0 1 0 7.6 0a3.8 3.8 0 1 0 -7.6 0M307.7 422.0a3.8 3.8 0 1 0 7.6 0a3.8 3.8 0 1 0 -7.6 0M316.1 414.6a3.8 3.8 0 1 0 7.6 0a3.8 3.8 0 1 0 -7.6 0M314.9 416.0a3.8 3.8 0 1 0 7.6 0a3.8 3.8 0 1 0 -7.6 0M312.3 415.3a3.8 3.8 0 1 0 7.6 0a3.8 3.8 0 1 0 -7.6 0M325.5 406.1a3.8 3.8 0 1 0 7.6 0a3.8 3.8 0 1 0 -7.6 0M303.8 412.2a3.8 3.8 0 1 0 7.6 0a3.8 3.8 0 1 0 -7.6 0M298.0 412.3a3.8 3.8 0 1 0 7.6 0a3.8 3.8 0 1 0 -7.6 0M322.9 415.2a3.8 3.8 0 1 0 7.6 0a3.8 3.8 0 1 0 -7.6 0M315.8 406.1a3.8 3.8 0 1 0 7.6 0a3.8 3.8 0 1 0 -7.6 0M338.5 396.8a3.8 3.8 0 1 0 7.6 0a3.8 3.8 0 1 0 -7.6 0M442.9 64.4a3.8 3.8 0 1 0 7.6 0a3.8 3.8 0 1 0 -7.6 0M429.7 78.4a3.8 3.8 0 1 0 7.6 0a3.8 3.8 0 1 0 -7.6 0M443.0 77.6a3.8 3.8 0 1 0 7.6 0a3.8 3.8 0 1 0 -7.6 0M418.9 81.2a3.8 3.8 0 1 0 7.6 0a3.8 3.8 0 1 0 -7.6 0M455.2 64.3a3.8 3.8 0 1 0 7.6 0a3.8 3.8 0 1 0 -7.6 0M411.8 71.4a3.8 3.8 0 1 0 7.6 0a3.8 3.8 0 1 0 -7.6 0M454.3 76.6a3.8 3.8 0 1 0 7.6 0a3.8 3.8 0 1 0 -7.6 0M430.6 67.5a3.8 3.8 0 1 0 7.6 0a3.8 3.8 0 1 0 -7.6 0M459.8 67.6a3.8 3.8 0 1 0 7.6 0a3.8 3.8 0 1 0 -7.6 0M444.3 75.3a3.8 3.8 0 1 0 7.6 0a3.8 3.8 0 1 0 -7.6 0M438.4 69.3a3.8 3.8 0 1 0 7.6 0a3.8 3.8 0 1 0 -7.6 0M427.0 67.5a3.8 3.8 0 1 0 7.6 0a3.8 3.8 0 1 0 -7.6 0M440.2 64.3a3.8 3.8 0 1 0 7.6 0a3.8 3.8 0 1 0 -7.6 0M401.3 75.2a3.8 3.8 0 1 0 7.6 0a3.8 3.8 0 1 0 -7.6 0M430.9 74.3a3.8 3.8 0 1 0 7.6 0a3.8 3.8 0 1 0 -7.6 0M431.9 69.6a3.8 3.8 0 1 0 7.6 0a3.8 3.8 0 1 0 -7.6 0M443.9 73.2a3.8 3.8 0 1 0 7.6 0a3.8 3.8 0 1 0 -7.6 0M410.9 76.7a3.8 3.8 0 1 0 7.6 0a3.8 3.8 0 1 0 -7.6 0M448.6 72.4a3.8 3.8 0 1 0 7.6 0a3.8 3.8 0 1 0 -7.6 0M404.3 87.2a3.8 3.8 0 1 0 7.6 0a3.8 3.8 0 1 0 -7.6 0M453.9 80.3a3.8 3.8 0 1 0 7.6 0a3.8 3.8 0 1 0 -7.6 0M444.4 71.0a3.8 3.8 0 1 0 7.6 0a3.8 3.8 0 1 0 -7.6 0M456.2 79.5a3.8 3.8 0 1 0 7.6 0a3.8 3.8 0 1 0 -7.6 0M465.4 69.8a3.8 3.8 0 1 0 7.6 0a3.8 3.8 0 1 0 -7.6 0M410.1 75.4a3.8 3.8 0 1 0 7.6 0a3.8 3.8 0 1 0 -7.6 0M435.7 73.6a3.8 3.8 0 1 0 7.6 0a3.8 3.8 0 1 0 -7.6 0M448.7 78.1a3.8 3.8 0 1 0 7.6 0a3.8 3.8 0 1 0 -7.6 0M424.3 78.1a3.8 3.8 0 1 0 7.6 0a3.8 3.8 0 1 0 -7.6 0M440.7 76.9a3.8 3.8 0 1 0 7.6 0a3.8 3.8 0 1 0 -7.6 0M435.9 64.2a3.8 3.8 0 1 0 7.6 0a3.8 3.8 0 1 0 -7.6 0M402.8 80.5a3.8 3.8 0 1 0 7.6 0a3.8 3.8 0 1 0 -7.6 0M395.0 86.6a3.8 3.8 0 1 0 7.6 0a3.8 3.8 0 1 0 -7.6 0M396.8 87.1a3.8 3.8 0 1 0 7.6 0a3.8 3.8 0 1 0 -7.6 0M415.1 78.9a3.8 3.8 0 1 0 7.6 0a3.8 3.8 0 1 0 -7.6 0M464.1 67.9a3.8 3.8 0 1 0 7.6 0a3.8 3.8 0 1 0 -7.6 0M442.2 63.5a3.8 3.8 0 1 0 7.6 0a3.8 3.8 0 1 0 -7.6 0M454.8 77.1a3.8 3.8 0 1 0 7.6 0a3.8 3.8 0 1 0 -7.6 0M431.3 78.6a3.8 3.8 0 1 0 7.6 0a3.8 3.8 0 1 0 -7.6 0M401.0 74.9a3.8 3.8 0 1 0 7.6 0a3.8 3.8 0 1 0 -7.6 0M450.9 77.2a3.8 3.8 0 1 0 7.6 0a3.8 3.8 0 1 0 -7.6 0M409.3 74.5a3.8 3.8 0 1 0 7.6 0a3.8 3.8 0 1 0 -7.6 0M440.3 84.1a3.8 3.8 0 1 0 7.6 0a3.8 3.8 0 1 0 -7.6 0M450.6 64.0a3.8 3.8 0 1 0 7.6 0a3.8 3.8 0 1 0 -7.6 0M400.0 75.7a3.8 3.8 0 1 0 7.6 0a3.8 3.8 0 1 0 -7.6 0M409.0 85.9a3.8 3.8 0 1 0 7.6 0a3.8 3.8 0 1 0 -7.6 0M408.2 74.8a3.8 3.8 0 1 0 7.6 0a3.8 3.8 0 1 0 -7.6 0M451.8 72.3a3.8 3.8 0 1 0 7.6 0a3.8 3.8 0 1 0 -7.6 0M436.0 79.0a3.8 3.8 0 1 0 7.6 0a3.8 3.8 0 1 0 -7.6 0M451.4 78.0a3.8 3.8 0 1 0 7.6 0a3.8 3.8 0 1 0 -7.6 0M440.6 76.4a3.8 3.8 0 1 0 7.6 0a3.8 3.8 0 1 0 -7.6 0M423.2 78.7a3.8 3.8 0 1 0 7.6 0a3.8 3.8 0 1 0 -7.6 0M400.4 84.1a3.8 3.8 0 1 0 7.6 0a3.8 3.8 0 1 0 -7.6 0M406.8 73.3a3.8 3.8 0 1 0 7.6 0a3.8 3.8 0 1 0 -7.6 0M444.3 65.7a3.8 3.8 0 1 0 7.6 0a3.8 3.8 0 1 0 -7.6 0M457.7 79.0a3.8 3.8 0 1 0 7.6 0a3.8 3.8 0 1 0 -7.6 0M410.7 83.6a3.8 3.8 0 1 0 7.6 0a3.8 3.8 0 1 0 -7.6 0M428.4 82.7a3.8 3.8 0 1 0 7.6 0a3.8 3.8 0 1 0 -7.6 0M416.4 78.5a3.8 3.8 0 1 0 7.6 0a3.8 3.8 0 1 0 -7.6 0M401.1 82.6a3.8 3.8 0 1 0 7.6 0a3.8 3.8 0 1 0 -7.6 0M404.8 73.9a3.8 3.8 0 1 0 7.6 0a3.8 3.8 0 1 0 -7.6 0M446.4 83.3a3.8 3.8 0 1 0 7.6 0a3.8 3.8 0 1 0 -7.6 0M456.8 68.6a3.8 3.8 0 1 0 7.6 0a3.8 3.8 0 1 0 -7.6 0M422.2 85.3a3.8 3.8 0 1 0 7.6 0a3.8 3.8 0 1 0 -7.6 0M459.3 79.5a3.8 3.8 0 1 0 7.6 0a3.8 3.8 0 1 0 -7.6 0M449.3 80.7a3.8 3.8 0 1 0 7.6 0a3.8 3.8 0 1 0 -7.6 0M429.0 66.5a3.8 3.8 0 1 0 7.6 0a3.8 3.8 0 1 0 -7.6 0M461.3 67.3a3.8 3.8 0 1 0 7.6 0a3.8 3.8 0 1 0 -7.6 0M411.6 87.4a3.8 3.8 0 1 0 7.6 0a3.8 3.8 0 1 0 -7.6 0M402.7 78.7a3.8 3.8 0 1 0 7.6 0a3.8 3.8 0 1 0 -7.6 0M429.9 73.7a3.8 3.8 0 1 0 7.6 0a3.8 3.8 0 1 0 -7.6 0M398.4 77.7a3.8 3.8 0 1 0 7.6 0a3.8 3.8 0 1 0 -7.6 0M419.6 76.7a3.8 3.8 0 1 0 7.6 0a3.8 3.8 0 1 0 -7.6 0M415.5 76.8a3.8 3.8 0 1 0 7.6 0a3.8 3.8 0 1 0 -7.6 0M414.0 77.6a3.8 3.8 0 1 0 7.6 0a3.8 3.8 0 1 0 -7.6 0M401.3 87.3a3.8 3.8 0 1 0 7.6 0a3.8 3.8 0 1 0 -7.6 0M445.4 64.0a3.8 3.8 0 1 0 7.6 0a3.8 3.8 0 1 0 -7.6 0M410.4 83.3a3.8 3.8 0 1 0 7.6 0a3.8 3.8 0 1 0 -7.6 0M418.1 69.5a3.8 3.8 0 1 0 7.6 0a3.8 3.8 0 1 0 -7.6 0M425.7 72.6a3.8 3.8 0 1 0 7.6 0a3.8 3.8 0 1 0 -7.6 0M415.9 71.1a3.8 3.8 0 1 0 7.6 0a3.8 3.8 0 1 0 -7.6 0M424.2 68.7a3.8 3.8 0 1 0 7.6 0a3.8 3.8 0 1 0 -7.6 0M453.6 74.2a3.8 3.8 0 1 0 7.6 0a3.8 3.8 0 1 0 -7.6 0M435.8 70.0a3.8 3.8 0 1 0 7.6 0a3.8 3.8 0 1 0 -7.6 0M414.3 82.3a3.8 3.8 0 1 0 7.6 0a3.8 3.8 0 1 0 -7.6 0M418.4 78.2a3.8 3.8 0 1 0 7.6 0a3.8 3.8 0 1 0 -7.6 0M436.3 69.4a3.8 3.8 0 1 0 7.6 0a3.8 3.8 0 1 0 -7.6 0M421.9 79.7a3.8 3.8 0 1 0 7.6 0a3.8 3.8 0 1 0 -7.6 0M422.1 69.6a3.8 3.8 0 1 0 7.6 0a3.8 3.8 0 1 0 -7.6 0M412.3 70.9a3.8 3.8 0 1 0 7.6 0a3.8 3.8 0 1 0 -7.6 0M424.9 67.5a3.8 3.8 0 1 0 7.6 0a3.8 3.8 0 1 0 -7.6 0M438.8 76.9a3.8 3.8 0 1 0 7.6 0a3.8 3.8 0 1 0 -7.6 0M420.2 76.3a3.8 3.8 0 1 0 7.6 0a3.8 3.8 0 1 0 -7.6 0M415.8 73.0a3.8 3.8 0 1 0 7.6 0a3.8 3.8 0 1 0 -7.6 0M427.5 70.3a3.8 3.8 0 1 0 7.6 0a3.8 3.8 0 1 0 -7.6 0M433.3 85.5a3.8 3.8 0 1 0 7.6 0a3.8 3.8 0 1 0 -7.6 0M463.7 71.2a3.8 3.8 0 1 0 7.6 0a3.8 3.8 0 1 0 -7.6 0M405.7 78.2a3.8 3.8 0 1 0 7.6 0a3.8 3.8 0 1 0 -7.6 0M443.9 78.4a3.8 3.8 0 1 0 7.6 0a3.8 3.8 0 1 0 -7.6 0M437.9 84.7a3.8 3.8 0 1 0 7.6 0a3.8 3.8 0 1 0 -7.6 0M406.3 84.2a3.8 3.8 0 1 0 7.6 0a3.8 3.8 0 1 0 -7.6 0M445.4 65.8a3.8 3.8 0 1 0 7.6 0a3.8 3.8 0 1 0 -7.6 0M429.9 70.5a3.8 3.8 0 1 0 7.6 0a3.8 3.8 0 1 0 -7.6 0M439.0 83.4a3.8 3.8 0 1 0 7.6 0a3.8 3.8 0 1 0 -7.6 0M451.1 71.6a3.8 3.8 0 1 0 7.6 0a3.8 3.8 0 1 0 -7.6 0M428.4 80.3a3.8 3.8 0 1 0 7.6 0a3.8 3.8 0 1 0 -7.6 0M435.5 70.7a3.8 3.8 0 1 0 7.6 0a3.8 3.8 0 1 0 -7.6 0M419.5 82.6a3.8 3.8 0 1 0 7.6 0a3.8 3.8 0 1 0 -7.6 0M442.6 71.2a3.8 3.8 0 1 0 7.6 0a3.8 3.8 0 1 0 -7.6 0M432.2 81.3a3.8 3.8 0 1 0 7.6 0a3.8 3.8 0 1 0 -7.6 0M466.7 71.8a3.8 3.8 0 1 0 7.6 0a3.8 3.8 0 1 0 -7.6 0M399.1 79.3a3.8 3.8 0 1 0 7.6 0a3.8 3.8 0 1 0 -7.6 0M443.5 70.5a3.8 3.8 0 1 0 7.6 0a3.8 3.8 0 1 0 -7.6 0M451.3 75.1a3.8 3.8 0 1 0 7.6 0a3.8 3.8 0 1 0 -7.6 0M458.7 64.8a3.8 3.8 0 1 0 7.6 0a3.8 3.8 0 1 0 -7.6 0M459.4 79.1a3.8 3.8 0 1 0 7.6 0a3.8 3.8 0 1 0 -7.6 0M438.5 81.0a3.8 3.8 0 1 0 7.6 0a3.8 3.8 0 1 0 -7.6 0M397.4 81.9a3.8 3.8 0 1 0 7.6 0a3.8 3.8 0 1 0 -7.6 0M413.5 73.7a3.8 3.8 0 1 0 7.6 0a3.8 3.8 0 1 0 -7.6 0M460.0 68.4a3.8 3.8 0 1 0 7.6 0a3.8 3.8 0 1 0 -7.6 0M467.2 71.2a3.8 3.8 0 1 0 7.6 0a3.8 3.8 0 1 0 -7.6 0M406.9 76.9a3.8 3.8 0 1 0 7.6 0a3.8 3.8 0 1 0 -7.6 0M413.7 80.8a3.8 3.8 0 1 0 7.6 0a3.8 3.8 0 1 0 -7.6 0M402.2 81.5a3.8 3.8 0 1 0 7.6 0a3.8 3.8 0 1 0 -7.6 0M424.5 73.4a3.8 3.8 0 1 0 7.6 0a3.8 3.8 0 1 0 -7.6 0M416.6 76.5a3.8 3.8 0 1 0 7.6 0a3.8 3.8 0 1 0 -7.6 0M409.2 83.3a3.8 3.8 0 1 0 7.6 0a3.8 3.8 0 1 0 -7.6 0M432.9 77.1a3.8 3.8 0 1 0 7.6 0a3.8 3.8 0 1 0 -7.6 0M401.0 82.6a3.8 3.8 0 1 0 7.6 0a3.8 3.8 0 1 0 -7.6 0M409.2 75.5a3.8 3.8 0 1 0 7.6 0a3.8 3.8 0 1 0 -7.6 0M438.7 77.8a3.8 3.8 0 1 0 7.6 0a3.8 3.8 0 1 0 -7.6 0M428.3 85.2a3.8 3.8 0 1 0 7.6 0a3.8 3.8 0 1 0 -7.6 0M440.5 70.9a3.8 3.8 0 1 0 7.6 0a3.8 3.8 0 1 0 -7.6 0M402.6 78.1a3.8 3.8 0 1 0 7.6 0a3.8 3.8 0 1 0 -7.6 0M449.0 79.8a3.8 3.8 0 1 0 7.6 0a3.8 3.8 0 1 0 -7.6 0M419.1 78.6a3.8 3.8 0 1 0 7.6 0a3.8 3.8 0 1 0 -7.6 0M408.1 84.6a3.8 3.8 0 1 0 7.6 0a3.8 3.8 0 1 0 -7.6 0M439.9 79.2a3.8 3.8 0 1 0 7.6 0a3.8 3.8 0 1 0 -7.6 0M404.0 84.8a3.8 3.8 0 1 0 7.6 0a3.8 3.8 0 1 0 -7.6 0M411.6 81.7a3.8 3.8 0 1 0 7.6 0a3.8 3.8 0 1 0 -7.6 0M431.8 78.9a3.8 3.8 0 1 0 7.6 0a3.8 3.8 0 1 0 -7.6 0M413.6 78.1a3.8 3.8 0 1 0 7.6 0a3.8 3.8 0 1 0 -7.6 0M423.1 75.3a3.8 3.8 0 1 0 7.6 0a3.8 3.8 0 1 0 -7.6 0M408.0 76.5a3.8 3.8 0 1 0 7.6 0a3.8 3.8 0 1 0 -7.6 0M425.8 84.7a3.8 3.8 0 1 0 7.6 0a3.8 3.8 0 1 0 -7.6 0M397.7 81.0a3.8 3.8 0 1 0 7.6 0a3.8 3.8 0 1 0 -7.6 0M422.0 75.0a3.8 3.8 0 1 0 7.6 0a3.8 3.8 0 1 0 -7.6 0M415.5 86.0a3.8 3.8 0 1 0 7.6 0a3.8 3.8 0 1 0 -7.6 0M411.7 76.3a3.8 3.8 0 1 0 7.6 0a3.8 3.8 0 1 0 -7.6 0M412.5 76.6a3.8 3.8 0 1 0 7.6 0a3.8 3.8 0 1 0 -7.6 0M415.8 81.2a3.8 3.8 0 1 0 7.6 0a3.8 3.8 0 1 0 -7.6 0M432.6 85.2a3.8 3.8 0 1 0 7.6 0a3.8 3.8 0 1 0 -7.6 0M451.2 71.3a3.8 3.8 0 1 0 7.6 0a3.8 3.8 0 1 0 -7.6 0M435.3 75.1a3.8 3.8 0 1 0 7.6 0a3.8 3.8 0 1 0 -7.6 0M455.5 76.4a3.8 3.8 0 1 0 7.6 0a3.8 3.8 0 1 0 -7.6 0M443.9 72.6a3.8 3.8 0 1 0 7.6 0a3.8 3.8 0 1 0 -7.6 0M454.8 78.0a3.8 3.8 0 1 0 7.6 0a3.8 3.8 0 1 0 -7.6 0M428.6 72.1a3.8 3.8 0 1 0 7.6 0a3.8 3.8 0 1 0 -7.6 0M400.0 80.0a3.8 3.8 0 1 0 7.6 0a3.8 3.8 0 1 0 -7.6 0M431.6 72.2a3.8 3.8 0 1 0 7.6 0a3.8 3.8 0 1 0 -7.6 0M449.6 80.9a3.8 3.8 0 1 0 7.6 0a3.8 3.8 0 1 0 -7.6 0M414.8 74.2a3.8 3.8 0 1 0 7.6 0a3.8 3.8 0 1 0 -7.6 0M402.9 83.9a3.8 3.8 0 1 0 7.6 0a3.8 3.8 0 1 0 -7.6 0M417.5 73.9a3.8 3.8 0 1 0 7.6 0a3.8 3.8 0 1 0 -7.6 0M434.4 79.4a3.8 3.8 0 1 0 7.6 0a3.8 3.8 0 1 0 -7.6 0M416.3 74.0a3.8 3.8 0 1 0 7.6 0a3.8 3.8 0 1 0 -7.6 0M430.3 77.4a3.8 3.8 0 1 0 7.6 0a3.8 3.8 0 1 0 -7.6 0M447.0 81.4a3.8 3.8 0 1 0 7.6 0a3.8 3.8 0 1 0 -7.6 0M449.8 74.7a3.8 3.8 0 1 0 7.6 0a3.8 3.8 0 1 0 -7.6 0M444.8 70.7a3.8 3.8 0 1 0 7.6 0a3.8 3.8 0 1 0 -7.6 0M409.4 78.2a3.8 3.8 0 1 0 7.6 0a3.8 3.8 0 1 0 -7.6 0M452.8 75.4a3.8 3.8 0 1 0 7.6 0a3.8 3.8 0 1 0 -7.6 0M422.4 75.0a3.8 3.8 0 1 0 7.6 0a3.8 3.8 0 1 0 -7.6 0M426.9 79.9a3.8 3.8 0 1 0 7.6 0a3.8 3.8 0 1 0 -7.6 0M410.6 85.9a3.8 3.8 0 1 0 7.6 0a3.8 3.8 0 1 0 -7.6 0M425.1 72.2a3.8 3.8 0 1 0 7.6 0a3.8 3.8 0 1 0 -7.6 0M401.7 85.1a3.8 3.8 0 1 0 7.6 0a3.8 3.8 0 1 0 -7.6 0M408.4 81.5a3.8 3.8 0 1 0 7.6 0a3.8 3.8 0 1 0 -7.6 0M448.1 80.0a3.8 3.8 0 1 0 7.6 0a3.8 3.8 0 1 0 -7.6 0M408.4 86.1a3.8 3.8 0 1 0 7.6 0a3.8 3.8 0 1 0 -7.6 0M406.0 76.3a3.8 3.8 0 1 0 7.6 0a3.8 3.8 0 1 0 -7.6 0M451.9 75.4a3.8 3.8 0 1 0 7.6 0a3.8 3.8 0 1 0 -7.6 0M432.8 70.9a3.8 3.8 0 1 0 7.6 0a3.8 3.8 0 1 0 -7.6 0M401.3 78.9a3.8 3.8 0 1 0 7.6 0a3.8 3.8 0 1 0 -7.6 0M446.3 82.6a3.8 3.8 0 1 0 7.6 0a3.8 3.8 0 1 0 -7.6 0M452.4 77.0a3.8 3.8 0 1 0 7.6 0a3.8 3.8 0 1 0 -7.6 0M434.6 78.3a3.8 3.8 0 1 0 7.6 0a3.8 3.8 0 1 0 -7.6 0M442.1 81.1a3.8 3.8 0 1 0 7.6 0a3.8 3.8 0 1 0 -7.6 0M440.8 76.6a3.8 3.8 0 1 0 7.6 0a3.8 3.8 0 1 0 -7.6 0M429.8 72.6a3.8 3.8 0 1 0 7.6 0a3.8 3.8 0 1 0 -7.6 0M432.2 72.9a3.8 3.8 0 1 0 7.6 0a3.8 3.8 0 1 0 -7.6 0M447.1 73.8a3.8 3.8 0 1 0 7.6 0a3.8 3.8 0 1 0 -7.6 0M432.6 72.9a3.8 3.8 0 1 0 7.6 0a3.8 3.8 0 1 0 -7.6 0M434.7 82.9a3.8 3.8 0 1 0 7.6 0a3.8 3.8 0 1 0 -7.6 0M410.0 77.7a3.8 3.8 0 1 0 7.6 0a3.8 3.8 0 1 0 -7.6 0M427.6 84.4a3.8 3.8 0 1 0 7.6 0a3.8 3.8 0 1 0 -7.6 0M417.0 84.5a3.8 3.8 0 1 0 7.6 0a3.8 3.8 0 1 0 -7.6 0M408.0 84.6a3.8 3.8 0 1 0 7.6 0a3.8 3.8 0 1 0 -7.6 0M450.2 77.5a3.8 3.8 0 1 0 7.6 0a3.8 3.8 0 1 0 -7.6 0M436.2 76.1a3.8 3.8 0 1 0 7.6 0a3.8 3.8 0 1 0 -7.6 0M443.8 80.5a3.8 3.8 0 1 0 7.6 0a3.8 3.8 0 1 0 -7.6 0M404.6 78.3a3.8 3.8 0 1 0 7.6 0a3.8 3.8 0 1 0 -7.6 0M446.1 81.1a3.8 3.8 0 1 0 7.6 0a3.8 3.8 0 1 0 -7.6 0M413.1 84.6a3.8 3.8 0 1 0 7.6 0a3.8 3.8 0 1 0 -7.6 0M425.4 81.3a3.8 3.8 0 1 0 7.6 0a3.8 3.8 0 1 0 -7.6 0M404.4 81.9a3.8 3.8 0 1 0 7.6 0a3.8 3.8 0 1 0 -7.6 0M417.6 77.4a3.8 3.8 0 1 0 7.6 0a3.8 3.8 0 1 0 -7.6 0M413.7 77.2a3.8 3.8 0 1 0 7.6 0a3.8 3.8 0 1 0 -7.6 0M415.0 79.7a3.8 3.8 0 1 0 7.6 0a3.8 3.8 0 1 0 -7.6 0M409.2 84.4a3.8 3.8 0 1 0 7.6 0a3.8 3.8 0 1 0 -7.6 0M422.8 83.2a3.8 3.8 0 1 0 7.6 0a3.8 3.8 0 1 0 -7.6 0M417.0 58.6a3.8 3.8 0 1 0 7.6 0a3.8 3.8 0 1 0 -7.6 0M425.2 53.2a3.8 3.8 0 1 0 7.6 0a3.8 3.8 0 1 0 -7.6 0M432.8 44.1a3.8 3.8 0 1 0 7.6 0a3.8 3.8 0 1 0 -7.6 0M432.8 50.5a3.8 3.8 0 1 0 7.6 0a3.8 3.8 0 1 0 -7.6 0M436.5 55.9a3.8 3.8 0 1 0 7.6 0a3.8 3.8 0 1 0 -7.6 0M441.9 56.8a3.8 3.8 0 1 0 7.6 0a3.8 3.8 0 1 0 -7.6 0M448.8 56.5a3.8 3.8 0 1 0 7.6 0a3.8 3.8 0 1 0 -7.6 0M447.9 46.8a3.8 3.8 0 1 0 7.6 0a3.8 3.8 0 1 0 -7.6 0M451.0 46.8a3.8 3.8 0 1 0 7.6 0a3.8 3.8 0 1 0 -7.6 0M458.8 60.5a3.8 3.8 0 1 0 7.6 0a3.8 3.8 0 1 0 -7.6 0M467.0 57.2a3.8 3.8 0 1 0 7.6 0a3.8 3.8 0 1 0 -7.6 0M470.7 69.5a3.8 3.8 0 1 0 7.6 0a3.8 3.8 0 1 0 -7.6 0M468.8 79.5a3.8 3.8 0 1 0 7.6 0a3.8 3.8 0 1 0 -7.6 0M387.4 83.7a3.8 3.8 0 1 0 7.6 0a3.8 3.8 0 1 0 -7.6 0M399.1 155.9a3.8 3.8 0 1 0 7.6 0a3.8 3.8 0 1 0 -7.6 0M401.6 156.7a3.8 3.8 0 1 0 7.6 0a3.8 3.8 0 1 0 -7.6 0M413.0 138.7a3.8 3.8 0 1 0 7.6 0a3.8 3.8 0 1 0 -7.6 0M413.8 141.2a3.8 3.8 0 1 0 7.6 0a3.8 3.8 0 1 0 -7.6 0M417.1 140.4a3.8 3.8 0 1 0 7.6 0a3.8 3.8 0 1 0 -7.6 0M419.6 141.2a3.8 3.8 0 1 0 7.6 0a3.8 3.8 0 1 0 -7.6 0M422.8 146.1a3.8 3.8 0 1 0 7.6 0a3.8 3.8 0 1 0 -7.6 0M426.9 137.1a3.8 3.8 0 1 0 7.6 0a3.8 3.8 0 1 0 -7.6 0M431.0 142.0a3.8 3.8 0 1 0 7.6 0a3.8 3.8 0 1 0 -7.6 0M434.3 137.9a3.8 3.8 0 1 0 7.6 0a3.8 3.8 0 1 0 -7.6 0M436.8 141.2a3.8 3.8 0 1 0 7.6 0a3.8 3.8 0 1 0 -7.6 0M440.8 142.8a3.8 3.8 0 1 0 7.6 0a3.8 3.8 0 1 0 -7.6 0M442.5 138.7a3.8 3.8 0 1 0 7.6 0a3.8 3.8 0 1 0 -7.6 0M447.4 140.4a3.8 3.8 0 1 0 7.6 0a3.8 3.8 0 1 0 -7.6 0M450.7 137.9a3.8 3.8 0 1 0 7.6 0a3.8 3.8 0 1 0 -7.6 0M453.1 141.2a3.8 3.8 0 1 0 7.6 0a3.8 3.8 0 1 0 -7.6 0M432.7 143.6a3.8 3.8 0 1 0 7.6 0a3.8 3.8 0 1 0 -7.6 0M439.2 139.5a3.8 3.8 0 1 0 7.6 0a3.8 3.8 0 1 0 -7.6 0M424.3 213.4a3.8 3.8 0 1 0 7.6 0a3.8 3.8 0 1 0 -7.6 0M437.0 206.0a3.8 3.8 0 1 0 7.6 0a3.8 3.8 0 1 0 -7.6 0M417.3 208.7a3.8 3.8 0 1 0 7.6 0a3.8 3.8 0 1 0 -7.6 0M439.7 210.6a3.8 3.8 0 1 0 7.6 0a3.8 3.8 0 1 0 -7.6 0M432.0 209.5a3.8 3.8 0 1 0 7.6 0a3.8 3.8 0 1 0 -7.6 0M431.7 200.7a3.8 3.8 0 1 0 7.6 0a3.8 3.8 0 1 0 -7.6 0M427.2 212.8a3.8 3.8 0 1 0 7.6 0a3.8 3.8 0 1 0 -7.6 0M427.9 216.7a3.8 3.8 0 1 0 7.6 0a3.8 3.8 0 1 0 -7.6 0M444.7 207.9a3.8 3.8 0 1 0 7.6 0a3.8 3.8 0 1 0 -7.6 0M404.6 219.5a3.8 3.8 0 1 0 7.6 0a3.8 3.8 0 1 0 -7.6 0M407.8 214.4a3.8 3.8 0 1 0 7.6 0a3.8 3.8 0 1 0 -7.6 0M400.9 216.8a3.8 3.8 0 1 0 7.6 0a3.8 3.8 0 1 0 -7.6 0M432.4 213.8a3.8 3.8 0 1 0 7.6 0a3.8 3.8 0 1 0 -7.6 0M426.4 212.2a3.8 3.8 0 1 0 7.6 0a3.8 3.8 0 1 0 -7.6 0M402.3 217.0a3.8 3.8 0 1 0 7.6 0a3.8 3.8 0 1 0 -7.6 0M423.9 204.4a3.8 3.8 0 1 0 7.6 0a3.8 3.8 0 1 0 -7.6 0M428.5 210.7a3.8 3.8 0 1 0 7.6 0a3.8 3.8 0 1 0 -7.6 0M407.3 218.4a3.8 3.8 0 1 0 7.6 0a3.8 3.8 0 1 0 -7.6 0M435.1 206.7a3.8 3.8 0 1 0 7.6 0a3.8 3.8 0 1 0 -7.6 0M442.9 205.7a3.8 3.8 0 1 0 7.6 0a3.8 3.8 0 1 0 -7.6 0M406.9 210.3a3.8 3.8 0 1 0 7.6 0a3.8 3.8 0 1 0 -7.6 0M436.2 202.8a3.8 3.8 0 1 0 7.6 0a3.8 3.8 0 1 0 -7.6 0M419.0 218.3a3.8 3.8 0 1 0 7.6 0a3.8 3.8 0 1 0 -7.6 0M413.9 213.8a3.8 3.8 0 1 0 7.6 0a3.8 3.8 0 1 0 -7.6 0M405.2 211.0a3.8 3.8 0 1 0 7.6 0a3.8 3.8 0 1 0 -7.6 0M419.2 205.9a3.8 3.8 0 1 0 7.6 0a3.8 3.8 0 1 0 -7.6 0M436.3 204.1a3.8 3.8 0 1 0 7.6 0a3.8 3.8 0 1 0 -7.6 0M421.0 206.9a3.8 3.8 0 1 0 7.6 0a3.8 3.8 0 1 0 -7.6 0M406.6 218.0a3.8 3.8 0 1 0 7.6 0a3.8 3.8 0 1 0 -7.6 0M413.0 219.7a3.8 3.8 0 1 0 7.6 0a3.8 3.8 0 1 0 -7.6 0M420.1 209.5a3.8 3.8 0 1 0 7.6 0a3.8 3.8 0 1 0 -7.6 0M415.4 210.8a3.8 3.8 0 1 0 7.6 0a3.8 3.8 0 1 0 -7.6 0M399.7 217.2a3.8 3.8 0 1 0 7.6 0a3.8 3.8 0 1 0 -7.6 0M440.6 210.7a3.8 3.8 0 1 0 7.6 0a3.8 3.8 0 1 0 -7.6 0M416.7 215.5a3.8 3.8 0 1 0 7.6 0a3.8 3.8 0 1 0 -7.6 0M402.6 217.5a3.8 3.8 0 1 0 7.6 0a3.8 3.8 0 1 0 -7.6 0M427.5 205.5a3.8 3.8 0 1 0 7.6 0a3.8 3.8 0 1 0 -7.6 0M443.2 209.1a3.8 3.8 0 1 0 7.6 0a3.8 3.8 0 1 0 -7.6 0M437.6 206.2a3.8 3.8 0 1 0 7.6 0a3.8 3.8 0 1 0 -7.6 0M406.1 211.0a3.8 3.8 0 1 0 7.6 0a3.8 3.8 0 1 0 -7.6 0M428.2 205.5a3.8 3.8 0 1 0 7.6 0a3.8 3.8 0 1 0 -7.6 0M410.6 214.9a3.8 3.8 0 1 0 7.6 0a3.8 3.8 0 1 0 -7.6 0M418.4 207.0a3.8 3.8 0 1 0 7.6 0a3.8 3.8 0 1 0 -7.6 0M433.6 211.8a3.8 3.8 0 1 0 7.6 0a3.8 3.8 0 1 0 -7.6 0M417.8 207.6a3.8 3.8 0 1 0 7.6 0a3.8 3.8 0 1 0 -7.6 0M441.4 210.1a3.8 3.8 0 1 0 7.6 0a3.8 3.8 0 1 0 -7.6 0M403.1 213.8a3.8 3.8 0 1 0 7.6 0a3.8 3.8 0 1 0 -7.6 0M413.6 213.9a3.8 3.8 0 1 0 7.6 0a3.8 3.8 0 1 0 -7.6 0M414.6 219.8a3.8 3.8 0 1 0 7.6 0a3.8 3.8 0 1 0 -7.6 0M445.9 207.2a3.8 3.8 0 1 0 7.6 0a3.8 3.8 0 1 0 -7.6 0M438.8 202.3a3.8 3.8 0 1 0 7.6 0a3.8 3.8 0 1 0 -7.6 0M419.7 209.6a3.8 3.8 0 1 0 7.6 0a3.8 3.8 0 1 0 -7.6 0M403.2 212.7a3.8 3.8 0 1 0 7.6 0a3.8 3.8 0 1 0 -7.6 0M428.4 206.9a3.8 3.8 0 1 0 7.6 0a3.8 3.8 0 1 0 -7.6 0M420.1 217.3a3.8 3.8 0 1 0 7.6 0a3.8 3.8 0 1 0 -7.6 0M414.9 215.7a3.8 3.8 0 1 0 7.6 0a3.8 3.8 0 1 0 -7.6 0M400.9 210.9a3.8 3.8 0 1 0 7.6 0a3.8 3.8 0 1 0 -7.6 0M416.2 216.8a3.8 3.8 0 1 0 7.6 0a3.8 3.8 0 1 0 -7.6 0M404.6 218.6a3.8 3.8 0 1 0 7.6 0a3.8 3.8 0 1 0 -7.6 0M433.0 200.6a3.8 3.8 0 1 0 7.6 0a3.8 3.8 0 1 0 -7.6 0M442.1 202.1a3.8 3.8 0 1 0 7.6 0a3.8 3.8 0 1 0 -7.6 0M420.7 204.7a3.8 3.8 0 1 0 7.6 0a3.8 3.8 0 1 0 -7.6 0M397.5 217.9a3.8 3.8 0 1 0 7.6 0a3.8 3.8 0 1 0 -7.6 0M410.7 217.7a3.8 3.8 0 1 0 7.6 0a3.8 3.8 0 1 0 -7.6 0M426.2 207.0a3.8 3.8 0 1 0 7.6 0a3.8 3.8 0 1 0 -7.6 0M421.5 216.1a3.8 3.8 0 1 0 7.6 0a3.8 3.8 0 1 0 -7.6 0M423.0 205.4a3.8 3.8 0 1 0 7.6 0a3.8 3.8 0 1 0 -7.6 0M396.0 218.2a3.8 3.8 0 1 0 7.6 0a3.8 3.8 0 1 0 -7.6 0M435.1 211.8a3.8 3.8 0 1 0 7.6 0a3.8 3.8 0 1 0 -7.6 0M441.4 207.5a3.8 3.8 0 1 0 7.6 0a3.8 3.8 0 1 0 -7.6 0M439.4 202.4a3.8 3.8 0 1 0 7.6 0a3.8 3.8 0 1 0 -7.6 0M435.8 207.3a3.8 3.8 0 1 0 7.6 0a3.8 3.8 0 1 0 -7.6 0M407.5 216.8a3.8 3.8 0 1 0 7.6 0a3.8 3.8 0 1 0 -7.6 0M423.1 215.3a3.8 3.8 0 1 0 7.6 0a3.8 3.8 0 1 0 -7.6 0M437.7 201.8a3.8 3.8 0 1 0 7.6 0a3.8 3.8 0 1 0 -7.6 0M409.4 211.1a3.8 3.8 0 1 0 7.6 0a3.8 3.8 0 1 0 -7.6 0M409.4 210.9a3.8 3.8 0 1 0 7.6 0a3.8 3.8 0 1 0 -7.6 0M430.7 216.1a3.8 3.8 0 1 0 7.6 0a3.8 3.8 0 1 0 -7.6 0M436.4 285.7a3.8 3.8 0 1 0 7.6 0a3.8 3.8 0 1 0 -7.6 0M430.0 286.9a3.8 3.8 0 1 0 7.6 0a3.8 3.8 0 1 0 -7.6 0M424.4 278.3a3.8 3.8 0 1 0 7.6 0a3.8 3.8 0 1 0 -7.6 0M452.2 275.2a3.8 3.8 0 1 0 7.6 0a3.8 3.8 0 1 0 -7.6 0M442.2 279.9a3.8 3.8 0 1 0 7.6 0a3.8 3.8 0 1 0 -7.6 0M426.1 281.9a3.8 3.8 0 1 0 7.6 0a3.8 3.8 0 1 0 -7.6 0M438.3 285.1a3.8 3.8 0 1 0 7.6 0a3.8 3.8 0 1 0 -7.6 0M423.3 285.7a3.8 3.8 0 1 0 7.6 0a3.8 3.8 0 1 0 -7.6 0M431.2 284.0a3.8 3.8 0 1 0 7.6 0a3.8 3.8 0 1 0 -7.6 0M430.9 285.0a3.8 3.8 0 1 0 7.6 0a3.8 3.8 0 1 0 -7.6 0M427.4 279.5a3.8 3.8 0 1 0 7.6 0a3.8 3.8 0 1 0 -7.6 0M440.9 281.9a3.8 3.8 0 1 0 7.6 0a3.8 3.8 0 1 0 -7.6 0M422.9 282.0a3.8 3.8 0 1 0 7.6 0a3.8 3.8 0 1 0 -7.6 0M450.2 279.9a3.8 3.8 0 1 0 7.6 0a3.8 3.8 0 1 0 -7.6 0M431.8 286.5a3.8 3.8 0 1 0 7.6 0a3.8 3.8 0 1 0 -7.6 0M439.1 281.4a3.8 3.8 0 1 0 7.6 0a3.8 3.8 0 1 0 -7.6 0M425.1 278.8a3.8 3.8 0 1 0 7.6 0a3.8 3.8 0 1 0 -7.6 0M446.0 274.9a3.8 3.8 0 1 0 7.6 0a3.8 3.8 0 1 0 -7.6 0M437.1 286.2a3.8 3.8 0 1 0 7.6 0a3.8 3.8 0 1 0 -7.6 0M435.7 284.6a3.8 3.8 0 1 0 7.6 0a3.8 3.8 0 1 0 -7.6 0M425.5 286.9a3.8 3.8 0 1 0 7.6 0a3.8 3.8 0 1 0 -7.6 0M426.0 278.1a3.8 3.8 0 1 0 7.6 0a3.8 3.8 0 1 0 -7.6 0M448.9 276.7a3.8 3.8 0 1 0 7.6 0a3.8 3.8 0 1 0 -7.6 0M435.3 280.1a3.8 3.8 0 1 0 7.6 0a3.8 3.8 0 1 0 -7.6 0M428.7 284.6a3.8 3.8 0 1 0 7.6 0a3.8 3.8 0 1 0 -7.6 0M425.5 285.4a3.8 3.8 0 1 0 7.6 0a3.8 3.8 0 1 0 -7.6 0M448.5 277.6a3.8 3.8 0 1 0 7.6 0a3.8 3.8 0 1 0 -7.6 0M444.0 279.4a3.8 3.8 0 1 0 7.6 0a3.8 3.8 0 1 0 -7.6 0M442.2 277.0a3.8 3.8 0 1 0 7.6 0a3.8 3.8 0 1 0 -7.6 0M442.9 286.5a3.8 3.8 0 1 0 7.6 0a3.8 3.8 0 1 0 -7.6 0M453.3 281.7a3.8 3.8 0 1 0 7.6 0a3.8 3.8 0 1 0 -7.6 0M433.0 283.6a3.8 3.8 0 1 0 7.6 0a3.8 3.8 0 1 0 -7.6 0M441.1 281.3a3.8 3.8 0 1 0 7.6 0a3.8 3.8 0 1 0 -7.6 0M454.7 275.7a3.8 3.8 0 1 0 7.6 0a3.8 3.8 0 1 0 -7.6 0M446.3 284.1a3.8 3.8 0 1 0 7.6 0a3.8 3.8 0 1 0 -7.6 0M441.6 280.2a3.8 3.8 0 1 0 7.6 0a3.8 3.8 0 1 0 -7.6 0M423.2 286.5a3.8 3.8 0 1 0 7.6 0a3.8 3.8 0 1 0 -7.6 0M429.3 283.6a3.8 3.8 0 1 0 7.6 0a3.8 3.8 0 1 0 -7.6 0M441.4 278.9a3.8 3.8 0 1 0 7.6 0a3.8 3.8 0 1 0 -7.6 0M437.0 276.2a3.8 3.8 0 1 0 7.6 0a3.8 3.8 0 1 0 -7.6 0M403.2 287.4a3.8 3.8 0 1 0 7.6 0a3.8 3.8 0 1 0 -7.6 0M410.6 283.8a3.8 3.8 0 1 0 7.6 0a3.8 3.8 0 1 0 -7.6 0M416.3 262.0a3.8 3.8 0 1 0 7.6 0a3.8 3.8 0 1 0 -7.6 0M420.4 271.8a3.8 3.8 0 1 0 7.6 0a3.8 3.8 0 1 0 -7.6 0M425.3 256.3a3.8 3.8 0 1 0 7.6 0a3.8 3.8 0 1 0 -7.6 0M432.7 248.1a3.8 3.8 0 1 0 7.6 0a3.8 3.8 0 1 0 -7.6 0M432.7 253.3a3.8 3.8 0 1 0 7.6 0a3.8 3.8 0 1 0 -7.6 0M435.9 259.5a3.8 3.8 0 1 0 7.6 0a3.8 3.8 0 1 0 -7.6 0M441.7 260.4a3.8 3.8 0 1 0 7.6 0a3.8 3.8 0 1 0 -7.6 0M442.5 264.8a3.8 3.8 0 1 0 7.6 0a3.8 3.8 0 1 0 -7.6 0M435.9 266.1a3.8 3.8 0 1 0 7.6 0a3.8 3.8 0 1 0 -7.6 0M448.2 259.5a3.8 3.8 0 1 0 7.6 0a3.8 3.8 0 1 0 -7.6 0M448.2 250.5a3.8 3.8 0 1 0 7.6 0a3.8 3.8 0 1 0 -7.6 0M450.7 250.5a3.8 3.8 0 1 0 7.6 0a3.8 3.8 0 1 0 -7.6 0M450.7 267.7a3.8 3.8 0 1 0 7.6 0a3.8 3.8 0 1 0 -7.6 0M457.2 275.1a3.8 3.8 0 1 0 7.6 0a3.8 3.8 0 1 0 -7.6 0M439.2 269.4a3.8 3.8 0 1 0 7.6 0a3.8 3.8 0 1 0 -7.6 0M444.9 268.6a3.8 3.8 0 1 0 7.6 0a3.8 3.8 0 1 0 -7.6 0M420.4 275.1a3.8 3.8 0 1 0 7.6 0a3.8 3.8 0 1 0 -7.6 0M395.0 352.9a3.8 3.8 0 1 0 7.6 0a3.8 3.8 0 1 0 -7.6 0M399.1 354.5a3.8 3.8 0 1 0 7.6 0a3.8 3.8 0 1 0 -7.6 0M405.7 348.8a3.8 3.8 0 1 0 7.6 0a3.8 3.8 0 1 0 -7.6 0M407.3 346.4a3.8 3.8 0 1 0 7.6 0a3.8 3.8 0 1 0 -7.6 0M409.7 352.9a3.8 3.8 0 1 0 7.6 0a3.8 3.8 0 1 0 -7.6 0M412.2 349.6a3.8 3.8 0 1 0 7.6 0a3.8 3.8 0 1 0 -7.6 0M415.5 354.5a3.8 3.8 0 1 0 7.6 0a3.8 3.8 0 1 0 -7.6 0M417.1 348.8a3.8 3.8 0 1 0 7.6 0a3.8 3.8 0 1 0 -7.6 0M420.4 343.9a3.8 3.8 0 1 0 7.6 0a3.8 3.8 0 1 0 -7.6 0M422.0 346.4a3.8 3.8 0 1 0 7.6 0a3.8 3.8 0 1 0 -7.6 0M423.7 352.9a3.8 3.8 0 1 0 7.6 0a3.8 3.8 0 1 0 -7.6 0M427.8 348.0a3.8 3.8 0 1 0 7.6 0a3.8 3.8 0 1 0 -7.6 0M402.4 351.3a3.8 3.8 0 1 0 7.6 0a3.8 3.8 0 1 0 -7.6 0M413.8 351.3a3.8 3.8 0 1 0 7.6 0a3.8 3.8 0 1 0 -7.6 0M452.9 416.8a3.8 3.8 0 1 0 7.6 0a3.8 3.8 0 1 0 -7.6 0M418.6 416.1a3.8 3.8 0 1 0 7.6 0a3.8 3.8 0 1 0 -7.6 0M419.9 414.5a3.8 3.8 0 1 0 7.6 0a3.8 3.8 0 1 0 -7.6 0M450.4 408.0a3.8 3.8 0 1 0 7.6 0a3.8 3.8 0 1 0 -7.6 0M467.0 407.9a3.8 3.8 0 1 0 7.6 0a3.8 3.8 0 1 0 -7.6 0M412.0 421.2a3.8 3.8 0 1 0 7.6 0a3.8 3.8 0 1 0 -7.6 0M457.4 418.1a3.8 3.8 0 1 0 7.6 0a3.8 3.8 0 1 0 -7.6 0M468.0 409.0a3.8 3.8 0 1 0 7.6 0a3.8 3.8 0 1 0 -7.6 0M458.8 415.3a3.8 3.8 0 1 0 7.6 0a3.8 3.8 0 1 0 -7.6 0M442.7 417.5a3.8 3.8 0 1 0 7.6 0a3.8 3.8 0 1 0 -7.6 0M446.5 408.7a3.8 3.8 0 1 0 7.6 0a3.8 3.8 0 1 0 -7.6 0M465.7 416.0a3.8 3.8 0 1 0 7.6 0a3.8 3.8 0 1 0 -7.6 0M416.8 418.1a3.8 3.8 0 1 0 7.6 0a3.8 3.8 0 1 0 -7.6 0M446.7 413.7a3.8 3.8 0 1 0 7.6 0a3.8 3.8 0 1 0 -7.6 0M419.3 423.7a3.8 3.8 0 1 0 7.6 0a3.8 3.8 0 1 0 -7.6 0M426.0 416.2a3.8 3.8 0 1 0 7.6 0a3.8 3.8 0 1 0 -7.6 0M464.3 411.1a3.8 3.8 0 1 0 7.6 0a3.8 3.8 0 1 0 -7.6 0M421.6 413.8a3.8 3.8 0 1 0 7.6 0a3.8 3.8 0 1 0 -7.6 0M456.4 410.2a3.8 3.8 0 1 0 7.6 0a3.8 3.8 0 1 0 -7.6 0M451.9 416.9a3.8 3.8 0 1 0 7.6 0a3.8 3.8 0 1 0 -7.6 0M422.9 415.8a3.8 3.8 0 1 0 7.6 0a3.8 3.8 0 1 0 -7.6 0M433.6 411.0a3.8 3.8 0 1 0 7.6 0a3.8 3.8 0 1 0 -7.6 0M461.8 406.0a3.8 3.8 0 1 0 7.6 0a3.8 3.8 0 1 0 -7.6 0M417.3 422.9a3.8 3.8 0 1 0 7.6 0a3.8 3.8 0 1 0 -7.6 0M424.9 415.8a3.8 3.8 0 1 0 7.6 0a3.8 3.8 0 1 0 -7.6 0M415.6 419.0a3.8 3.8 0 1 0 7.6 0a3.8 3.8 0 1 0 -7.6 0M455.6 413.0a3.8 3.8 0 1 0 7.6 0a3.8 3.8 0 1 0 -7.6 0M459.0 407.2a3.8 3.8 0 1 0 7.6 0a3.8 3.8 0 1 0 -7.6 0M436.2 413.5a3.8 3.8 0 1 0 7.6 0a3.8 3.8 0 1 0 -7.6 0M461.6 410.2a3.8 3.8 0 1 0 7.6 0a3.8 3.8 0 1 0 -7.6 0M440.3 418.2a3.8 3.8 0 1 0 7.6 0a3.8 3.8 0 1 0 -7.6 0M447.4 410.6a3.8 3.8 0 1 0 7.6 0a3.8 3.8 0 1 0 -7.6 0M427.4 414.5a3.8 3.8 0 1 0 7.6 0a3.8 3.8 0 1 0 -7.6 0M414.3 423.5a3.8 3.8 0 1 0 7.6 0a3.8 3.8 0 1 0 -7.6 0M436.0 419.6a3.8 3.8 0 1 0 7.6 0a3.8 3.8 0 1 0 -7.6 0M433.4 410.2a3.8 3.8 0 1 0 7.6 0a3.8 3.8 0 1 0 -7.6 0M452.4 416.7a3.8 3.8 0 1 0 7.6 0a3.8 3.8 0 1 0 -7.6 0M427.5 421.6a3.8 3.8 0 1 0 7.6 0a3.8 3.8 0 1 0 -7.6 0M421.8 423.2a3.8 3.8 0 1 0 7.6 0a3.8 3.8 0 1 0 -7.6 0M460.9 413.5a3.8 3.8 0 1 0 7.6 0a3.8 3.8 0 1 0 -7.6 0M460.1 403.5a3.8 3.8 0 1 0 7.6 0a3.8 3.8 0 1 0 -7.6 0M455.9 411.0a3.8 3.8 0 1 0 7.6 0a3.8 3.8 0 1 0 -7.6 0M441.4 417.9a3.8 3.8 0 1 0 7.6 0a3.8 3.8 0 1 0 -7.6 0M442.8 413.3a3.8 3.8 0 1 0 7.6 0a3.8 3.8 0 1 0 -7.6 0M438.0 421.3a3.8 3.8 0 1 0 7.6 0a3.8 3.8 0 1 0 -7.6 0M417.7 414.6a3.8 3.8 0 1 0 7.6 0a3.8 3.8 0 1 0 -7.6 0M462.7 405.6a3.8 3.8 0 1 0 7.6 0a3.8 3.8 0 1 0 -7.6 0M445.4 410.1a3.8 3.8 0 1 0 7.6 0a3.8 3.8 0 1 0 -7.6 0M418.9 417.8a3.8 3.8 0 1 0 7.6 0a3.8 3.8 0 1 0 -7.6 0M431.1 416.6a3.8 3.8 0 1 0 7.6 0a3.8 3.8 0 1 0 -7.6 0M426.0 418.7a3.8 3.8 0 1 0 7.6 0a3.8 3.8 0 1 0 -7.6 0M462.0 408.8a3.8 3.8 0 1 0 7.6 0a3.8 3.8 0 1 0 -7.6 0M459.1 417.5a3.8 3.8 0 1 0 7.6 0a3.8 3.8 0 1 0 -7.6 0M425.0 416.4a3.8 3.8 0 1 0 7.6 0a3.8 3.8 0 1 0 -7.6 0M423.2 414.9a3.8 3.8 0 1 0 7.6 0a3.8 3.8 0 1 0 -7.6 0M386.0 423.1a3.8 3.8 0 1 0 7.6 0a3.8 3.8 0 1 0 -7.6 0M468.1 397.0a3.8 3.8 0 1 0 7.6 0a3.8 3.8 0 1 0 -7.6 0M469.0 418.9a3.8 3.8 0 1 0 7.6 0a3.8 3.8 0 1 0 -7.6 0M400.3 425.6a3.8 3.8 0 1 0 7.6 0a3.8 3.8 0 1 0 -7.6 0" fill="none" stroke="#d0142a" stroke-width="1.2"/>
<polyline points="64.8,83.3 76.3,81.0 87.7,78.5 97.6,76.2 105.7,73.8 112.3,70.7 120.5,65.8 127.0,61.2 135.2,55.3 141.7,50.1" fill="none" stroke="#1a47b8" stroke-width="3.2" stroke-linecap="round" stroke-linejoin="round"/>
<polyline points="68.9,150.2 74.6,147.6 81.2,145.1 87.7,143.2 95.9,141.5 107.4,139.7 120.5,138.4" fill="none" stroke="#1a47b8" stroke-width="3.2" stroke-linecap="round" stroke-linejoin="round"/>
<polyline points="66.5,219.3 107.4,210.0" fill="none" stroke="#1a47b8" stroke-width="3.2" stroke-linecap="round" stroke-linejoin="round"/>
<polyline points="73.3,285.5 88.4,282.5 104.5,277.4 116.7,270.4 128.8,261.3 142.3,251.6" fill="none" stroke="#1a47b8" stroke-width="3.2" stroke-linecap="round" stroke-linejoin="round"/>
<polyline points="66.5,353.7 116.4,345.5" fill="none" stroke="#1a47b8" stroke-width="3.2" stroke-linecap="round" stroke-linejoin="round"/>
<polyline points="65.2,423.5 124.1,406.8" fill="none" stroke="#1a47b8" stroke-width="3.2" stroke-linecap="round" stroke-linejoin="round"/>
<polyline points="176.0,84.1 189.6,81.7 202.4,79.5 213.3,77.9 224.2,75.9 231.5,73.5 238.7,70.5 247.8,65.0 255.1,59.5" fill="none" stroke="#1a47b8" stroke-width="3.2" stroke-linecap="round" stroke-linejoin="round"/>
<polyline points="187.8,150.5 195.1,147.9 202.4,145.9 211.5,143.7 220.5,141.9 238.7,139.7 255.1,138.3" fill="none" stroke="#1a47b8" stroke-width="3.2" stroke-linecap="round" stroke-linejoin="round"/>
<polyline points="183.2,219.0 238.8,210.3" fill="none" stroke="#1a47b8" stroke-width="3.2" stroke-linecap="round" stroke-linejoin="round"/>
<polyline points="195.0,283.9 209.5,283.5 223.6,281.9 233.7,278.4 241.8,272.4 249.9,264.3 255.9,256.9" fill="none" stroke="#1a47b8" stroke-width="3.2" stroke-linecap="round" stroke-linejoin="round"/>
<polyline points="181.5,353.7 246.2,346.0" fill="none" stroke="#1a47b8" stroke-width="3.2" stroke-linecap="round" stroke-linejoin="round"/>
<polyline points="176.2,423.1 253.9,409.0" fill="none" stroke="#1a47b8" stroke-width="3.2" stroke-linecap="round" stroke-linejoin="round"/>
<polyline points="289.3,83.8 299.9,81.5 309.7,79.0 317.9,76.7 325.3,74.0 331.8,69.9 337.6,65.6 347.4,57.7 355.2,51.4" fill="none" stroke="#1a47b8" stroke-width="3.2" stroke-linecap="round" stroke-linejoin="round"/>
<polyline points="292.5,151.3 298.3,148.4 304.8,146.1 311.4,144.0 319.6,142.0 329.4,140.2 339.2,138.7" fill="none" stroke="#1a47b8" stroke-width="3.2" stroke-linecap="round" stroke-linejoin="round"/>
<polyline points="290.9,219.3 326.9,208.2" fill="none" stroke="#1a47b8" stroke-width="3.2" stroke-linecap="round" stroke-linejoin="round"/>
<polyline points="297.3,285.5 312.4,282.5 326.5,277.4 338.7,269.4 346.7,261.3 354.8,253.2" fill="none" stroke="#1a47b8" stroke-width="3.2" stroke-linecap="round" stroke-linejoin="round"/>
<polyline points="290.1,354.2 335.9,345.9" fill="none" stroke="#1a47b8" stroke-width="3.2" stroke-linecap="round" stroke-linejoin="round"/>
<polyline points="289.2,423.5 341.7,407.0" fill="none" stroke="#1a47b8" stroke-width="3.2" stroke-linecap="round" stroke-linejoin="round"/>
<polyline points="390.8,84.5 473.5,68.6" fill="none" stroke="#1a47b8" stroke-width="3.2" stroke-linecap="round" stroke-linejoin="round"/>
<polyline points="402.9,151.3 456.1,137.1" fill="none" stroke="#1a47b8" stroke-width="3.2" stroke-linecap="round" stroke-linejoin="round"/>
<polyline points="401.3,218.0 451.2,210.3" fill="none" stroke="#1a47b8" stroke-width="3.2" stroke-linecap="round" stroke-linejoin="round"/>
<polyline points="408.6,280.0 460.2,269.7" fill="none" stroke="#1a47b8" stroke-width="3.2" stroke-linecap="round" stroke-linejoin="round"/>
<polyline points="400.5,353.2 431.6,350.0" fill="none" stroke="#1a47b8" stroke-width="3.2" stroke-linecap="round" stroke-linejoin="round"/>
<polyline points="390.5,425.1 473.3,409.4" fill="none" stroke="#1a47b8" stroke-width="3.2" stroke-linecap="round" stroke-linejoin="round"/>
</svg></body></html>
